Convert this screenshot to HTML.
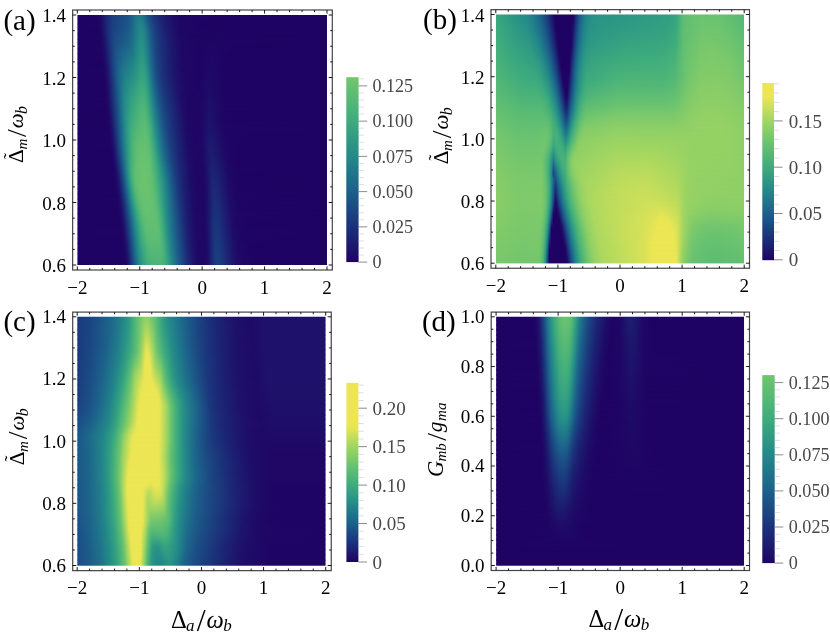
<!DOCTYPE html>
<html><head><meta charset="utf-8"><title>figure</title>
<style>html,body{margin:0;padding:0;background:#fff}svg{display:block}text{font-family:"Liberation Serif","DejaVu Serif",serif}</style>
</head><body>
<svg width="830" height="638" viewBox="0 0 830 638">
<defs><linearGradient id="vg" x1="0" y1="0" x2="0" y2="1"><stop offset="0" stop-color="#000"/><stop offset="1" stop-color="#fff"/></linearGradient><mask id="vm" maskContentUnits="objectBoundingBox"><rect x="0" y="0" width="1" height="1" fill="url(#vg)"/></mask>
<linearGradient id="a0"><stop offset="0" stop-color="#1f0363"/><stop offset="0.08" stop-color="#1f0464"/><stop offset="0.096" stop-color="#1e0e69"/><stop offset="0.128" stop-color="#1b347c"/><stop offset="0.152" stop-color="#1b4180"/><stop offset="0.192" stop-color="#1c4e85"/><stop offset="0.208" stop-color="#1c5888"/><stop offset="0.224" stop-color="#1d688b"/><stop offset="0.24" stop-color="#20788a"/><stop offset="0.248" stop-color="#207a8a"/><stop offset="0.256" stop-color="#20768a"/><stop offset="0.264" stop-color="#1e6e8a"/><stop offset="0.272" stop-color="#1c628b"/><stop offset="0.288" stop-color="#1b4782"/><stop offset="0.304" stop-color="#1b367c"/><stop offset="0.344" stop-color="#1d1c70"/><stop offset="0.392" stop-color="#1f0966"/><stop offset="0.432" stop-color="#1f0464"/><stop offset="1" stop-color="#1f0363"/></linearGradient>
<linearGradient id="a1"><stop offset="0" stop-color="#1f0363"/><stop offset="0.08" stop-color="#1f0464"/><stop offset="0.096" stop-color="#1e0d68"/><stop offset="0.128" stop-color="#1b347c"/><stop offset="0.144" stop-color="#1b4080"/><stop offset="0.2" stop-color="#1c5387"/><stop offset="0.216" stop-color="#1c618b"/><stop offset="0.24" stop-color="#217b8a"/><stop offset="0.248" stop-color="#218089"/><stop offset="0.256" stop-color="#217e8a"/><stop offset="0.264" stop-color="#20778a"/><stop offset="0.28" stop-color="#1c5d8a"/><stop offset="0.288" stop-color="#1c4f85"/><stop offset="0.304" stop-color="#1b3b7e"/><stop offset="0.336" stop-color="#1c2474"/><stop offset="0.384" stop-color="#1e0d68"/><stop offset="0.416" stop-color="#1f0664"/><stop offset="0.624" stop-color="#1f0363"/><stop offset="1" stop-color="#1f0363"/></linearGradient>
<linearGradient id="a2"><stop offset="0" stop-color="#1f0363"/><stop offset="0.08" stop-color="#1f0463"/><stop offset="0.096" stop-color="#1e0b67"/><stop offset="0.112" stop-color="#1d1f71"/><stop offset="0.128" stop-color="#1b357c"/><stop offset="0.144" stop-color="#1b4180"/><stop offset="0.2" stop-color="#1c5587"/><stop offset="0.216" stop-color="#1c628b"/><stop offset="0.24" stop-color="#217e8a"/><stop offset="0.248" stop-color="#228489"/><stop offset="0.256" stop-color="#228589"/><stop offset="0.264" stop-color="#217f8a"/><stop offset="0.272" stop-color="#1f748a"/><stop offset="0.28" stop-color="#1d668b"/><stop offset="0.296" stop-color="#1c4a83"/><stop offset="0.32" stop-color="#1b337b"/><stop offset="0.36" stop-color="#1d1a6f"/><stop offset="0.408" stop-color="#1f0865"/><stop offset="0.496" stop-color="#1f0363"/><stop offset="1" stop-color="#1f0363"/></linearGradient>
<linearGradient id="a3"><stop offset="0" stop-color="#1f0363"/><stop offset="0.08" stop-color="#1f0363"/><stop offset="0.096" stop-color="#1e0a66"/><stop offset="0.112" stop-color="#1d1d70"/><stop offset="0.128" stop-color="#1b357c"/><stop offset="0.144" stop-color="#1b4381"/><stop offset="0.2" stop-color="#1c5888"/><stop offset="0.216" stop-color="#1d648b"/><stop offset="0.248" stop-color="#238889"/><stop offset="0.256" stop-color="#238a89"/><stop offset="0.264" stop-color="#228689"/><stop offset="0.272" stop-color="#217c8a"/><stop offset="0.288" stop-color="#1c5e8a"/><stop offset="0.296" stop-color="#1c5186"/><stop offset="0.312" stop-color="#1b3e7f"/><stop offset="0.344" stop-color="#1c2575"/><stop offset="0.384" stop-color="#1e116a"/><stop offset="0.416" stop-color="#1f0765"/><stop offset="0.504" stop-color="#1f0463"/><stop offset="1" stop-color="#1f0363"/></linearGradient>
<linearGradient id="a4"><stop offset="0" stop-color="#1f0363"/><stop offset="0.088" stop-color="#1f0464"/><stop offset="0.096" stop-color="#1f0866"/><stop offset="0.104" stop-color="#1e106a"/><stop offset="0.128" stop-color="#1b347c"/><stop offset="0.144" stop-color="#1b4582"/><stop offset="0.168" stop-color="#1c4f85"/><stop offset="0.2" stop-color="#1c5b89"/><stop offset="0.216" stop-color="#1d668b"/><stop offset="0.248" stop-color="#238a89"/><stop offset="0.256" stop-color="#258d88"/><stop offset="0.264" stop-color="#238a89"/><stop offset="0.272" stop-color="#218189"/><stop offset="0.288" stop-color="#1d648b"/><stop offset="0.304" stop-color="#1c4a83"/><stop offset="0.328" stop-color="#1b337b"/><stop offset="0.368" stop-color="#1d1a6f"/><stop offset="0.408" stop-color="#1e0a66"/><stop offset="0.472" stop-color="#1f0463"/><stop offset="1" stop-color="#1f0363"/></linearGradient>
<linearGradient id="a5"><stop offset="0" stop-color="#1f0363"/><stop offset="0.088" stop-color="#1f0463"/><stop offset="0.096" stop-color="#1f0765"/><stop offset="0.104" stop-color="#1e0e68"/><stop offset="0.12" stop-color="#1c2575"/><stop offset="0.136" stop-color="#1b3e7f"/><stop offset="0.152" stop-color="#1c4c84"/><stop offset="0.208" stop-color="#1c638b"/><stop offset="0.224" stop-color="#1f718a"/><stop offset="0.248" stop-color="#258c88"/><stop offset="0.256" stop-color="#278f87"/><stop offset="0.264" stop-color="#258c88"/><stop offset="0.272" stop-color="#228489"/><stop offset="0.288" stop-color="#1d688b"/><stop offset="0.304" stop-color="#1c4d84"/><stop offset="0.328" stop-color="#1b357c"/><stop offset="0.368" stop-color="#1d1b6f"/><stop offset="0.416" stop-color="#1f0866"/><stop offset="0.496" stop-color="#1f0463"/><stop offset="0.552" stop-color="#1f0564"/><stop offset="1" stop-color="#1f0363"/></linearGradient>
<linearGradient id="a6"><stop offset="0" stop-color="#1f0363"/><stop offset="0.088" stop-color="#1f0463"/><stop offset="0.096" stop-color="#1f0664"/><stop offset="0.104" stop-color="#1e0c67"/><stop offset="0.112" stop-color="#1d156c"/><stop offset="0.128" stop-color="#1b317a"/><stop offset="0.144" stop-color="#1b4782"/><stop offset="0.16" stop-color="#1c5487"/><stop offset="0.2" stop-color="#1d638b"/><stop offset="0.216" stop-color="#1e6c8a"/><stop offset="0.24" stop-color="#228789"/><stop offset="0.248" stop-color="#268e88"/><stop offset="0.256" stop-color="#299186"/><stop offset="0.264" stop-color="#278f87"/><stop offset="0.272" stop-color="#238789"/><stop offset="0.288" stop-color="#1e6c8a"/><stop offset="0.296" stop-color="#1c5d8a"/><stop offset="0.312" stop-color="#1b4582"/><stop offset="0.336" stop-color="#1b307a"/><stop offset="0.376" stop-color="#1d176d"/><stop offset="0.416" stop-color="#1f0966"/><stop offset="0.488" stop-color="#1f0463"/><stop offset="0.544" stop-color="#1f0664"/><stop offset="0.664" stop-color="#1f0363"/><stop offset="1" stop-color="#1f0363"/></linearGradient>
<linearGradient id="a7"><stop offset="0" stop-color="#1f0363"/><stop offset="0.096" stop-color="#1f0564"/><stop offset="0.104" stop-color="#1e0a66"/><stop offset="0.112" stop-color="#1e136b"/><stop offset="0.136" stop-color="#1b3c7e"/><stop offset="0.152" stop-color="#1c5085"/><stop offset="0.176" stop-color="#1c608b"/><stop offset="0.216" stop-color="#1f718a"/><stop offset="0.24" stop-color="#238a89"/><stop offset="0.248" stop-color="#289087"/><stop offset="0.256" stop-color="#2b9486"/><stop offset="0.264" stop-color="#299286"/><stop offset="0.272" stop-color="#238b89"/><stop offset="0.288" stop-color="#1f6f8a"/><stop offset="0.296" stop-color="#1c608b"/><stop offset="0.312" stop-color="#1b4782"/><stop offset="0.336" stop-color="#1b317a"/><stop offset="0.376" stop-color="#1d186e"/><stop offset="0.416" stop-color="#1e0966"/><stop offset="0.488" stop-color="#1f0463"/><stop offset="0.544" stop-color="#1f0665"/><stop offset="0.632" stop-color="#1f0363"/><stop offset="1" stop-color="#1f0363"/></linearGradient>
<linearGradient id="a8"><stop offset="0" stop-color="#1f0363"/><stop offset="0.096" stop-color="#1f0464"/><stop offset="0.104" stop-color="#1f0866"/><stop offset="0.112" stop-color="#1e106a"/><stop offset="0.128" stop-color="#1c2b78"/><stop offset="0.144" stop-color="#1b4782"/><stop offset="0.16" stop-color="#1c5989"/><stop offset="0.184" stop-color="#1d688b"/><stop offset="0.216" stop-color="#20768a"/><stop offset="0.24" stop-color="#258c88"/><stop offset="0.256" stop-color="#2d9785"/><stop offset="0.264" stop-color="#2c9585"/><stop offset="0.272" stop-color="#268e88"/><stop offset="0.288" stop-color="#1f728a"/><stop offset="0.296" stop-color="#1c638b"/><stop offset="0.312" stop-color="#1b4983"/><stop offset="0.336" stop-color="#1b317b"/><stop offset="0.376" stop-color="#1d196e"/><stop offset="0.416" stop-color="#1e0966"/><stop offset="0.48" stop-color="#1f0463"/><stop offset="0.536" stop-color="#1f0765"/><stop offset="0.608" stop-color="#1f0363"/><stop offset="1" stop-color="#1f0363"/></linearGradient>
<linearGradient id="a9"><stop offset="0" stop-color="#1f0363"/><stop offset="0.096" stop-color="#1f0463"/><stop offset="0.104" stop-color="#1f0765"/><stop offset="0.112" stop-color="#1e0e68"/><stop offset="0.12" stop-color="#1d196e"/><stop offset="0.136" stop-color="#1b387d"/><stop offset="0.152" stop-color="#1c5186"/><stop offset="0.168" stop-color="#1c638b"/><stop offset="0.192" stop-color="#1f718a"/><stop offset="0.224" stop-color="#218189"/><stop offset="0.232" stop-color="#238889"/><stop offset="0.248" stop-color="#2c9685"/><stop offset="0.256" stop-color="#2f9984"/><stop offset="0.264" stop-color="#2e9884"/><stop offset="0.272" stop-color="#299186"/><stop offset="0.28" stop-color="#228589"/><stop offset="0.296" stop-color="#1d668b"/><stop offset="0.312" stop-color="#1c4b84"/><stop offset="0.328" stop-color="#1b397d"/><stop offset="0.36" stop-color="#1c2273"/><stop offset="0.4" stop-color="#1e0f69"/><stop offset="0.432" stop-color="#1f0765"/><stop offset="0.496" stop-color="#1f0464"/><stop offset="0.536" stop-color="#1f0866"/><stop offset="0.6" stop-color="#1f0363"/><stop offset="1" stop-color="#1f0363"/></linearGradient>
<linearGradient id="a10"><stop offset="0" stop-color="#1f0363"/><stop offset="0.096" stop-color="#1f0363"/><stop offset="0.104" stop-color="#1f0664"/><stop offset="0.112" stop-color="#1e0b67"/><stop offset="0.12" stop-color="#1d166d"/><stop offset="0.144" stop-color="#1b4481"/><stop offset="0.16" stop-color="#1c5c8a"/><stop offset="0.184" stop-color="#1f728a"/><stop offset="0.224" stop-color="#228689"/><stop offset="0.24" stop-color="#2a9286"/><stop offset="0.256" stop-color="#329c83"/><stop offset="0.264" stop-color="#319c83"/><stop offset="0.272" stop-color="#2c9585"/><stop offset="0.28" stop-color="#238a89"/><stop offset="0.296" stop-color="#1e698b"/><stop offset="0.312" stop-color="#1c4d84"/><stop offset="0.328" stop-color="#1b3a7e"/><stop offset="0.36" stop-color="#1c2373"/><stop offset="0.4" stop-color="#1e0f69"/><stop offset="0.432" stop-color="#1f0765"/><stop offset="0.496" stop-color="#1f0464"/><stop offset="0.536" stop-color="#1f0966"/><stop offset="0.6" stop-color="#1f0363"/><stop offset="1" stop-color="#1f0363"/></linearGradient>
<linearGradient id="a11"><stop offset="0" stop-color="#1f0363"/><stop offset="0.104" stop-color="#1f0564"/><stop offset="0.112" stop-color="#1e0a66"/><stop offset="0.12" stop-color="#1e136b"/><stop offset="0.144" stop-color="#1b4281"/><stop offset="0.16" stop-color="#1c5d8a"/><stop offset="0.184" stop-color="#20778a"/><stop offset="0.224" stop-color="#248b89"/><stop offset="0.256" stop-color="#349f81"/><stop offset="0.264" stop-color="#349f82"/><stop offset="0.272" stop-color="#2f9984"/><stop offset="0.28" stop-color="#268e88"/><stop offset="0.304" stop-color="#1c5e8a"/><stop offset="0.32" stop-color="#1b4581"/><stop offset="0.344" stop-color="#1b2e79"/><stop offset="0.384" stop-color="#1d176d"/><stop offset="0.424" stop-color="#1f0866"/><stop offset="0.488" stop-color="#1f0463"/><stop offset="0.536" stop-color="#1e0966"/><stop offset="0.592" stop-color="#1f0363"/><stop offset="1" stop-color="#1f0363"/></linearGradient>
<linearGradient id="a12"><stop offset="0" stop-color="#1f0363"/><stop offset="0.104" stop-color="#1f0464"/><stop offset="0.112" stop-color="#1f0866"/><stop offset="0.12" stop-color="#1e106a"/><stop offset="0.128" stop-color="#1d1e71"/><stop offset="0.144" stop-color="#1b3f80"/><stop offset="0.16" stop-color="#1c5d8a"/><stop offset="0.176" stop-color="#1f728a"/><stop offset="0.192" stop-color="#218089"/><stop offset="0.224" stop-color="#278f87"/><stop offset="0.256" stop-color="#36a280"/><stop offset="0.264" stop-color="#36a280"/><stop offset="0.272" stop-color="#329d82"/><stop offset="0.28" stop-color="#299286"/><stop offset="0.288" stop-color="#228389"/><stop offset="0.304" stop-color="#1c628b"/><stop offset="0.32" stop-color="#1b4782"/><stop offset="0.336" stop-color="#1b367c"/><stop offset="0.376" stop-color="#1d1c70"/><stop offset="0.424" stop-color="#1f0966"/><stop offset="0.488" stop-color="#1f0463"/><stop offset="0.536" stop-color="#1e0a67"/><stop offset="0.592" stop-color="#1f0363"/><stop offset="1" stop-color="#1f0363"/></linearGradient>
<linearGradient id="a13"><stop offset="0" stop-color="#1f0363"/><stop offset="0.104" stop-color="#1f0463"/><stop offset="0.112" stop-color="#1f0765"/><stop offset="0.12" stop-color="#1e0e69"/><stop offset="0.128" stop-color="#1d1b6f"/><stop offset="0.152" stop-color="#1c4d84"/><stop offset="0.16" stop-color="#1c5c8a"/><stop offset="0.176" stop-color="#1f738a"/><stop offset="0.192" stop-color="#228489"/><stop offset="0.216" stop-color="#289087"/><stop offset="0.256" stop-color="#39a57f"/><stop offset="0.264" stop-color="#39a57f"/><stop offset="0.272" stop-color="#35a181"/><stop offset="0.28" stop-color="#2d9685"/><stop offset="0.288" stop-color="#238989"/><stop offset="0.304" stop-color="#1d678b"/><stop offset="0.32" stop-color="#1c4b84"/><stop offset="0.336" stop-color="#1b397d"/><stop offset="0.368" stop-color="#1c2273"/><stop offset="0.416" stop-color="#1e0b67"/><stop offset="0.456" stop-color="#1f0564"/><stop offset="0.496" stop-color="#1f0564"/><stop offset="0.528" stop-color="#1e0b67"/><stop offset="0.592" stop-color="#1f0363"/><stop offset="1" stop-color="#1f0363"/></linearGradient>
<linearGradient id="a14"><stop offset="0" stop-color="#1f0363"/><stop offset="0.104" stop-color="#1f0363"/><stop offset="0.112" stop-color="#1f0664"/><stop offset="0.12" stop-color="#1e0c68"/><stop offset="0.128" stop-color="#1d186e"/><stop offset="0.152" stop-color="#1c4a84"/><stop offset="0.16" stop-color="#1c5b89"/><stop offset="0.176" stop-color="#1f748a"/><stop offset="0.192" stop-color="#228789"/><stop offset="0.248" stop-color="#38a580"/><stop offset="0.256" stop-color="#3ba97e"/><stop offset="0.264" stop-color="#3ca97e"/><stop offset="0.272" stop-color="#38a480"/><stop offset="0.28" stop-color="#309b83"/><stop offset="0.288" stop-color="#268e88"/><stop offset="0.304" stop-color="#1e6c8a"/><stop offset="0.312" stop-color="#1c5d8a"/><stop offset="0.328" stop-color="#1b4581"/><stop offset="0.352" stop-color="#1b2f79"/><stop offset="0.4" stop-color="#1e136b"/><stop offset="0.432" stop-color="#1f0865"/><stop offset="0.488" stop-color="#1f0464"/><stop offset="0.528" stop-color="#1e0c68"/><stop offset="0.592" stop-color="#1f0363"/><stop offset="1" stop-color="#1f0363"/></linearGradient>
<linearGradient id="a15"><stop offset="0" stop-color="#1f0363"/><stop offset="0.104" stop-color="#1f0363"/><stop offset="0.112" stop-color="#1f0564"/><stop offset="0.12" stop-color="#1e0b67"/><stop offset="0.128" stop-color="#1d166d"/><stop offset="0.152" stop-color="#1b4883"/><stop offset="0.16" stop-color="#1c5988"/><stop offset="0.176" stop-color="#1f758a"/><stop offset="0.192" stop-color="#238989"/><stop offset="0.224" stop-color="#319c83"/><stop offset="0.256" stop-color="#3eac7d"/><stop offset="0.264" stop-color="#3fad7d"/><stop offset="0.272" stop-color="#3ba97e"/><stop offset="0.28" stop-color="#349f82"/><stop offset="0.296" stop-color="#228389"/><stop offset="0.312" stop-color="#1c628b"/><stop offset="0.328" stop-color="#1b4983"/><stop offset="0.352" stop-color="#1b327b"/><stop offset="0.4" stop-color="#1e146c"/><stop offset="0.432" stop-color="#1f0865"/><stop offset="0.488" stop-color="#1f0464"/><stop offset="0.528" stop-color="#1e0d68"/><stop offset="0.592" stop-color="#1f0363"/><stop offset="1" stop-color="#1f0363"/></linearGradient>
<linearGradient id="a16"><stop offset="0" stop-color="#1f0363"/><stop offset="0.112" stop-color="#1f0464"/><stop offset="0.12" stop-color="#1e0966"/><stop offset="0.128" stop-color="#1e146c"/><stop offset="0.152" stop-color="#1b4582"/><stop offset="0.168" stop-color="#1d668b"/><stop offset="0.184" stop-color="#228189"/><stop offset="0.192" stop-color="#248b89"/><stop offset="0.216" stop-color="#319b83"/><stop offset="0.256" stop-color="#43af7b"/><stop offset="0.264" stop-color="#44af7b"/><stop offset="0.272" stop-color="#3fac7d"/><stop offset="0.28" stop-color="#37a480"/><stop offset="0.296" stop-color="#238989"/><stop offset="0.312" stop-color="#1d688b"/><stop offset="0.328" stop-color="#1c4e85"/><stop offset="0.344" stop-color="#1b3c7e"/><stop offset="0.392" stop-color="#1d1a6f"/><stop offset="0.424" stop-color="#1e0a67"/><stop offset="0.464" stop-color="#1f0564"/><stop offset="0.496" stop-color="#1f0664"/><stop offset="0.528" stop-color="#1e0e69"/><stop offset="0.592" stop-color="#1f0363"/><stop offset="1" stop-color="#1f0363"/></linearGradient>
<linearGradient id="a17"><stop offset="0" stop-color="#1f0363"/><stop offset="0.112" stop-color="#1f0463"/><stop offset="0.12" stop-color="#1f0865"/><stop offset="0.128" stop-color="#1e126b"/><stop offset="0.152" stop-color="#1b4281"/><stop offset="0.168" stop-color="#1d658b"/><stop offset="0.184" stop-color="#228289"/><stop offset="0.192" stop-color="#258d88"/><stop offset="0.216" stop-color="#339f82"/><stop offset="0.248" stop-color="#44af7b"/><stop offset="0.256" stop-color="#48b17a"/><stop offset="0.264" stop-color="#49b27a"/><stop offset="0.272" stop-color="#44af7b"/><stop offset="0.28" stop-color="#3ba87e"/><stop offset="0.296" stop-color="#268e88"/><stop offset="0.312" stop-color="#1e6e8a"/><stop offset="0.32" stop-color="#1c608b"/><stop offset="0.336" stop-color="#1b4883"/><stop offset="0.36" stop-color="#1b327b"/><stop offset="0.416" stop-color="#1e0f69"/><stop offset="0.44" stop-color="#1f0765"/><stop offset="0.488" stop-color="#1f0564"/><stop offset="0.528" stop-color="#1e0f69"/><stop offset="0.592" stop-color="#1f0363"/><stop offset="1" stop-color="#1f0363"/></linearGradient>
<linearGradient id="a18"><stop offset="0" stop-color="#1f0363"/><stop offset="0.112" stop-color="#1f0463"/><stop offset="0.12" stop-color="#1f0765"/><stop offset="0.128" stop-color="#1e1069"/><stop offset="0.152" stop-color="#1b3f80"/><stop offset="0.168" stop-color="#1c628b"/><stop offset="0.184" stop-color="#228289"/><stop offset="0.192" stop-color="#268e88"/><stop offset="0.216" stop-color="#36a281"/><stop offset="0.24" stop-color="#43ae7c"/><stop offset="0.256" stop-color="#4cb379"/><stop offset="0.264" stop-color="#4eb478"/><stop offset="0.272" stop-color="#4ab279"/><stop offset="0.28" stop-color="#3fad7d"/><stop offset="0.296" stop-color="#2a9286"/><stop offset="0.304" stop-color="#228389"/><stop offset="0.32" stop-color="#1d658b"/><stop offset="0.336" stop-color="#1c4d84"/><stop offset="0.36" stop-color="#1b367c"/><stop offset="0.416" stop-color="#1e1069"/><stop offset="0.44" stop-color="#1f0765"/><stop offset="0.488" stop-color="#1f0564"/><stop offset="0.528" stop-color="#1e106a"/><stop offset="0.592" stop-color="#1f0463"/><stop offset="1" stop-color="#1f0363"/></linearGradient>
<linearGradient id="a19"><stop offset="0" stop-color="#1f0363"/><stop offset="0.112" stop-color="#1f0363"/><stop offset="0.12" stop-color="#1f0664"/><stop offset="0.128" stop-color="#1e0d68"/><stop offset="0.144" stop-color="#1c2c78"/><stop offset="0.168" stop-color="#1c608b"/><stop offset="0.184" stop-color="#228189"/><stop offset="0.192" stop-color="#268e88"/><stop offset="0.216" stop-color="#38a480"/><stop offset="0.24" stop-color="#46b07a"/><stop offset="0.256" stop-color="#50b577"/><stop offset="0.264" stop-color="#52b677"/><stop offset="0.272" stop-color="#4fb578"/><stop offset="0.28" stop-color="#45b07b"/><stop offset="0.288" stop-color="#39a57f"/><stop offset="0.304" stop-color="#238989"/><stop offset="0.328" stop-color="#1c5e8a"/><stop offset="0.344" stop-color="#1b4883"/><stop offset="0.376" stop-color="#1b2c78"/><stop offset="0.424" stop-color="#1e0d68"/><stop offset="0.448" stop-color="#1f0665"/><stop offset="0.488" stop-color="#1f0564"/><stop offset="0.528" stop-color="#1e116a"/><stop offset="0.592" stop-color="#1f0463"/><stop offset="1" stop-color="#1f0363"/></linearGradient>
<linearGradient id="a20"><stop offset="0" stop-color="#1f0363"/><stop offset="0.12" stop-color="#1f0564"/><stop offset="0.128" stop-color="#1e0a67"/><stop offset="0.136" stop-color="#1d176d"/><stop offset="0.16" stop-color="#1c4b84"/><stop offset="0.168" stop-color="#1c5d8a"/><stop offset="0.184" stop-color="#218089"/><stop offset="0.192" stop-color="#278e87"/><stop offset="0.208" stop-color="#35a081"/><stop offset="0.224" stop-color="#3eac7d"/><stop offset="0.256" stop-color="#53b776"/><stop offset="0.264" stop-color="#55b876"/><stop offset="0.272" stop-color="#53b777"/><stop offset="0.28" stop-color="#4ab279"/><stop offset="0.288" stop-color="#3daa7e"/><stop offset="0.304" stop-color="#268e88"/><stop offset="0.32" stop-color="#1f708a"/><stop offset="0.328" stop-color="#1c638b"/><stop offset="0.344" stop-color="#1c4c84"/><stop offset="0.368" stop-color="#1b357c"/><stop offset="0.424" stop-color="#1e0e69"/><stop offset="0.448" stop-color="#1f0765"/><stop offset="0.488" stop-color="#1f0564"/><stop offset="0.528" stop-color="#1e126b"/><stop offset="0.592" stop-color="#1f0463"/><stop offset="1" stop-color="#1f0363"/></linearGradient>
<linearGradient id="a21"><stop offset="0" stop-color="#1f0363"/><stop offset="0.12" stop-color="#1f0463"/><stop offset="0.128" stop-color="#1f0866"/><stop offset="0.136" stop-color="#1e146c"/><stop offset="0.152" stop-color="#1b377d"/><stop offset="0.168" stop-color="#1c5a89"/><stop offset="0.184" stop-color="#217f8a"/><stop offset="0.192" stop-color="#268e88"/><stop offset="0.208" stop-color="#36a281"/><stop offset="0.224" stop-color="#42ae7c"/><stop offset="0.256" stop-color="#56b876"/><stop offset="0.264" stop-color="#58ba75"/><stop offset="0.272" stop-color="#56b975"/><stop offset="0.28" stop-color="#4fb578"/><stop offset="0.288" stop-color="#41ae7c"/><stop offset="0.304" stop-color="#2a9386"/><stop offset="0.312" stop-color="#228489"/><stop offset="0.336" stop-color="#1c5b89"/><stop offset="0.352" stop-color="#1b4682"/><stop offset="0.384" stop-color="#1c2a77"/><stop offset="0.424" stop-color="#1e0f69"/><stop offset="0.448" stop-color="#1f0765"/><stop offset="0.488" stop-color="#1f0564"/><stop offset="0.528" stop-color="#1e136b"/><stop offset="0.592" stop-color="#1f0464"/><stop offset="1" stop-color="#1f0363"/></linearGradient>
<linearGradient id="a22"><stop offset="0" stop-color="#1f0363"/><stop offset="0.12" stop-color="#1f0463"/><stop offset="0.128" stop-color="#1f0765"/><stop offset="0.136" stop-color="#1e106a"/><stop offset="0.152" stop-color="#1b337b"/><stop offset="0.168" stop-color="#1c5888"/><stop offset="0.176" stop-color="#1e6b8a"/><stop offset="0.192" stop-color="#268e88"/><stop offset="0.208" stop-color="#37a380"/><stop offset="0.216" stop-color="#3dab7d"/><stop offset="0.24" stop-color="#51b677"/><stop offset="0.264" stop-color="#5bbb74"/><stop offset="0.272" stop-color="#5abb74"/><stop offset="0.28" stop-color="#53b776"/><stop offset="0.288" stop-color="#47b17a"/><stop offset="0.296" stop-color="#3aa67f"/><stop offset="0.312" stop-color="#238a89"/><stop offset="0.336" stop-color="#1c608b"/><stop offset="0.352" stop-color="#1c4a83"/><stop offset="0.384" stop-color="#1b2c78"/><stop offset="0.432" stop-color="#1e0c68"/><stop offset="0.464" stop-color="#1f0564"/><stop offset="0.496" stop-color="#1f0765"/><stop offset="0.528" stop-color="#1e146c"/><stop offset="0.552" stop-color="#1e1069"/><stop offset="0.592" stop-color="#1f0464"/><stop offset="1" stop-color="#1f0363"/></linearGradient>
<linearGradient id="a23"><stop offset="0" stop-color="#1f0363"/><stop offset="0.12" stop-color="#1f0363"/><stop offset="0.128" stop-color="#1f0564"/><stop offset="0.136" stop-color="#1e0d68"/><stop offset="0.144" stop-color="#1d1c70"/><stop offset="0.16" stop-color="#1b4281"/><stop offset="0.168" stop-color="#1c5587"/><stop offset="0.176" stop-color="#1d688b"/><stop offset="0.192" stop-color="#258d88"/><stop offset="0.208" stop-color="#38a480"/><stop offset="0.216" stop-color="#3fad7d"/><stop offset="0.232" stop-color="#4fb578"/><stop offset="0.264" stop-color="#5ebd73"/><stop offset="0.272" stop-color="#5dbc73"/><stop offset="0.28" stop-color="#58ba75"/><stop offset="0.288" stop-color="#4db478"/><stop offset="0.296" stop-color="#3eab7d"/><stop offset="0.312" stop-color="#278f87"/><stop offset="0.328" stop-color="#1f718a"/><stop offset="0.344" stop-color="#1c5888"/><stop offset="0.368" stop-color="#1b3c7e"/><stop offset="0.416" stop-color="#1d176d"/><stop offset="0.44" stop-color="#1e0a67"/><stop offset="0.48" stop-color="#1f0564"/><stop offset="0.504" stop-color="#1e0a67"/><stop offset="0.528" stop-color="#1d156c"/><stop offset="0.552" stop-color="#1e116a"/><stop offset="0.592" stop-color="#1f0564"/><stop offset="1" stop-color="#1f0363"/></linearGradient>
<linearGradient id="a24"><stop offset="0" stop-color="#1f0363"/><stop offset="0.128" stop-color="#1f0464"/><stop offset="0.136" stop-color="#1e0a67"/><stop offset="0.144" stop-color="#1d186e"/><stop offset="0.168" stop-color="#1c5286"/><stop offset="0.176" stop-color="#1d668b"/><stop offset="0.192" stop-color="#248b89"/><stop offset="0.208" stop-color="#38a580"/><stop offset="0.216" stop-color="#41ae7c"/><stop offset="0.232" stop-color="#53b776"/><stop offset="0.256" stop-color="#5ebd73"/><stop offset="0.272" stop-color="#60be72"/><stop offset="0.28" stop-color="#5cbc74"/><stop offset="0.288" stop-color="#52b677"/><stop offset="0.296" stop-color="#43af7b"/><stop offset="0.312" stop-color="#2b9485"/><stop offset="0.32" stop-color="#228689"/><stop offset="0.344" stop-color="#1c5d8a"/><stop offset="0.368" stop-color="#1b3e7f"/><stop offset="0.408" stop-color="#1d1e71"/><stop offset="0.44" stop-color="#1e0b67"/><stop offset="0.472" stop-color="#1f0564"/><stop offset="0.496" stop-color="#1f0765"/><stop offset="0.528" stop-color="#1d176d"/><stop offset="0.552" stop-color="#1e136b"/><stop offset="0.592" stop-color="#1f0564"/><stop offset="0.736" stop-color="#1f0363"/><stop offset="1" stop-color="#1f0363"/></linearGradient>
<linearGradient id="a25"><stop offset="0" stop-color="#1f0363"/><stop offset="0.128" stop-color="#1f0463"/><stop offset="0.136" stop-color="#1f0866"/><stop offset="0.144" stop-color="#1e146c"/><stop offset="0.168" stop-color="#1c4f85"/><stop offset="0.176" stop-color="#1d638b"/><stop offset="0.192" stop-color="#238a89"/><stop offset="0.208" stop-color="#38a580"/><stop offset="0.216" stop-color="#42ae7c"/><stop offset="0.232" stop-color="#56b975"/><stop offset="0.248" stop-color="#5fbd73"/><stop offset="0.272" stop-color="#63bf71"/><stop offset="0.28" stop-color="#60be73"/><stop offset="0.288" stop-color="#56b975"/><stop offset="0.304" stop-color="#3aa87f"/><stop offset="0.32" stop-color="#248b89"/><stop offset="0.344" stop-color="#1c618b"/><stop offset="0.368" stop-color="#1b4180"/><stop offset="0.4" stop-color="#1c2575"/><stop offset="0.44" stop-color="#1e0c67"/><stop offset="0.472" stop-color="#1f0564"/><stop offset="0.496" stop-color="#1f0765"/><stop offset="0.528" stop-color="#1d186e"/><stop offset="0.544" stop-color="#1d176d"/><stop offset="0.592" stop-color="#1f0664"/><stop offset="0.672" stop-color="#1f0363"/><stop offset="1" stop-color="#1f0363"/></linearGradient>
<linearGradient id="a26"><stop offset="0" stop-color="#1f0363"/><stop offset="0.128" stop-color="#1f0463"/><stop offset="0.136" stop-color="#1f0765"/><stop offset="0.144" stop-color="#1e106a"/><stop offset="0.16" stop-color="#1b367c"/><stop offset="0.176" stop-color="#1c608b"/><stop offset="0.192" stop-color="#238889"/><stop offset="0.208" stop-color="#38a580"/><stop offset="0.216" stop-color="#43af7b"/><stop offset="0.232" stop-color="#59ba75"/><stop offset="0.248" stop-color="#62bf72"/><stop offset="0.272" stop-color="#66c171"/><stop offset="0.28" stop-color="#63bf72"/><stop offset="0.288" stop-color="#5bbb74"/><stop offset="0.304" stop-color="#3fac7d"/><stop offset="0.32" stop-color="#289187"/><stop offset="0.328" stop-color="#228289"/><stop offset="0.344" stop-color="#1d668b"/><stop offset="0.368" stop-color="#1b4481"/><stop offset="0.4" stop-color="#1c2775"/><stop offset="0.44" stop-color="#1e0d68"/><stop offset="0.464" stop-color="#1f0665"/><stop offset="0.496" stop-color="#1f0765"/><stop offset="0.528" stop-color="#1d196e"/><stop offset="0.544" stop-color="#1d196e"/><stop offset="0.592" stop-color="#1f0765"/><stop offset="0.648" stop-color="#1f0363"/><stop offset="1" stop-color="#1f0363"/></linearGradient>
<linearGradient id="a27"><stop offset="0" stop-color="#1f0363"/><stop offset="0.128" stop-color="#1f0363"/><stop offset="0.136" stop-color="#1f0564"/><stop offset="0.144" stop-color="#1e0c68"/><stop offset="0.152" stop-color="#1d1c70"/><stop offset="0.168" stop-color="#1b4582"/><stop offset="0.176" stop-color="#1c5b89"/><stop offset="0.192" stop-color="#228589"/><stop offset="0.208" stop-color="#38a480"/><stop offset="0.216" stop-color="#43af7b"/><stop offset="0.232" stop-color="#5abb74"/><stop offset="0.24" stop-color="#61be72"/><stop offset="0.264" stop-color="#67c170"/><stop offset="0.28" stop-color="#65c171"/><stop offset="0.288" stop-color="#5ebd73"/><stop offset="0.304" stop-color="#44af7b"/><stop offset="0.32" stop-color="#2c9685"/><stop offset="0.328" stop-color="#238889"/><stop offset="0.352" stop-color="#1c5e8a"/><stop offset="0.376" stop-color="#1b3f7f"/><stop offset="0.408" stop-color="#1c2373"/><stop offset="0.44" stop-color="#1e0e68"/><stop offset="0.464" stop-color="#1f0765"/><stop offset="0.496" stop-color="#1f0765"/><stop offset="0.512" stop-color="#1e0e69"/><stop offset="0.528" stop-color="#1d1a6f"/><stop offset="0.544" stop-color="#1d1b6f"/><stop offset="0.592" stop-color="#1f0765"/><stop offset="0.64" stop-color="#1f0363"/><stop offset="1" stop-color="#1f0363"/></linearGradient>
<linearGradient id="a28"><stop offset="0" stop-color="#1f0363"/><stop offset="0.136" stop-color="#1f0464"/><stop offset="0.144" stop-color="#1e0966"/><stop offset="0.152" stop-color="#1d176d"/><stop offset="0.176" stop-color="#1c5687"/><stop offset="0.184" stop-color="#1e6c8a"/><stop offset="0.192" stop-color="#228289"/><stop offset="0.208" stop-color="#37a380"/><stop offset="0.216" stop-color="#43af7b"/><stop offset="0.232" stop-color="#5bbb74"/><stop offset="0.24" stop-color="#62bf72"/><stop offset="0.256" stop-color="#67c270"/><stop offset="0.28" stop-color="#67c170"/><stop offset="0.288" stop-color="#61bf72"/><stop offset="0.296" stop-color="#57b975"/><stop offset="0.312" stop-color="#3ba87e"/><stop offset="0.328" stop-color="#268d88"/><stop offset="0.352" stop-color="#1d638b"/><stop offset="0.376" stop-color="#1b4280"/><stop offset="0.408" stop-color="#1c2474"/><stop offset="0.44" stop-color="#1e0f69"/><stop offset="0.464" stop-color="#1f0765"/><stop offset="0.496" stop-color="#1f0665"/><stop offset="0.512" stop-color="#1e0e69"/><stop offset="0.528" stop-color="#1d1a6f"/><stop offset="0.536" stop-color="#1d1d70"/><stop offset="0.56" stop-color="#1d176d"/><stop offset="0.592" stop-color="#1f0866"/><stop offset="0.632" stop-color="#1f0363"/><stop offset="1" stop-color="#1f0363"/></linearGradient>
<linearGradient id="a29"><stop offset="0" stop-color="#1f0363"/><stop offset="0.136" stop-color="#1f0463"/><stop offset="0.144" stop-color="#1f0765"/><stop offset="0.152" stop-color="#1e126b"/><stop offset="0.168" stop-color="#1b397d"/><stop offset="0.184" stop-color="#1d678b"/><stop offset="0.192" stop-color="#217e8a"/><stop offset="0.2" stop-color="#299286"/><stop offset="0.208" stop-color="#36a280"/><stop offset="0.216" stop-color="#43af7b"/><stop offset="0.224" stop-color="#51b677"/><stop offset="0.24" stop-color="#63bf72"/><stop offset="0.256" stop-color="#69c270"/><stop offset="0.28" stop-color="#67c270"/><stop offset="0.288" stop-color="#63c071"/><stop offset="0.296" stop-color="#5abb74"/><stop offset="0.312" stop-color="#3eac7d"/><stop offset="0.328" stop-color="#2a9386"/><stop offset="0.336" stop-color="#228589"/><stop offset="0.36" stop-color="#1c5c8a"/><stop offset="0.384" stop-color="#1b3c7f"/><stop offset="0.416" stop-color="#1d2072"/><stop offset="0.448" stop-color="#1e0c68"/><stop offset="0.48" stop-color="#1f0664"/><stop offset="0.504" stop-color="#1f0966"/><stop offset="0.536" stop-color="#1d1f71"/><stop offset="0.552" stop-color="#1d1d70"/><stop offset="0.6" stop-color="#1f0765"/><stop offset="0.648" stop-color="#1f0363"/><stop offset="1" stop-color="#1f0363"/></linearGradient>
<linearGradient id="a30"><stop offset="0" stop-color="#1f0363"/><stop offset="0.136" stop-color="#1f0363"/><stop offset="0.144" stop-color="#1f0564"/><stop offset="0.152" stop-color="#1e0d68"/><stop offset="0.16" stop-color="#1d1d70"/><stop offset="0.176" stop-color="#1b4883"/><stop offset="0.184" stop-color="#1c618b"/><stop offset="0.2" stop-color="#278f87"/><stop offset="0.208" stop-color="#35a181"/><stop offset="0.216" stop-color="#44af7b"/><stop offset="0.224" stop-color="#52b777"/><stop offset="0.232" stop-color="#5dbc74"/><stop offset="0.248" stop-color="#68c270"/><stop offset="0.272" stop-color="#6ac370"/><stop offset="0.288" stop-color="#65c071"/><stop offset="0.296" stop-color="#5dbc73"/><stop offset="0.312" stop-color="#43af7b"/><stop offset="0.336" stop-color="#248c88"/><stop offset="0.36" stop-color="#1c638b"/><stop offset="0.384" stop-color="#1b4080"/><stop offset="0.408" stop-color="#1c2876"/><stop offset="0.448" stop-color="#1e0d68"/><stop offset="0.472" stop-color="#1f0665"/><stop offset="0.496" stop-color="#1f0664"/><stop offset="0.512" stop-color="#1e0c68"/><stop offset="0.536" stop-color="#1d2072"/><stop offset="0.552" stop-color="#1d1f71"/><stop offset="0.6" stop-color="#1f0866"/><stop offset="0.64" stop-color="#1f0363"/><stop offset="1" stop-color="#1f0363"/></linearGradient>
<linearGradient id="a31"><stop offset="0" stop-color="#1f0363"/><stop offset="0.144" stop-color="#1f0464"/><stop offset="0.152" stop-color="#1e0966"/><stop offset="0.16" stop-color="#1d166d"/><stop offset="0.176" stop-color="#1b4180"/><stop offset="0.184" stop-color="#1c5a89"/><stop offset="0.2" stop-color="#248c88"/><stop offset="0.208" stop-color="#349f81"/><stop offset="0.216" stop-color="#43af7b"/><stop offset="0.224" stop-color="#53b776"/><stop offset="0.232" stop-color="#5ebd73"/><stop offset="0.248" stop-color="#68c270"/><stop offset="0.264" stop-color="#6cc36f"/><stop offset="0.288" stop-color="#65c171"/><stop offset="0.296" stop-color="#5fbd73"/><stop offset="0.312" stop-color="#48b17a"/><stop offset="0.32" stop-color="#3ba87e"/><stop offset="0.336" stop-color="#299187"/><stop offset="0.344" stop-color="#228489"/><stop offset="0.368" stop-color="#1c5c8a"/><stop offset="0.392" stop-color="#1b3a7e"/><stop offset="0.416" stop-color="#1c2373"/><stop offset="0.448" stop-color="#1e0e68"/><stop offset="0.472" stop-color="#1f0665"/><stop offset="0.496" stop-color="#1f0664"/><stop offset="0.512" stop-color="#1e0b67"/><stop offset="0.536" stop-color="#1d2072"/><stop offset="0.544" stop-color="#1c2373"/><stop offset="0.568" stop-color="#1d1b6f"/><stop offset="0.6" stop-color="#1e0a66"/><stop offset="0.632" stop-color="#1f0463"/><stop offset="1" stop-color="#1f0363"/></linearGradient>
<linearGradient id="a32"><stop offset="0" stop-color="#1f0363"/><stop offset="0.144" stop-color="#1f0463"/><stop offset="0.152" stop-color="#1f0765"/><stop offset="0.16" stop-color="#1e116a"/><stop offset="0.168" stop-color="#1c2373"/><stop offset="0.184" stop-color="#1c5286"/><stop offset="0.192" stop-color="#1e6c8a"/><stop offset="0.2" stop-color="#228689"/><stop offset="0.208" stop-color="#319c83"/><stop offset="0.216" stop-color="#41ae7c"/><stop offset="0.224" stop-color="#53b777"/><stop offset="0.232" stop-color="#5fbd73"/><stop offset="0.248" stop-color="#69c270"/><stop offset="0.272" stop-color="#6cc36f"/><stop offset="0.288" stop-color="#66c171"/><stop offset="0.296" stop-color="#61be72"/><stop offset="0.304" stop-color="#58ba75"/><stop offset="0.32" stop-color="#3eac7d"/><stop offset="0.344" stop-color="#238a89"/><stop offset="0.368" stop-color="#1c628b"/><stop offset="0.392" stop-color="#1b3d7f"/><stop offset="0.416" stop-color="#1c2574"/><stop offset="0.448" stop-color="#1e0e69"/><stop offset="0.472" stop-color="#1f0765"/><stop offset="0.504" stop-color="#1f0765"/><stop offset="0.52" stop-color="#1e116a"/><stop offset="0.536" stop-color="#1c2172"/><stop offset="0.544" stop-color="#1c2474"/><stop offset="0.56" stop-color="#1c2172"/><stop offset="0.608" stop-color="#1f0866"/><stop offset="0.648" stop-color="#1f0363"/><stop offset="1" stop-color="#1f0363"/></linearGradient>
<linearGradient id="a33"><stop offset="0" stop-color="#1f0363"/><stop offset="0.144" stop-color="#1f0363"/><stop offset="0.152" stop-color="#1f0564"/><stop offset="0.16" stop-color="#1e0d68"/><stop offset="0.168" stop-color="#1d1c70"/><stop offset="0.184" stop-color="#1c4b84"/><stop offset="0.192" stop-color="#1d658b"/><stop offset="0.2" stop-color="#217f8a"/><stop offset="0.208" stop-color="#2d9685"/><stop offset="0.216" stop-color="#3dab7e"/><stop offset="0.224" stop-color="#50b577"/><stop offset="0.232" stop-color="#5dbc73"/><stop offset="0.24" stop-color="#65c071"/><stop offset="0.264" stop-color="#6dc46f"/><stop offset="0.28" stop-color="#6bc36f"/><stop offset="0.296" stop-color="#63bf72"/><stop offset="0.304" stop-color="#5bbb74"/><stop offset="0.32" stop-color="#42ae7c"/><stop offset="0.344" stop-color="#278f87"/><stop offset="0.36" stop-color="#1f748a"/><stop offset="0.376" stop-color="#1c5989"/><stop offset="0.4" stop-color="#1b377d"/><stop offset="0.424" stop-color="#1d2072"/><stop offset="0.456" stop-color="#1e0b67"/><stop offset="0.488" stop-color="#1f0564"/><stop offset="0.504" stop-color="#1f0765"/><stop offset="0.52" stop-color="#1e106a"/><stop offset="0.536" stop-color="#1c2172"/><stop offset="0.544" stop-color="#1c2675"/><stop offset="0.56" stop-color="#1c2474"/><stop offset="0.608" stop-color="#1e0a66"/><stop offset="0.64" stop-color="#1f0463"/><stop offset="1" stop-color="#1f0363"/></linearGradient>
<linearGradient id="a34"><stop offset="0" stop-color="#1f0363"/><stop offset="0.152" stop-color="#1f0464"/><stop offset="0.16" stop-color="#1e0966"/><stop offset="0.168" stop-color="#1d166d"/><stop offset="0.176" stop-color="#1c2b77"/><stop offset="0.192" stop-color="#1c5d8a"/><stop offset="0.2" stop-color="#20768a"/><stop offset="0.208" stop-color="#279087"/><stop offset="0.216" stop-color="#38a480"/><stop offset="0.224" stop-color="#4ab279"/><stop offset="0.232" stop-color="#59ba75"/><stop offset="0.24" stop-color="#63bf72"/><stop offset="0.256" stop-color="#6bc36f"/><stop offset="0.28" stop-color="#6bc36f"/><stop offset="0.296" stop-color="#64c071"/><stop offset="0.304" stop-color="#5dbc73"/><stop offset="0.32" stop-color="#46b07a"/><stop offset="0.336" stop-color="#329d82"/><stop offset="0.352" stop-color="#228689"/><stop offset="0.376" stop-color="#1c5d8a"/><stop offset="0.4" stop-color="#1b3a7e"/><stop offset="0.424" stop-color="#1c2173"/><stop offset="0.456" stop-color="#1e0c68"/><stop offset="0.48" stop-color="#1f0664"/><stop offset="0.504" stop-color="#1f0665"/><stop offset="0.52" stop-color="#1e1069"/><stop offset="0.536" stop-color="#1c2173"/><stop offset="0.544" stop-color="#1c2776"/><stop offset="0.56" stop-color="#1c2675"/><stop offset="0.608" stop-color="#1e0b67"/><stop offset="0.64" stop-color="#1f0463"/><stop offset="1" stop-color="#1f0363"/></linearGradient>
<linearGradient id="a35"><stop offset="0" stop-color="#1f0363"/><stop offset="0.152" stop-color="#1f0463"/><stop offset="0.16" stop-color="#1f0765"/><stop offset="0.168" stop-color="#1e116a"/><stop offset="0.176" stop-color="#1c2474"/><stop offset="0.192" stop-color="#1c5487"/><stop offset="0.2" stop-color="#1e6e8a"/><stop offset="0.208" stop-color="#238789"/><stop offset="0.216" stop-color="#329d82"/><stop offset="0.224" stop-color="#42ae7c"/><stop offset="0.232" stop-color="#54b776"/><stop offset="0.24" stop-color="#5fbd73"/><stop offset="0.256" stop-color="#69c270"/><stop offset="0.28" stop-color="#6bc36f"/><stop offset="0.296" stop-color="#65c071"/><stop offset="0.304" stop-color="#60be73"/><stop offset="0.312" stop-color="#57b975"/><stop offset="0.328" stop-color="#3dab7d"/><stop offset="0.352" stop-color="#238989"/><stop offset="0.376" stop-color="#1c618b"/><stop offset="0.4" stop-color="#1b3c7f"/><stop offset="0.424" stop-color="#1c2373"/><stop offset="0.456" stop-color="#1e0d68"/><stop offset="0.48" stop-color="#1f0665"/><stop offset="0.504" stop-color="#1f0665"/><stop offset="0.52" stop-color="#1e0f69"/><stop offset="0.536" stop-color="#1c2273"/><stop offset="0.544" stop-color="#1c2976"/><stop offset="0.56" stop-color="#1c2876"/><stop offset="0.608" stop-color="#1e0c68"/><stop offset="0.64" stop-color="#1f0464"/><stop offset="1" stop-color="#1f0363"/></linearGradient>
<linearGradient id="a36"><stop offset="0" stop-color="#1f0363"/><stop offset="0.152" stop-color="#1f0363"/><stop offset="0.16" stop-color="#1f0564"/><stop offset="0.168" stop-color="#1e0d68"/><stop offset="0.176" stop-color="#1d1d70"/><stop offset="0.192" stop-color="#1c4b84"/><stop offset="0.2" stop-color="#1d658b"/><stop offset="0.208" stop-color="#217e8a"/><stop offset="0.216" stop-color="#2b9585"/><stop offset="0.224" stop-color="#3ba87e"/><stop offset="0.232" stop-color="#4cb379"/><stop offset="0.24" stop-color="#5abb74"/><stop offset="0.248" stop-color="#62bf72"/><stop offset="0.264" stop-color="#69c270"/><stop offset="0.288" stop-color="#69c270"/><stop offset="0.304" stop-color="#61bf72"/><stop offset="0.312" stop-color="#5abb74"/><stop offset="0.328" stop-color="#40ad7c"/><stop offset="0.352" stop-color="#248b89"/><stop offset="0.376" stop-color="#1d648b"/><stop offset="0.4" stop-color="#1b3f80"/><stop offset="0.424" stop-color="#1c2474"/><stop offset="0.456" stop-color="#1e0d68"/><stop offset="0.48" stop-color="#1f0665"/><stop offset="0.504" stop-color="#1f0665"/><stop offset="0.52" stop-color="#1e0f69"/><stop offset="0.544" stop-color="#1c2a77"/><stop offset="0.552" stop-color="#1c2b78"/><stop offset="0.568" stop-color="#1c2675"/><stop offset="0.608" stop-color="#1e0d68"/><stop offset="0.64" stop-color="#1f0464"/><stop offset="1" stop-color="#1f0363"/></linearGradient>
<linearGradient id="a37"><stop offset="0" stop-color="#1f0363"/><stop offset="0.16" stop-color="#1f0464"/><stop offset="0.168" stop-color="#1e0a66"/><stop offset="0.176" stop-color="#1d176d"/><stop offset="0.192" stop-color="#1b4381"/><stop offset="0.2" stop-color="#1c5b89"/><stop offset="0.216" stop-color="#258c88"/><stop offset="0.224" stop-color="#34a081"/><stop offset="0.232" stop-color="#43af7b"/><stop offset="0.24" stop-color="#53b776"/><stop offset="0.248" stop-color="#5ebd73"/><stop offset="0.264" stop-color="#67c270"/><stop offset="0.288" stop-color="#68c270"/><stop offset="0.304" stop-color="#63bf72"/><stop offset="0.312" stop-color="#5dbc74"/><stop offset="0.328" stop-color="#44af7b"/><stop offset="0.352" stop-color="#268d88"/><stop offset="0.376" stop-color="#1d678b"/><stop offset="0.392" stop-color="#1c4e85"/><stop offset="0.416" stop-color="#1b2e79"/><stop offset="0.44" stop-color="#1d196e"/><stop offset="0.464" stop-color="#1e0a67"/><stop offset="0.496" stop-color="#1f0664"/><stop offset="0.512" stop-color="#1e0966"/><stop offset="0.52" stop-color="#1e0f69"/><stop offset="0.544" stop-color="#1c2b78"/><stop offset="0.552" stop-color="#1b2d79"/><stop offset="0.568" stop-color="#1c2876"/><stop offset="0.608" stop-color="#1e0e69"/><stop offset="0.64" stop-color="#1f0564"/><stop offset="1" stop-color="#1f0363"/></linearGradient>
<linearGradient id="a38"><stop offset="0" stop-color="#1f0363"/><stop offset="0.16" stop-color="#1f0463"/><stop offset="0.168" stop-color="#1f0765"/><stop offset="0.176" stop-color="#1e126b"/><stop offset="0.184" stop-color="#1c2574"/><stop offset="0.2" stop-color="#1c5286"/><stop offset="0.208" stop-color="#1e6a8b"/><stop offset="0.216" stop-color="#228289"/><stop offset="0.232" stop-color="#3ba97e"/><stop offset="0.24" stop-color="#4bb379"/><stop offset="0.248" stop-color="#58ba75"/><stop offset="0.256" stop-color="#60be72"/><stop offset="0.272" stop-color="#67c270"/><stop offset="0.296" stop-color="#66c171"/><stop offset="0.312" stop-color="#5fbd73"/><stop offset="0.32" stop-color="#56b876"/><stop offset="0.336" stop-color="#3ba87e"/><stop offset="0.352" stop-color="#278f87"/><stop offset="0.36" stop-color="#228389"/><stop offset="0.384" stop-color="#1c5d8a"/><stop offset="0.408" stop-color="#1b3a7e"/><stop offset="0.432" stop-color="#1d2072"/><stop offset="0.464" stop-color="#1e0b67"/><stop offset="0.488" stop-color="#1f0664"/><stop offset="0.504" stop-color="#1f0665"/><stop offset="0.52" stop-color="#1e0f69"/><stop offset="0.544" stop-color="#1b2c78"/><stop offset="0.552" stop-color="#1b2f79"/><stop offset="0.568" stop-color="#1c2a77"/><stop offset="0.616" stop-color="#1e0c67"/><stop offset="0.648" stop-color="#1f0464"/><stop offset="1" stop-color="#1f0363"/></linearGradient>
<linearGradient id="a39"><stop offset="0" stop-color="#1f0363"/><stop offset="0.16" stop-color="#1f0363"/><stop offset="0.168" stop-color="#1f0664"/><stop offset="0.176" stop-color="#1e0e69"/><stop offset="0.184" stop-color="#1d1e71"/><stop offset="0.2" stop-color="#1c4a83"/><stop offset="0.208" stop-color="#1c628b"/><stop offset="0.224" stop-color="#278f87"/><stop offset="0.232" stop-color="#35a081"/><stop offset="0.24" stop-color="#43ae7c"/><stop offset="0.248" stop-color="#51b677"/><stop offset="0.256" stop-color="#5bbb74"/><stop offset="0.264" stop-color="#62bf72"/><stop offset="0.28" stop-color="#66c171"/><stop offset="0.304" stop-color="#64c071"/><stop offset="0.312" stop-color="#60be72"/><stop offset="0.32" stop-color="#59ba75"/><stop offset="0.336" stop-color="#3dab7d"/><stop offset="0.352" stop-color="#299286"/><stop offset="0.36" stop-color="#228589"/><stop offset="0.384" stop-color="#1c608b"/><stop offset="0.416" stop-color="#1b337b"/><stop offset="0.44" stop-color="#1d1b6f"/><stop offset="0.464" stop-color="#1e0b67"/><stop offset="0.488" stop-color="#1f0664"/><stop offset="0.504" stop-color="#1f0665"/><stop offset="0.52" stop-color="#1e0f69"/><stop offset="0.544" stop-color="#1b2d79"/><stop offset="0.552" stop-color="#1b317a"/><stop offset="0.568" stop-color="#1c2c78"/><stop offset="0.616" stop-color="#1e0d68"/><stop offset="0.648" stop-color="#1f0464"/><stop offset="1" stop-color="#1f0363"/></linearGradient>
<linearGradient id="a40"><stop offset="0" stop-color="#1f0363"/><stop offset="0.168" stop-color="#1f0464"/><stop offset="0.176" stop-color="#1e0a67"/><stop offset="0.184" stop-color="#1d186e"/><stop offset="0.208" stop-color="#1c5989"/><stop offset="0.224" stop-color="#228689"/><stop offset="0.24" stop-color="#3ba87e"/><stop offset="0.248" stop-color="#4ab279"/><stop offset="0.256" stop-color="#56b876"/><stop offset="0.264" stop-color="#5ebd73"/><stop offset="0.28" stop-color="#65c071"/><stop offset="0.312" stop-color="#61bf72"/><stop offset="0.32" stop-color="#5cbc74"/><stop offset="0.328" stop-color="#50b677"/><stop offset="0.336" stop-color="#41ae7c"/><stop offset="0.352" stop-color="#2b9485"/><stop offset="0.36" stop-color="#238789"/><stop offset="0.384" stop-color="#1c628b"/><stop offset="0.424" stop-color="#1c2b78"/><stop offset="0.448" stop-color="#1d166d"/><stop offset="0.472" stop-color="#1f0966"/><stop offset="0.504" stop-color="#1f0665"/><stop offset="0.512" stop-color="#1e0966"/><stop offset="0.52" stop-color="#1e0f69"/><stop offset="0.544" stop-color="#1b2e79"/><stop offset="0.552" stop-color="#1b327b"/><stop offset="0.568" stop-color="#1b2e79"/><stop offset="0.616" stop-color="#1e0e68"/><stop offset="0.648" stop-color="#1f0564"/><stop offset="1" stop-color="#1f0363"/></linearGradient>
<linearGradient id="a41"><stop offset="0" stop-color="#1f0363"/><stop offset="0.168" stop-color="#1f0463"/><stop offset="0.176" stop-color="#1f0865"/><stop offset="0.184" stop-color="#1e136b"/><stop offset="0.2" stop-color="#1b3b7e"/><stop offset="0.216" stop-color="#1d688b"/><stop offset="0.224" stop-color="#217e8a"/><stop offset="0.232" stop-color="#299286"/><stop offset="0.24" stop-color="#36a281"/><stop offset="0.248" stop-color="#42ae7c"/><stop offset="0.256" stop-color="#50b578"/><stop offset="0.264" stop-color="#5abb74"/><stop offset="0.272" stop-color="#60be72"/><stop offset="0.296" stop-color="#63c071"/><stop offset="0.312" stop-color="#62bf72"/><stop offset="0.32" stop-color="#5ebd73"/><stop offset="0.328" stop-color="#54b876"/><stop offset="0.336" stop-color="#46b07b"/><stop offset="0.352" stop-color="#2d9784"/><stop offset="0.36" stop-color="#238a89"/><stop offset="0.384" stop-color="#1d648b"/><stop offset="0.424" stop-color="#1b2d79"/><stop offset="0.448" stop-color="#1d176d"/><stop offset="0.472" stop-color="#1e0966"/><stop offset="0.496" stop-color="#1f0664"/><stop offset="0.512" stop-color="#1e0966"/><stop offset="0.52" stop-color="#1e0f69"/><stop offset="0.544" stop-color="#1b2f7a"/><stop offset="0.552" stop-color="#1b347c"/><stop offset="0.568" stop-color="#1b307a"/><stop offset="0.616" stop-color="#1e0f69"/><stop offset="0.64" stop-color="#1f0665"/><stop offset="0.712" stop-color="#1f0363"/><stop offset="1" stop-color="#1f0363"/></linearGradient>
<linearGradient id="a42"><stop offset="0" stop-color="#1f0363"/><stop offset="0.168" stop-color="#1f0363"/><stop offset="0.176" stop-color="#1f0665"/><stop offset="0.184" stop-color="#1e0f69"/><stop offset="0.192" stop-color="#1d2072"/><stop offset="0.208" stop-color="#1c4a83"/><stop offset="0.216" stop-color="#1c618b"/><stop offset="0.232" stop-color="#248c88"/><stop offset="0.248" stop-color="#3caa7e"/><stop offset="0.264" stop-color="#55b876"/><stop offset="0.272" stop-color="#5dbc74"/><stop offset="0.288" stop-color="#62bf72"/><stop offset="0.312" stop-color="#61bf72"/><stop offset="0.32" stop-color="#5fbd73"/><stop offset="0.328" stop-color="#58b975"/><stop offset="0.344" stop-color="#3ba87e"/><stop offset="0.36" stop-color="#258d88"/><stop offset="0.384" stop-color="#1d678b"/><stop offset="0.4" stop-color="#1c5086"/><stop offset="0.432" stop-color="#1c2675"/><stop offset="0.456" stop-color="#1e126b"/><stop offset="0.48" stop-color="#1f0765"/><stop offset="0.504" stop-color="#1f0665"/><stop offset="0.512" stop-color="#1f0966"/><stop offset="0.52" stop-color="#1e0f69"/><stop offset="0.544" stop-color="#1b307a"/><stop offset="0.552" stop-color="#1b357c"/><stop offset="0.568" stop-color="#1b327b"/><stop offset="0.616" stop-color="#1e106a"/><stop offset="0.64" stop-color="#1f0765"/><stop offset="0.696" stop-color="#1f0363"/><stop offset="1" stop-color="#1f0363"/></linearGradient>
<linearGradient id="a43"><stop offset="0" stop-color="#1f0363"/><stop offset="0.176" stop-color="#1f0564"/><stop offset="0.184" stop-color="#1e0b67"/><stop offset="0.192" stop-color="#1d1a6f"/><stop offset="0.216" stop-color="#1c5a89"/><stop offset="0.232" stop-color="#228689"/><stop offset="0.248" stop-color="#38a480"/><stop offset="0.256" stop-color="#44af7b"/><stop offset="0.272" stop-color="#59ba75"/><stop offset="0.28" stop-color="#5ebd73"/><stop offset="0.312" stop-color="#60be72"/><stop offset="0.32" stop-color="#5fbd73"/><stop offset="0.328" stop-color="#5abb74"/><stop offset="0.336" stop-color="#4eb478"/><stop offset="0.344" stop-color="#3eac7d"/><stop offset="0.36" stop-color="#289087"/><stop offset="0.368" stop-color="#228289"/><stop offset="0.392" stop-color="#1c5e8a"/><stop offset="0.432" stop-color="#1c2876"/><stop offset="0.456" stop-color="#1e136b"/><stop offset="0.48" stop-color="#1f0865"/><stop offset="0.504" stop-color="#1f0665"/><stop offset="0.512" stop-color="#1f0966"/><stop offset="0.52" stop-color="#1e0e69"/><stop offset="0.536" stop-color="#1c2574"/><stop offset="0.544" stop-color="#1b317a"/><stop offset="0.552" stop-color="#1b377d"/><stop offset="0.568" stop-color="#1b337c"/><stop offset="0.624" stop-color="#1e0d68"/><stop offset="0.656" stop-color="#1f0564"/><stop offset="1" stop-color="#1f0363"/></linearGradient>
<linearGradient id="a44"><stop offset="0" stop-color="#1f0363"/><stop offset="0.176" stop-color="#1f0463"/><stop offset="0.184" stop-color="#1f0866"/><stop offset="0.192" stop-color="#1d156c"/><stop offset="0.208" stop-color="#1b3e7f"/><stop offset="0.216" stop-color="#1c5487"/><stop offset="0.224" stop-color="#1e6a8b"/><stop offset="0.232" stop-color="#217f8a"/><stop offset="0.24" stop-color="#299186"/><stop offset="0.256" stop-color="#3eac7d"/><stop offset="0.272" stop-color="#54b876"/><stop offset="0.28" stop-color="#5bbb74"/><stop offset="0.304" stop-color="#5ebd73"/><stop offset="0.32" stop-color="#5fbd73"/><stop offset="0.328" stop-color="#5bbb74"/><stop offset="0.336" stop-color="#51b677"/><stop offset="0.344" stop-color="#42ae7c"/><stop offset="0.36" stop-color="#2b9386"/><stop offset="0.368" stop-color="#228689"/><stop offset="0.392" stop-color="#1c618b"/><stop offset="0.432" stop-color="#1c2a77"/><stop offset="0.456" stop-color="#1e146c"/><stop offset="0.48" stop-color="#1f0866"/><stop offset="0.504" stop-color="#1f0665"/><stop offset="0.52" stop-color="#1e0e69"/><stop offset="0.528" stop-color="#1d176d"/><stop offset="0.544" stop-color="#1b317a"/><stop offset="0.552" stop-color="#1b387d"/><stop offset="0.568" stop-color="#1b357c"/><stop offset="0.624" stop-color="#1e0e69"/><stop offset="0.656" stop-color="#1f0564"/><stop offset="1" stop-color="#1f0363"/></linearGradient>
<linearGradient id="a45"><stop offset="0" stop-color="#1f0363"/><stop offset="0.176" stop-color="#1f0363"/><stop offset="0.184" stop-color="#1f0665"/><stop offset="0.192" stop-color="#1e106a"/><stop offset="0.2" stop-color="#1c2273"/><stop offset="0.216" stop-color="#1c4e85"/><stop offset="0.224" stop-color="#1d648b"/><stop offset="0.24" stop-color="#258d88"/><stop offset="0.256" stop-color="#3aa77f"/><stop offset="0.272" stop-color="#4fb578"/><stop offset="0.28" stop-color="#57b975"/><stop offset="0.296" stop-color="#5cbc74"/><stop offset="0.32" stop-color="#5dbc74"/><stop offset="0.328" stop-color="#5bbb74"/><stop offset="0.336" stop-color="#53b776"/><stop offset="0.344" stop-color="#46b07b"/><stop offset="0.36" stop-color="#2d9784"/><stop offset="0.368" stop-color="#238a89"/><stop offset="0.384" stop-color="#1e6f8a"/><stop offset="0.4" stop-color="#1c5888"/><stop offset="0.44" stop-color="#1c2474"/><stop offset="0.464" stop-color="#1e1069"/><stop offset="0.488" stop-color="#1f0765"/><stop offset="0.512" stop-color="#1f0866"/><stop offset="0.52" stop-color="#1e0d68"/><stop offset="0.528" stop-color="#1d176d"/><stop offset="0.544" stop-color="#1b317b"/><stop offset="0.552" stop-color="#1b397d"/><stop offset="0.568" stop-color="#1b377d"/><stop offset="0.624" stop-color="#1e0f69"/><stop offset="0.656" stop-color="#1f0564"/><stop offset="0.824" stop-color="#1f0363"/><stop offset="1" stop-color="#1f0363"/></linearGradient>
<linearGradient id="a46"><stop offset="0" stop-color="#1f0363"/><stop offset="0.176" stop-color="#1f0363"/><stop offset="0.184" stop-color="#1f0564"/><stop offset="0.192" stop-color="#1e0c68"/><stop offset="0.2" stop-color="#1d1c70"/><stop offset="0.208" stop-color="#1b327b"/><stop offset="0.224" stop-color="#1c5f8b"/><stop offset="0.24" stop-color="#238889"/><stop offset="0.256" stop-color="#36a280"/><stop offset="0.264" stop-color="#3fac7d"/><stop offset="0.28" stop-color="#52b677"/><stop offset="0.296" stop-color="#59ba75"/><stop offset="0.328" stop-color="#59ba75"/><stop offset="0.336" stop-color="#54b876"/><stop offset="0.344" stop-color="#49b27a"/><stop offset="0.352" stop-color="#3ba87f"/><stop offset="0.368" stop-color="#258d88"/><stop offset="0.392" stop-color="#1d668b"/><stop offset="0.416" stop-color="#1b4581"/><stop offset="0.44" stop-color="#1c2575"/><stop offset="0.464" stop-color="#1e116a"/><stop offset="0.488" stop-color="#1f0765"/><stop offset="0.512" stop-color="#1f0866"/><stop offset="0.52" stop-color="#1e0d68"/><stop offset="0.528" stop-color="#1d166d"/><stop offset="0.544" stop-color="#1b317b"/><stop offset="0.552" stop-color="#1b3a7e"/><stop offset="0.568" stop-color="#1b397d"/><stop offset="0.592" stop-color="#1c2976"/><stop offset="0.624" stop-color="#1e116a"/><stop offset="0.648" stop-color="#1f0765"/><stop offset="0.704" stop-color="#1f0363"/><stop offset="1" stop-color="#1f0363"/></linearGradient>
<linearGradient id="a47"><stop offset="0" stop-color="#1f0363"/><stop offset="0.184" stop-color="#1f0464"/><stop offset="0.192" stop-color="#1e0966"/><stop offset="0.2" stop-color="#1d176d"/><stop offset="0.224" stop-color="#1c5a89"/><stop offset="0.24" stop-color="#228389"/><stop offset="0.248" stop-color="#299286"/><stop offset="0.264" stop-color="#3ba87e"/><stop offset="0.28" stop-color="#4db478"/><stop offset="0.296" stop-color="#56b976"/><stop offset="0.328" stop-color="#57b975"/><stop offset="0.336" stop-color="#54b776"/><stop offset="0.344" stop-color="#4ab379"/><stop offset="0.352" stop-color="#3daa7e"/><stop offset="0.368" stop-color="#289087"/><stop offset="0.376" stop-color="#228289"/><stop offset="0.4" stop-color="#1c5d8a"/><stop offset="0.44" stop-color="#1c2876"/><stop offset="0.464" stop-color="#1e126b"/><stop offset="0.488" stop-color="#1f0765"/><stop offset="0.512" stop-color="#1f0866"/><stop offset="0.52" stop-color="#1e0d68"/><stop offset="0.528" stop-color="#1d166d"/><stop offset="0.544" stop-color="#1b317b"/><stop offset="0.552" stop-color="#1b3b7e"/><stop offset="0.56" stop-color="#1b3c7f"/><stop offset="0.576" stop-color="#1b367d"/><stop offset="0.624" stop-color="#1e126b"/><stop offset="0.648" stop-color="#1f0865"/><stop offset="0.696" stop-color="#1f0363"/><stop offset="1" stop-color="#1f0363"/></linearGradient>
<linearGradient id="a48"><stop offset="0" stop-color="#1f0363"/><stop offset="0.184" stop-color="#1f0463"/><stop offset="0.192" stop-color="#1f0765"/><stop offset="0.2" stop-color="#1e126b"/><stop offset="0.208" stop-color="#1c2675"/><stop offset="0.224" stop-color="#1c5587"/><stop offset="0.232" stop-color="#1e6b8a"/><stop offset="0.24" stop-color="#217e8a"/><stop offset="0.248" stop-color="#268e87"/><stop offset="0.264" stop-color="#38a480"/><stop offset="0.272" stop-color="#3fad7d"/><stop offset="0.288" stop-color="#4fb578"/><stop offset="0.304" stop-color="#54b776"/><stop offset="0.328" stop-color="#54b876"/><stop offset="0.336" stop-color="#52b777"/><stop offset="0.344" stop-color="#4bb379"/><stop offset="0.352" stop-color="#3fac7d"/><stop offset="0.368" stop-color="#2a9386"/><stop offset="0.376" stop-color="#228689"/><stop offset="0.4" stop-color="#1c608b"/><stop offset="0.44" stop-color="#1c2a77"/><stop offset="0.464" stop-color="#1e136b"/><stop offset="0.488" stop-color="#1f0765"/><stop offset="0.512" stop-color="#1f0865"/><stop offset="0.52" stop-color="#1e0c68"/><stop offset="0.528" stop-color="#1d156c"/><stop offset="0.544" stop-color="#1b317a"/><stop offset="0.552" stop-color="#1b3b7e"/><stop offset="0.56" stop-color="#1b3e7f"/><stop offset="0.576" stop-color="#1b387d"/><stop offset="0.624" stop-color="#1e136b"/><stop offset="0.648" stop-color="#1f0866"/><stop offset="0.696" stop-color="#1f0363"/><stop offset="1" stop-color="#1f0363"/></linearGradient>
<linearGradient id="a49"><stop offset="0" stop-color="#1f0363"/><stop offset="0.184" stop-color="#1f0363"/><stop offset="0.192" stop-color="#1f0564"/><stop offset="0.2" stop-color="#1e0e68"/><stop offset="0.208" stop-color="#1d2072"/><stop offset="0.224" stop-color="#1c5086"/><stop offset="0.232" stop-color="#1d678b"/><stop offset="0.248" stop-color="#248b89"/><stop offset="0.264" stop-color="#35a181"/><stop offset="0.28" stop-color="#43af7b"/><stop offset="0.296" stop-color="#4eb578"/><stop offset="0.328" stop-color="#51b677"/><stop offset="0.336" stop-color="#50b577"/><stop offset="0.344" stop-color="#4bb379"/><stop offset="0.352" stop-color="#41ad7c"/><stop offset="0.376" stop-color="#238a89"/><stop offset="0.4" stop-color="#1c638b"/><stop offset="0.44" stop-color="#1c2c78"/><stop offset="0.464" stop-color="#1e146c"/><stop offset="0.48" stop-color="#1e0a67"/><stop offset="0.504" stop-color="#1f0665"/><stop offset="0.52" stop-color="#1e0c67"/><stop offset="0.528" stop-color="#1e146c"/><stop offset="0.544" stop-color="#1b317a"/><stop offset="0.552" stop-color="#1b3c7e"/><stop offset="0.56" stop-color="#1b3f80"/><stop offset="0.576" stop-color="#1b3a7e"/><stop offset="0.632" stop-color="#1e106a"/><stop offset="0.664" stop-color="#1f0664"/><stop offset="0.784" stop-color="#1f0363"/><stop offset="1" stop-color="#1f0363"/></linearGradient>
<linearGradient id="a50"><stop offset="0" stop-color="#1f0363"/><stop offset="0.192" stop-color="#1f0464"/><stop offset="0.2" stop-color="#1e0a67"/><stop offset="0.208" stop-color="#1d1a6f"/><stop offset="0.216" stop-color="#1b327b"/><stop offset="0.232" stop-color="#1d638b"/><stop offset="0.248" stop-color="#238789"/><stop offset="0.264" stop-color="#329d82"/><stop offset="0.28" stop-color="#3eac7d"/><stop offset="0.296" stop-color="#4ab279"/><stop offset="0.32" stop-color="#4eb478"/><stop offset="0.336" stop-color="#4db478"/><stop offset="0.344" stop-color="#4ab279"/><stop offset="0.352" stop-color="#42ae7c"/><stop offset="0.376" stop-color="#258d88"/><stop offset="0.4" stop-color="#1d668b"/><stop offset="0.44" stop-color="#1b2e79"/><stop offset="0.464" stop-color="#1d166d"/><stop offset="0.48" stop-color="#1e0b67"/><stop offset="0.504" stop-color="#1f0665"/><stop offset="0.52" stop-color="#1e0b67"/><stop offset="0.528" stop-color="#1e146b"/><stop offset="0.544" stop-color="#1b307a"/><stop offset="0.552" stop-color="#1b3c7f"/><stop offset="0.56" stop-color="#1b4080"/><stop offset="0.576" stop-color="#1b3c7e"/><stop offset="0.608" stop-color="#1c2373"/><stop offset="0.632" stop-color="#1e116a"/><stop offset="0.656" stop-color="#1f0865"/><stop offset="0.712" stop-color="#1f0363"/><stop offset="1" stop-color="#1f0363"/></linearGradient>
<clipPath id="cpa"><rect x="77.30" y="15.00" width="249.70" height="250.00"/></clipPath>
<linearGradient id="cba" x1="0" y1="0" x2="0" y2="1"><stop offset="0.000" stop-color="#75c66d"/><stop offset="0.051" stop-color="#66c171"/><stop offset="0.231" stop-color="#3fac7d"/><stop offset="0.410" stop-color="#258d88"/><stop offset="0.487" stop-color="#217c8a"/><stop offset="0.615" stop-color="#1c608b"/><stop offset="0.821" stop-color="#1b2f79"/><stop offset="1.000" stop-color="#1f0363"/></linearGradient>
<linearGradient id="b0"><stop offset="0" stop-color="#3aa77f"/><stop offset="0.064" stop-color="#2d9685"/><stop offset="0.12" stop-color="#248b89"/><stop offset="0.152" stop-color="#20798a"/><stop offset="0.176" stop-color="#1d648b"/><stop offset="0.2" stop-color="#1b4582"/><stop offset="0.216" stop-color="#1c2a77"/><stop offset="0.232" stop-color="#1e0a66"/><stop offset="0.24" stop-color="#1f0363"/><stop offset="0.312" stop-color="#1f0363"/><stop offset="0.32" stop-color="#1c2373"/><stop offset="0.328" stop-color="#1b3f80"/><stop offset="0.336" stop-color="#1c5688"/><stop offset="0.344" stop-color="#1d688b"/><stop offset="0.36" stop-color="#218189"/><stop offset="0.376" stop-color="#268d88"/><stop offset="0.4" stop-color="#2a9386"/><stop offset="0.68" stop-color="#319b83"/><stop offset="0.72" stop-color="#35a081"/><stop offset="0.728" stop-color="#38a57f"/><stop offset="0.736" stop-color="#40ad7c"/><stop offset="0.752" stop-color="#59ba74"/><stop offset="0.76" stop-color="#61be72"/><stop offset="0.832" stop-color="#6bc36f"/><stop offset="0.896" stop-color="#68c270"/><stop offset="0.968" stop-color="#5cbc74"/><stop offset="1" stop-color="#53b777"/></linearGradient>
<linearGradient id="b1"><stop offset="0" stop-color="#3ba87e"/><stop offset="0.064" stop-color="#2e9884"/><stop offset="0.12" stop-color="#258d88"/><stop offset="0.152" stop-color="#217d8a"/><stop offset="0.176" stop-color="#1d688b"/><stop offset="0.184" stop-color="#1c608b"/><stop offset="0.208" stop-color="#1b3d7f"/><stop offset="0.224" stop-color="#1d1f72"/><stop offset="0.232" stop-color="#1e0e69"/><stop offset="0.24" stop-color="#1f0363"/><stop offset="0.304" stop-color="#1f0363"/><stop offset="0.312" stop-color="#1f0665"/><stop offset="0.32" stop-color="#1c2776"/><stop offset="0.328" stop-color="#1b4381"/><stop offset="0.336" stop-color="#1c5a89"/><stop offset="0.344" stop-color="#1e6b8a"/><stop offset="0.36" stop-color="#228389"/><stop offset="0.368" stop-color="#238a89"/><stop offset="0.392" stop-color="#2a9386"/><stop offset="0.688" stop-color="#329e82"/><stop offset="0.72" stop-color="#36a281"/><stop offset="0.728" stop-color="#3aa77f"/><stop offset="0.736" stop-color="#42ae7c"/><stop offset="0.752" stop-color="#5abb74"/><stop offset="0.76" stop-color="#61be72"/><stop offset="0.832" stop-color="#6dc46f"/><stop offset="0.896" stop-color="#6ac36f"/><stop offset="0.976" stop-color="#5cbc74"/><stop offset="1" stop-color="#55b876"/></linearGradient>
<linearGradient id="b2"><stop offset="0" stop-color="#3caa7e"/><stop offset="0.072" stop-color="#2f9984"/><stop offset="0.128" stop-color="#268d88"/><stop offset="0.152" stop-color="#218189"/><stop offset="0.176" stop-color="#1e6d8a"/><stop offset="0.192" stop-color="#1c5b89"/><stop offset="0.216" stop-color="#1b357c"/><stop offset="0.24" stop-color="#1f0363"/><stop offset="0.304" stop-color="#1f0363"/><stop offset="0.312" stop-color="#1e0c68"/><stop offset="0.32" stop-color="#1b2d78"/><stop offset="0.328" stop-color="#1b4883"/><stop offset="0.336" stop-color="#1c5e8a"/><stop offset="0.344" stop-color="#1e6f8a"/><stop offset="0.36" stop-color="#228589"/><stop offset="0.376" stop-color="#289087"/><stop offset="0.408" stop-color="#2c9585"/><stop offset="0.688" stop-color="#349f81"/><stop offset="0.72" stop-color="#38a480"/><stop offset="0.728" stop-color="#3ba87e"/><stop offset="0.736" stop-color="#44af7b"/><stop offset="0.752" stop-color="#5abb74"/><stop offset="0.76" stop-color="#61bf72"/><stop offset="0.832" stop-color="#6fc46e"/><stop offset="0.896" stop-color="#6dc46f"/><stop offset="0.984" stop-color="#5cbc74"/><stop offset="1" stop-color="#58b975"/></linearGradient>
<linearGradient id="b3"><stop offset="0" stop-color="#3eab7d"/><stop offset="0.072" stop-color="#309b83"/><stop offset="0.128" stop-color="#289087"/><stop offset="0.152" stop-color="#228589"/><stop offset="0.176" stop-color="#1f728a"/><stop offset="0.192" stop-color="#1c618b"/><stop offset="0.216" stop-color="#1b3b7e"/><stop offset="0.232" stop-color="#1d1a6f"/><stop offset="0.24" stop-color="#1f0865"/><stop offset="0.248" stop-color="#1f0363"/><stop offset="0.304" stop-color="#1f0363"/><stop offset="0.312" stop-color="#1e126b"/><stop offset="0.32" stop-color="#1b337b"/><stop offset="0.328" stop-color="#1c4d84"/><stop offset="0.336" stop-color="#1c638b"/><stop offset="0.344" stop-color="#1f728a"/><stop offset="0.36" stop-color="#238889"/><stop offset="0.376" stop-color="#299286"/><stop offset="0.408" stop-color="#2d9685"/><stop offset="0.552" stop-color="#319c83"/><stop offset="0.68" stop-color="#35a081"/><stop offset="0.72" stop-color="#39a67f"/><stop offset="0.728" stop-color="#3daa7e"/><stop offset="0.752" stop-color="#5bbb74"/><stop offset="0.76" stop-color="#62bf72"/><stop offset="0.832" stop-color="#71c56e"/><stop offset="0.896" stop-color="#6fc56e"/><stop offset="0.984" stop-color="#5fbd73"/><stop offset="1" stop-color="#5abb74"/></linearGradient>
<linearGradient id="b4"><stop offset="0" stop-color="#3fad7d"/><stop offset="0.072" stop-color="#329d82"/><stop offset="0.128" stop-color="#2a9386"/><stop offset="0.152" stop-color="#238a89"/><stop offset="0.176" stop-color="#20778a"/><stop offset="0.2" stop-color="#1c5c8a"/><stop offset="0.224" stop-color="#1b327b"/><stop offset="0.24" stop-color="#1e0e69"/><stop offset="0.248" stop-color="#1f0363"/><stop offset="0.304" stop-color="#1f0363"/><stop offset="0.312" stop-color="#1d196e"/><stop offset="0.32" stop-color="#1b397d"/><stop offset="0.328" stop-color="#1c5286"/><stop offset="0.336" stop-color="#1d678b"/><stop offset="0.344" stop-color="#20768a"/><stop offset="0.352" stop-color="#228289"/><stop offset="0.36" stop-color="#248b89"/><stop offset="0.384" stop-color="#2c9685"/><stop offset="0.52" stop-color="#339e82"/><stop offset="0.68" stop-color="#36a280"/><stop offset="0.72" stop-color="#3ba87e"/><stop offset="0.728" stop-color="#3fac7d"/><stop offset="0.752" stop-color="#5cbc74"/><stop offset="0.76" stop-color="#62bf72"/><stop offset="0.832" stop-color="#73c66d"/><stop offset="0.904" stop-color="#71c56e"/><stop offset="0.984" stop-color="#61bf72"/><stop offset="1" stop-color="#5dbc73"/></linearGradient>
<linearGradient id="b5"><stop offset="0" stop-color="#41ae7c"/><stop offset="0.072" stop-color="#349f82"/><stop offset="0.136" stop-color="#2b9485"/><stop offset="0.16" stop-color="#238a89"/><stop offset="0.184" stop-color="#20758a"/><stop offset="0.2" stop-color="#1c628b"/><stop offset="0.216" stop-color="#1b4883"/><stop offset="0.232" stop-color="#1c2876"/><stop offset="0.248" stop-color="#1f0363"/><stop offset="0.304" stop-color="#1f0363"/><stop offset="0.32" stop-color="#1b3f7f"/><stop offset="0.328" stop-color="#1c5888"/><stop offset="0.336" stop-color="#1e6b8a"/><stop offset="0.344" stop-color="#207a8a"/><stop offset="0.352" stop-color="#228689"/><stop offset="0.368" stop-color="#2a9386"/><stop offset="0.392" stop-color="#2f9984"/><stop offset="0.52" stop-color="#35a081"/><stop offset="0.68" stop-color="#38a580"/><stop offset="0.72" stop-color="#3daa7e"/><stop offset="0.728" stop-color="#41ae7c"/><stop offset="0.752" stop-color="#5dbc73"/><stop offset="0.76" stop-color="#63bf72"/><stop offset="0.824" stop-color="#74c66d"/><stop offset="0.88" stop-color="#75c76d"/><stop offset="0.944" stop-color="#6dc46f"/><stop offset="1" stop-color="#5fbd73"/></linearGradient>
<linearGradient id="b6"><stop offset="0" stop-color="#43af7b"/><stop offset="0.064" stop-color="#36a280"/><stop offset="0.136" stop-color="#2e9784"/><stop offset="0.168" stop-color="#238989"/><stop offset="0.192" stop-color="#1f728a"/><stop offset="0.208" stop-color="#1c5d8a"/><stop offset="0.224" stop-color="#1b4080"/><stop offset="0.232" stop-color="#1b2f7a"/><stop offset="0.248" stop-color="#1f0765"/><stop offset="0.256" stop-color="#1f0363"/><stop offset="0.304" stop-color="#1f0363"/><stop offset="0.312" stop-color="#1c2775"/><stop offset="0.32" stop-color="#1b4582"/><stop offset="0.328" stop-color="#1c5e8a"/><stop offset="0.336" stop-color="#1f708a"/><stop offset="0.344" stop-color="#217f8a"/><stop offset="0.352" stop-color="#238a89"/><stop offset="0.368" stop-color="#2c9585"/><stop offset="0.4" stop-color="#319c83"/><stop offset="0.52" stop-color="#37a380"/><stop offset="0.68" stop-color="#3aa77f"/><stop offset="0.72" stop-color="#3fac7d"/><stop offset="0.736" stop-color="#4cb379"/><stop offset="0.752" stop-color="#5ebd73"/><stop offset="0.76" stop-color="#64c071"/><stop offset="0.824" stop-color="#76c76c"/><stop offset="0.88" stop-color="#77c76c"/><stop offset="0.944" stop-color="#70c56e"/><stop offset="1" stop-color="#61bf72"/></linearGradient>
<linearGradient id="b7"><stop offset="0" stop-color="#45b07b"/><stop offset="0.056" stop-color="#39a67f"/><stop offset="0.136" stop-color="#309b83"/><stop offset="0.168" stop-color="#268e88"/><stop offset="0.184" stop-color="#228189"/><stop offset="0.208" stop-color="#1d648b"/><stop offset="0.224" stop-color="#1b4883"/><stop offset="0.24" stop-color="#1c2474"/><stop offset="0.248" stop-color="#1e0f69"/><stop offset="0.256" stop-color="#1f0363"/><stop offset="0.296" stop-color="#1f0363"/><stop offset="0.304" stop-color="#1e0a66"/><stop offset="0.312" stop-color="#1b2e79"/><stop offset="0.32" stop-color="#1c4b84"/><stop offset="0.328" stop-color="#1d638b"/><stop offset="0.336" stop-color="#20758a"/><stop offset="0.344" stop-color="#228389"/><stop offset="0.352" stop-color="#268d88"/><stop offset="0.368" stop-color="#2e9884"/><stop offset="0.4" stop-color="#339e82"/><stop offset="0.512" stop-color="#39a67f"/><stop offset="0.672" stop-color="#3ba97e"/><stop offset="0.72" stop-color="#42ae7c"/><stop offset="0.736" stop-color="#4eb578"/><stop offset="0.752" stop-color="#5fbd73"/><stop offset="0.768" stop-color="#67c270"/><stop offset="0.824" stop-color="#78c76c"/><stop offset="0.872" stop-color="#7ac86b"/><stop offset="0.944" stop-color="#73c66d"/><stop offset="1" stop-color="#64c071"/></linearGradient>
<linearGradient id="b8"><stop offset="0" stop-color="#47b17a"/><stop offset="0.056" stop-color="#3ba87f"/><stop offset="0.144" stop-color="#319c83"/><stop offset="0.176" stop-color="#268e88"/><stop offset="0.192" stop-color="#218089"/><stop offset="0.216" stop-color="#1c5f8b"/><stop offset="0.232" stop-color="#1b3f80"/><stop offset="0.24" stop-color="#1b2c78"/><stop offset="0.256" stop-color="#1f0363"/><stop offset="0.296" stop-color="#1f0363"/><stop offset="0.304" stop-color="#1e126a"/><stop offset="0.312" stop-color="#1b357c"/><stop offset="0.32" stop-color="#1c5286"/><stop offset="0.328" stop-color="#1d698b"/><stop offset="0.336" stop-color="#207a8a"/><stop offset="0.344" stop-color="#238889"/><stop offset="0.36" stop-color="#2d9784"/><stop offset="0.384" stop-color="#349f82"/><stop offset="0.512" stop-color="#3ba87e"/><stop offset="0.672" stop-color="#3dab7d"/><stop offset="0.72" stop-color="#45af7b"/><stop offset="0.736" stop-color="#51b677"/><stop offset="0.752" stop-color="#61be72"/><stop offset="0.768" stop-color="#68c270"/><stop offset="0.824" stop-color="#7ac86b"/><stop offset="0.872" stop-color="#7cc96b"/><stop offset="0.944" stop-color="#76c76d"/><stop offset="1" stop-color="#66c171"/></linearGradient>
<linearGradient id="b9"><stop offset="0" stop-color="#49b279"/><stop offset="0.064" stop-color="#3ba97e"/><stop offset="0.144" stop-color="#349f81"/><stop offset="0.176" stop-color="#2a9386"/><stop offset="0.192" stop-color="#228689"/><stop offset="0.216" stop-color="#1d678b"/><stop offset="0.224" stop-color="#1c5989"/><stop offset="0.24" stop-color="#1b357c"/><stop offset="0.256" stop-color="#1f0866"/><stop offset="0.264" stop-color="#1f0363"/><stop offset="0.296" stop-color="#1f0363"/><stop offset="0.304" stop-color="#1d1a6f"/><stop offset="0.312" stop-color="#1b3c7f"/><stop offset="0.32" stop-color="#1c5989"/><stop offset="0.328" stop-color="#1e6f8a"/><stop offset="0.336" stop-color="#218089"/><stop offset="0.344" stop-color="#258c88"/><stop offset="0.36" stop-color="#309a83"/><stop offset="0.384" stop-color="#36a281"/><stop offset="0.504" stop-color="#3dab7d"/><stop offset="0.664" stop-color="#40ad7d"/><stop offset="0.72" stop-color="#48b17a"/><stop offset="0.76" stop-color="#67c170"/><stop offset="0.824" stop-color="#7bc96b"/><stop offset="0.872" stop-color="#7eca6a"/><stop offset="0.944" stop-color="#78c86c"/><stop offset="0.992" stop-color="#6bc36f"/><stop offset="1" stop-color="#68c270"/></linearGradient>
<linearGradient id="b10"><stop offset="0" stop-color="#4bb379"/><stop offset="0.072" stop-color="#3caa7e"/><stop offset="0.152" stop-color="#35a181"/><stop offset="0.176" stop-color="#2e9884"/><stop offset="0.192" stop-color="#258d88"/><stop offset="0.208" stop-color="#207b8a"/><stop offset="0.224" stop-color="#1c628b"/><stop offset="0.24" stop-color="#1b3e7f"/><stop offset="0.248" stop-color="#1c2976"/><stop offset="0.256" stop-color="#1e116a"/><stop offset="0.264" stop-color="#1f0363"/><stop offset="0.296" stop-color="#1f0363"/><stop offset="0.312" stop-color="#1b4481"/><stop offset="0.32" stop-color="#1c608b"/><stop offset="0.328" stop-color="#1f748a"/><stop offset="0.336" stop-color="#228589"/><stop offset="0.344" stop-color="#289087"/><stop offset="0.36" stop-color="#329d82"/><stop offset="0.384" stop-color="#38a480"/><stop offset="0.496" stop-color="#41ad7c"/><stop offset="0.672" stop-color="#44af7b"/><stop offset="0.72" stop-color="#4bb379"/><stop offset="0.76" stop-color="#68c270"/><stop offset="0.816" stop-color="#7bc96b"/><stop offset="0.856" stop-color="#80ca6a"/><stop offset="0.936" stop-color="#7cc96b"/><stop offset="0.992" stop-color="#6ec46e"/><stop offset="1" stop-color="#6bc36f"/></linearGradient>
<linearGradient id="b11"><stop offset="0" stop-color="#4eb478"/><stop offset="0.08" stop-color="#3dab7d"/><stop offset="0.152" stop-color="#38a580"/><stop offset="0.176" stop-color="#329c83"/><stop offset="0.2" stop-color="#248c88"/><stop offset="0.216" stop-color="#20778a"/><stop offset="0.232" stop-color="#1c5a89"/><stop offset="0.248" stop-color="#1b337b"/><stop offset="0.264" stop-color="#1f0363"/><stop offset="0.296" stop-color="#1f0363"/><stop offset="0.304" stop-color="#1c2977"/><stop offset="0.312" stop-color="#1c4a83"/><stop offset="0.32" stop-color="#1d658b"/><stop offset="0.328" stop-color="#20798a"/><stop offset="0.336" stop-color="#238989"/><stop offset="0.352" stop-color="#319b83"/><stop offset="0.368" stop-color="#38a480"/><stop offset="0.488" stop-color="#44af7b"/><stop offset="0.672" stop-color="#47b17a"/><stop offset="0.72" stop-color="#4eb478"/><stop offset="0.76" stop-color="#6ac370"/><stop offset="0.816" stop-color="#7dc96b"/><stop offset="0.856" stop-color="#82cb69"/><stop offset="0.936" stop-color="#7eca6a"/><stop offset="0.992" stop-color="#71c56e"/><stop offset="1" stop-color="#6ec46e"/></linearGradient>
<linearGradient id="b12"><stop offset="0" stop-color="#50b577"/><stop offset="0.088" stop-color="#3eac7d"/><stop offset="0.16" stop-color="#3aa67f"/><stop offset="0.184" stop-color="#329d82"/><stop offset="0.208" stop-color="#238a89"/><stop offset="0.224" stop-color="#1f728a"/><stop offset="0.232" stop-color="#1d638b"/><stop offset="0.248" stop-color="#1b3d7f"/><stop offset="0.256" stop-color="#1c2574"/><stop offset="0.264" stop-color="#1e0b67"/><stop offset="0.272" stop-color="#1f0363"/><stop offset="0.288" stop-color="#1f0363"/><stop offset="0.296" stop-color="#1e0a66"/><stop offset="0.304" stop-color="#1b307a"/><stop offset="0.312" stop-color="#1c5085"/><stop offset="0.32" stop-color="#1e6a8b"/><stop offset="0.328" stop-color="#217d8a"/><stop offset="0.336" stop-color="#258d88"/><stop offset="0.352" stop-color="#339e82"/><stop offset="0.368" stop-color="#3aa77f"/><stop offset="0.488" stop-color="#48b17a"/><stop offset="0.672" stop-color="#4bb379"/><stop offset="0.72" stop-color="#51b677"/><stop offset="0.768" stop-color="#6fc46e"/><stop offset="0.824" stop-color="#81cb6a"/><stop offset="0.872" stop-color="#83cb69"/><stop offset="0.944" stop-color="#7fca6a"/><stop offset="1" stop-color="#71c56e"/></linearGradient>
<linearGradient id="b13"><stop offset="0" stop-color="#52b777"/><stop offset="0.096" stop-color="#40ad7c"/><stop offset="0.16" stop-color="#3daa7e"/><stop offset="0.184" stop-color="#36a281"/><stop offset="0.208" stop-color="#289087"/><stop offset="0.216" stop-color="#228789"/><stop offset="0.232" stop-color="#1e6c8a"/><stop offset="0.24" stop-color="#1c5b89"/><stop offset="0.256" stop-color="#1b307a"/><stop offset="0.264" stop-color="#1d156c"/><stop offset="0.272" stop-color="#1f0363"/><stop offset="0.288" stop-color="#1f0363"/><stop offset="0.296" stop-color="#1e126a"/><stop offset="0.304" stop-color="#1b367d"/><stop offset="0.312" stop-color="#1c5587"/><stop offset="0.32" stop-color="#1e6e8a"/><stop offset="0.328" stop-color="#228189"/><stop offset="0.336" stop-color="#289087"/><stop offset="0.352" stop-color="#35a181"/><stop offset="0.368" stop-color="#3caa7e"/><stop offset="0.496" stop-color="#4cb479"/><stop offset="0.672" stop-color="#4eb578"/><stop offset="0.72" stop-color="#55b876"/><stop offset="0.768" stop-color="#70c56e"/><stop offset="0.824" stop-color="#83cb69"/><stop offset="0.88" stop-color="#85cc68"/><stop offset="0.952" stop-color="#80ca6a"/><stop offset="1" stop-color="#73c66d"/></linearGradient>
<linearGradient id="b14"><stop offset="0" stop-color="#55b876"/><stop offset="0.104" stop-color="#43ae7c"/><stop offset="0.16" stop-color="#40ad7c"/><stop offset="0.184" stop-color="#3aa77f"/><stop offset="0.208" stop-color="#2d9685"/><stop offset="0.224" stop-color="#228389"/><stop offset="0.24" stop-color="#1d658b"/><stop offset="0.256" stop-color="#1b3a7e"/><stop offset="0.272" stop-color="#1f0463"/><stop offset="0.288" stop-color="#1f0363"/><stop offset="0.296" stop-color="#1d1a6f"/><stop offset="0.304" stop-color="#1b3d7f"/><stop offset="0.312" stop-color="#1c5b89"/><stop offset="0.32" stop-color="#1f728a"/><stop offset="0.328" stop-color="#228689"/><stop offset="0.336" stop-color="#2a9386"/><stop offset="0.352" stop-color="#38a580"/><stop offset="0.368" stop-color="#40ad7c"/><stop offset="0.488" stop-color="#51b677"/><stop offset="0.672" stop-color="#53b777"/><stop offset="0.72" stop-color="#59ba75"/><stop offset="0.768" stop-color="#73c66d"/><stop offset="0.824" stop-color="#85cc69"/><stop offset="0.88" stop-color="#87cd68"/><stop offset="0.952" stop-color="#82cb69"/><stop offset="1" stop-color="#76c76c"/></linearGradient>
<linearGradient id="b15"><stop offset="0" stop-color="#58b975"/><stop offset="0.104" stop-color="#46b07a"/><stop offset="0.168" stop-color="#44af7b"/><stop offset="0.192" stop-color="#3ba87e"/><stop offset="0.216" stop-color="#2c9585"/><stop offset="0.224" stop-color="#248b88"/><stop offset="0.24" stop-color="#1e6e8a"/><stop offset="0.248" stop-color="#1c5c8a"/><stop offset="0.264" stop-color="#1b2c78"/><stop offset="0.272" stop-color="#1e106a"/><stop offset="0.28" stop-color="#1f0363"/><stop offset="0.288" stop-color="#1f0363"/><stop offset="0.304" stop-color="#1b4481"/><stop offset="0.312" stop-color="#1c618b"/><stop offset="0.32" stop-color="#20778a"/><stop offset="0.328" stop-color="#238a89"/><stop offset="0.344" stop-color="#35a181"/><stop offset="0.36" stop-color="#41ae7c"/><stop offset="0.376" stop-color="#48b17a"/><stop offset="0.496" stop-color="#56b975"/><stop offset="0.672" stop-color="#57b975"/><stop offset="0.72" stop-color="#5dbc73"/><stop offset="0.776" stop-color="#79c86c"/><stop offset="0.824" stop-color="#87cd68"/><stop offset="0.888" stop-color="#89cd68"/><stop offset="0.96" stop-color="#83cb69"/><stop offset="1" stop-color="#79c86c"/></linearGradient>
<linearGradient id="b16"><stop offset="0" stop-color="#5bbb74"/><stop offset="0.104" stop-color="#4ab279"/><stop offset="0.168" stop-color="#49b27a"/><stop offset="0.192" stop-color="#40ad7c"/><stop offset="0.208" stop-color="#37a380"/><stop offset="0.224" stop-color="#2a9386"/><stop offset="0.232" stop-color="#238789"/><stop offset="0.248" stop-color="#1d668b"/><stop offset="0.256" stop-color="#1c5186"/><stop offset="0.264" stop-color="#1b387d"/><stop offset="0.28" stop-color="#1f0363"/><stop offset="0.288" stop-color="#1f0564"/><stop offset="0.296" stop-color="#1c2b77"/><stop offset="0.304" stop-color="#1c4c84"/><stop offset="0.312" stop-color="#1d678b"/><stop offset="0.32" stop-color="#217d8a"/><stop offset="0.328" stop-color="#278f87"/><stop offset="0.344" stop-color="#39a67f"/><stop offset="0.352" stop-color="#40ad7c"/><stop offset="0.368" stop-color="#4cb379"/><stop offset="0.488" stop-color="#5cbc74"/><stop offset="0.68" stop-color="#5dbc73"/><stop offset="0.72" stop-color="#62bf72"/><stop offset="0.776" stop-color="#7cc96b"/><stop offset="0.824" stop-color="#89cd68"/><stop offset="0.896" stop-color="#8bce67"/><stop offset="0.968" stop-color="#84cb69"/><stop offset="1" stop-color="#7cc96b"/></linearGradient>
<linearGradient id="b17"><stop offset="0" stop-color="#5ebd73"/><stop offset="0.104" stop-color="#4eb478"/><stop offset="0.176" stop-color="#4db478"/><stop offset="0.2" stop-color="#42ae7c"/><stop offset="0.216" stop-color="#36a380"/><stop offset="0.232" stop-color="#278f87"/><stop offset="0.24" stop-color="#228289"/><stop offset="0.256" stop-color="#1c5d8a"/><stop offset="0.272" stop-color="#1c2977"/><stop offset="0.28" stop-color="#1e0b67"/><stop offset="0.288" stop-color="#1e116a"/><stop offset="0.296" stop-color="#1b357c"/><stop offset="0.304" stop-color="#1c5487"/><stop offset="0.312" stop-color="#1e6f8a"/><stop offset="0.32" stop-color="#228589"/><stop offset="0.328" stop-color="#2c9585"/><stop offset="0.344" stop-color="#3eac7d"/><stop offset="0.36" stop-color="#4eb578"/><stop offset="0.376" stop-color="#55b876"/><stop offset="0.496" stop-color="#62bf72"/><stop offset="0.68" stop-color="#63bf72"/><stop offset="0.72" stop-color="#66c170"/><stop offset="0.776" stop-color="#80ca6a"/><stop offset="0.832" stop-color="#8cce67"/><stop offset="0.928" stop-color="#8bce67"/><stop offset="0.992" stop-color="#81cb6a"/><stop offset="1" stop-color="#7fca6a"/></linearGradient>
<linearGradient id="b18"><stop offset="0" stop-color="#61be72"/><stop offset="0.104" stop-color="#52b677"/><stop offset="0.184" stop-color="#50b677"/><stop offset="0.2" stop-color="#49b27a"/><stop offset="0.216" stop-color="#3ca97e"/><stop offset="0.232" stop-color="#2d9784"/><stop offset="0.24" stop-color="#248b89"/><stop offset="0.256" stop-color="#1d688b"/><stop offset="0.264" stop-color="#1c5186"/><stop offset="0.272" stop-color="#1b377d"/><stop offset="0.28" stop-color="#1d196e"/><stop offset="0.288" stop-color="#1d1e71"/><stop offset="0.296" stop-color="#1b4180"/><stop offset="0.304" stop-color="#1c5f8b"/><stop offset="0.312" stop-color="#20788a"/><stop offset="0.32" stop-color="#258d88"/><stop offset="0.336" stop-color="#3ba87e"/><stop offset="0.352" stop-color="#4fb578"/><stop offset="0.368" stop-color="#5bbb74"/><stop offset="0.496" stop-color="#68c270"/><stop offset="0.688" stop-color="#69c270"/><stop offset="0.72" stop-color="#6dc46f"/><stop offset="0.776" stop-color="#83cb69"/><stop offset="0.832" stop-color="#8ecf66"/><stop offset="0.928" stop-color="#8dcf66"/><stop offset="1" stop-color="#82cb69"/></linearGradient>
<linearGradient id="b19"><stop offset="0" stop-color="#64c071"/><stop offset="0.104" stop-color="#56b976"/><stop offset="0.184" stop-color="#56b976"/><stop offset="0.2" stop-color="#50b577"/><stop offset="0.216" stop-color="#42ae7c"/><stop offset="0.232" stop-color="#339e82"/><stop offset="0.248" stop-color="#228589"/><stop offset="0.264" stop-color="#1c5e8a"/><stop offset="0.28" stop-color="#1c2976"/><stop offset="0.288" stop-color="#1b2c78"/><stop offset="0.296" stop-color="#1c4d84"/><stop offset="0.304" stop-color="#1e6a8b"/><stop offset="0.312" stop-color="#228289"/><stop offset="0.32" stop-color="#2b9485"/><stop offset="0.328" stop-color="#37a380"/><stop offset="0.336" stop-color="#42ae7c"/><stop offset="0.352" stop-color="#58b975"/><stop offset="0.368" stop-color="#63bf72"/><stop offset="0.496" stop-color="#71c56e"/><stop offset="0.688" stop-color="#70c56e"/><stop offset="0.72" stop-color="#73c66d"/><stop offset="0.784" stop-color="#89cd67"/><stop offset="0.848" stop-color="#91d066"/><stop offset="0.944" stop-color="#8dcf66"/><stop offset="1" stop-color="#85cc69"/></linearGradient>
<linearGradient id="b20"><stop offset="0" stop-color="#67c170"/><stop offset="0.104" stop-color="#5abb74"/><stop offset="0.192" stop-color="#5abb74"/><stop offset="0.208" stop-color="#52b677"/><stop offset="0.224" stop-color="#41ae7c"/><stop offset="0.24" stop-color="#319b83"/><stop offset="0.248" stop-color="#278f87"/><stop offset="0.256" stop-color="#217f8a"/><stop offset="0.264" stop-color="#1e6b8a"/><stop offset="0.272" stop-color="#1c5487"/><stop offset="0.28" stop-color="#1b397e"/><stop offset="0.288" stop-color="#1b3c7e"/><stop offset="0.296" stop-color="#1c5b89"/><stop offset="0.304" stop-color="#20758a"/><stop offset="0.312" stop-color="#258c88"/><stop offset="0.328" stop-color="#3dab7d"/><stop offset="0.344" stop-color="#57b975"/><stop offset="0.36" stop-color="#67c170"/><stop offset="0.376" stop-color="#6dc46f"/><stop offset="0.496" stop-color="#79c86c"/><stop offset="0.704" stop-color="#79c86c"/><stop offset="0.736" stop-color="#7eca6a"/><stop offset="0.792" stop-color="#8dcf66"/><stop offset="0.864" stop-color="#92d165"/><stop offset="0.952" stop-color="#8ecf66"/><stop offset="1" stop-color="#87cd68"/></linearGradient>
<linearGradient id="b21"><stop offset="0" stop-color="#6ac36f"/><stop offset="0.096" stop-color="#5ebd73"/><stop offset="0.192" stop-color="#5fbd73"/><stop offset="0.208" stop-color="#59ba75"/><stop offset="0.224" stop-color="#49b279"/><stop offset="0.232" stop-color="#3eac7d"/><stop offset="0.248" stop-color="#2e9884"/><stop offset="0.256" stop-color="#238b89"/><stop offset="0.272" stop-color="#1c638b"/><stop offset="0.28" stop-color="#1c4983"/><stop offset="0.288" stop-color="#1c4c84"/><stop offset="0.296" stop-color="#1e698b"/><stop offset="0.304" stop-color="#228289"/><stop offset="0.312" stop-color="#2c9685"/><stop offset="0.32" stop-color="#39a67f"/><stop offset="0.328" stop-color="#47b17a"/><stop offset="0.344" stop-color="#61be72"/><stop offset="0.36" stop-color="#71c56e"/><stop offset="0.376" stop-color="#76c76c"/><stop offset="0.496" stop-color="#81cb6a"/><stop offset="0.72" stop-color="#81ca6a"/><stop offset="0.792" stop-color="#90d066"/><stop offset="0.88" stop-color="#94d165"/><stop offset="0.976" stop-color="#8dcf66"/><stop offset="1" stop-color="#89cd67"/></linearGradient>
<linearGradient id="b22"><stop offset="0" stop-color="#6ec46e"/><stop offset="0.072" stop-color="#63c071"/><stop offset="0.152" stop-color="#61bf72"/><stop offset="0.2" stop-color="#63bf72"/><stop offset="0.216" stop-color="#5abb74"/><stop offset="0.232" stop-color="#44af7b"/><stop offset="0.24" stop-color="#3dab7d"/><stop offset="0.256" stop-color="#2b9585"/><stop offset="0.264" stop-color="#228589"/><stop offset="0.28" stop-color="#1c5a89"/><stop offset="0.288" stop-color="#1c5e8a"/><stop offset="0.296" stop-color="#20798a"/><stop offset="0.304" stop-color="#278f87"/><stop offset="0.312" stop-color="#35a181"/><stop offset="0.32" stop-color="#43af7b"/><stop offset="0.336" stop-color="#60be72"/><stop offset="0.352" stop-color="#76c76c"/><stop offset="0.36" stop-color="#7cc96b"/><stop offset="0.488" stop-color="#88cd68"/><stop offset="0.728" stop-color="#87cd68"/><stop offset="0.8" stop-color="#93d165"/><stop offset="0.904" stop-color="#95d164"/><stop offset="1" stop-color="#8bce67"/></linearGradient>
<linearGradient id="b23"><stop offset="0" stop-color="#71c56e"/><stop offset="0.08" stop-color="#66c171"/><stop offset="0.16" stop-color="#65c071"/><stop offset="0.2" stop-color="#68c270"/><stop offset="0.208" stop-color="#66c171"/><stop offset="0.216" stop-color="#60be73"/><stop offset="0.224" stop-color="#55b876"/><stop offset="0.232" stop-color="#47b07a"/><stop offset="0.24" stop-color="#43ae7c"/><stop offset="0.248" stop-color="#3ba97e"/><stop offset="0.264" stop-color="#289187"/><stop offset="0.272" stop-color="#217f8a"/><stop offset="0.28" stop-color="#1e698b"/><stop offset="0.288" stop-color="#1e6f8a"/><stop offset="0.296" stop-color="#238989"/><stop offset="0.312" stop-color="#3eac7d"/><stop offset="0.328" stop-color="#5ebd73"/><stop offset="0.344" stop-color="#78c76c"/><stop offset="0.352" stop-color="#80ca6a"/><stop offset="0.36" stop-color="#84cc69"/><stop offset="0.496" stop-color="#8fcf66"/><stop offset="0.736" stop-color="#8dcf66"/><stop offset="0.816" stop-color="#95d164"/><stop offset="0.92" stop-color="#95d164"/><stop offset="1" stop-color="#8ccf67"/></linearGradient>
<linearGradient id="b24"><stop offset="0" stop-color="#74c66d"/><stop offset="0.088" stop-color="#68c270"/><stop offset="0.168" stop-color="#68c270"/><stop offset="0.2" stop-color="#6dc46f"/><stop offset="0.208" stop-color="#6ac36f"/><stop offset="0.216" stop-color="#63bf72"/><stop offset="0.224" stop-color="#57b975"/><stop offset="0.232" stop-color="#46b07b"/><stop offset="0.24" stop-color="#46b07b"/><stop offset="0.248" stop-color="#41ad7c"/><stop offset="0.256" stop-color="#3aa67f"/><stop offset="0.264" stop-color="#319b83"/><stop offset="0.272" stop-color="#258c88"/><stop offset="0.28" stop-color="#20788a"/><stop offset="0.288" stop-color="#218089"/><stop offset="0.296" stop-color="#2c9685"/><stop offset="0.304" stop-color="#3aa77f"/><stop offset="0.32" stop-color="#5cbc74"/><stop offset="0.336" stop-color="#78c76c"/><stop offset="0.344" stop-color="#82cb69"/><stop offset="0.352" stop-color="#88cd68"/><stop offset="0.48" stop-color="#94d165"/><stop offset="0.752" stop-color="#92d165"/><stop offset="0.896" stop-color="#96d264"/><stop offset="1" stop-color="#8dcf66"/></linearGradient>
<linearGradient id="b25"><stop offset="0" stop-color="#77c76c"/><stop offset="0.088" stop-color="#6ac36f"/><stop offset="0.16" stop-color="#6bc36f"/><stop offset="0.2" stop-color="#70c56e"/><stop offset="0.208" stop-color="#6cc36f"/><stop offset="0.216" stop-color="#63bf72"/><stop offset="0.224" stop-color="#56b876"/><stop offset="0.232" stop-color="#42ae7c"/><stop offset="0.24" stop-color="#46b07b"/><stop offset="0.248" stop-color="#45b07b"/><stop offset="0.256" stop-color="#3fad7d"/><stop offset="0.264" stop-color="#38a480"/><stop offset="0.272" stop-color="#2e9884"/><stop offset="0.28" stop-color="#238889"/><stop offset="0.288" stop-color="#289087"/><stop offset="0.296" stop-color="#37a380"/><stop offset="0.304" stop-color="#47b17a"/><stop offset="0.32" stop-color="#67c170"/><stop offset="0.328" stop-color="#76c76c"/><stop offset="0.336" stop-color="#82cb69"/><stop offset="0.344" stop-color="#8ace67"/><stop offset="0.36" stop-color="#8ecf66"/><stop offset="0.488" stop-color="#99d363"/><stop offset="0.68" stop-color="#97d264"/><stop offset="0.792" stop-color="#95d264"/><stop offset="0.92" stop-color="#95d264"/><stop offset="1" stop-color="#8ecf66"/></linearGradient>
<linearGradient id="b26"><stop offset="0" stop-color="#79c86c"/><stop offset="0.088" stop-color="#6dc46f"/><stop offset="0.16" stop-color="#6dc46f"/><stop offset="0.192" stop-color="#71c56e"/><stop offset="0.2" stop-color="#6fc56e"/><stop offset="0.216" stop-color="#5fbd73"/><stop offset="0.224" stop-color="#4fb578"/><stop offset="0.232" stop-color="#3ba87e"/><stop offset="0.24" stop-color="#42ae7c"/><stop offset="0.248" stop-color="#45b07b"/><stop offset="0.256" stop-color="#44af7b"/><stop offset="0.264" stop-color="#3eac7d"/><stop offset="0.272" stop-color="#37a380"/><stop offset="0.28" stop-color="#2d9685"/><stop offset="0.288" stop-color="#35a081"/><stop offset="0.296" stop-color="#44af7b"/><stop offset="0.312" stop-color="#65c171"/><stop offset="0.328" stop-color="#82cb69"/><stop offset="0.336" stop-color="#8bce67"/><stop offset="0.352" stop-color="#90d066"/><stop offset="0.488" stop-color="#9dd462"/><stop offset="0.672" stop-color="#9cd463"/><stop offset="0.792" stop-color="#95d264"/><stop offset="0.92" stop-color="#95d264"/><stop offset="1" stop-color="#8ecf66"/></linearGradient>
<linearGradient id="b27"><stop offset="0" stop-color="#7bc96b"/><stop offset="0.088" stop-color="#6fc46e"/><stop offset="0.16" stop-color="#70c56e"/><stop offset="0.192" stop-color="#72c56d"/><stop offset="0.2" stop-color="#6cc36f"/><stop offset="0.208" stop-color="#62bf72"/><stop offset="0.216" stop-color="#55b876"/><stop offset="0.224" stop-color="#43af7b"/><stop offset="0.232" stop-color="#339e82"/><stop offset="0.24" stop-color="#3ba87e"/><stop offset="0.248" stop-color="#42ae7c"/><stop offset="0.256" stop-color="#45b07b"/><stop offset="0.264" stop-color="#44af7b"/><stop offset="0.272" stop-color="#3dab7d"/><stop offset="0.28" stop-color="#36a281"/><stop offset="0.288" stop-color="#43af7b"/><stop offset="0.296" stop-color="#56b976"/><stop offset="0.312" stop-color="#76c76c"/><stop offset="0.32" stop-color="#83cb69"/><stop offset="0.328" stop-color="#8cce67"/><stop offset="0.336" stop-color="#91d065"/><stop offset="0.48" stop-color="#a1d661"/><stop offset="0.648" stop-color="#a1d661"/><stop offset="0.792" stop-color="#95d264"/><stop offset="0.92" stop-color="#95d264"/><stop offset="1" stop-color="#8ecf66"/></linearGradient>
<linearGradient id="b28"><stop offset="0" stop-color="#7dc96b"/><stop offset="0.088" stop-color="#71c56e"/><stop offset="0.16" stop-color="#72c56d"/><stop offset="0.184" stop-color="#74c66d"/><stop offset="0.192" stop-color="#70c56e"/><stop offset="0.208" stop-color="#5abb74"/><stop offset="0.216" stop-color="#49b27a"/><stop offset="0.224" stop-color="#37a480"/><stop offset="0.232" stop-color="#2a9386"/><stop offset="0.24" stop-color="#35a081"/><stop offset="0.248" stop-color="#3daa7e"/><stop offset="0.256" stop-color="#43af7b"/><stop offset="0.264" stop-color="#46b07a"/><stop offset="0.272" stop-color="#44af7b"/><stop offset="0.28" stop-color="#3eab7d"/><stop offset="0.288" stop-color="#53b776"/><stop offset="0.304" stop-color="#76c76c"/><stop offset="0.312" stop-color="#84cc69"/><stop offset="0.32" stop-color="#8dcf66"/><stop offset="0.328" stop-color="#92d065"/><stop offset="0.48" stop-color="#a5d760"/><stop offset="0.632" stop-color="#a7d760"/><stop offset="0.752" stop-color="#9ad363"/><stop offset="0.784" stop-color="#95d264"/><stop offset="0.92" stop-color="#95d164"/><stop offset="1" stop-color="#8ecf66"/></linearGradient>
<linearGradient id="b29"><stop offset="0" stop-color="#7fca6a"/><stop offset="0.088" stop-color="#74c66d"/><stop offset="0.16" stop-color="#74c66d"/><stop offset="0.176" stop-color="#76c76c"/><stop offset="0.184" stop-color="#74c66d"/><stop offset="0.192" stop-color="#6dc46f"/><stop offset="0.2" stop-color="#61bf72"/><stop offset="0.208" stop-color="#52b777"/><stop offset="0.216" stop-color="#3fac7d"/><stop offset="0.224" stop-color="#2e9884"/><stop offset="0.232" stop-color="#228389"/><stop offset="0.24" stop-color="#2c9585"/><stop offset="0.248" stop-color="#36a280"/><stop offset="0.256" stop-color="#3eac7d"/><stop offset="0.264" stop-color="#45b07b"/><stop offset="0.272" stop-color="#47b17a"/><stop offset="0.28" stop-color="#45b07b"/><stop offset="0.288" stop-color="#5dbc73"/><stop offset="0.304" stop-color="#83cb69"/><stop offset="0.312" stop-color="#8dcf66"/><stop offset="0.32" stop-color="#93d165"/><stop offset="0.472" stop-color="#a9d760"/><stop offset="0.608" stop-color="#add85f"/><stop offset="0.736" stop-color="#9fd562"/><stop offset="0.784" stop-color="#95d264"/><stop offset="0.928" stop-color="#94d165"/><stop offset="1" stop-color="#8ecf66"/></linearGradient>
<linearGradient id="b30"><stop offset="0" stop-color="#81cb6a"/><stop offset="0.088" stop-color="#76c76c"/><stop offset="0.16" stop-color="#76c76c"/><stop offset="0.176" stop-color="#78c86c"/><stop offset="0.184" stop-color="#75c76d"/><stop offset="0.192" stop-color="#6cc36f"/><stop offset="0.2" stop-color="#5fbd73"/><stop offset="0.208" stop-color="#4fb578"/><stop offset="0.216" stop-color="#3ba87e"/><stop offset="0.224" stop-color="#299186"/><stop offset="0.232" stop-color="#1e6d8a"/><stop offset="0.24" stop-color="#228589"/><stop offset="0.248" stop-color="#2c9685"/><stop offset="0.256" stop-color="#36a280"/><stop offset="0.264" stop-color="#3eac7d"/><stop offset="0.272" stop-color="#45b07b"/><stop offset="0.28" stop-color="#47b17a"/><stop offset="0.288" stop-color="#60be73"/><stop offset="0.304" stop-color="#86cc68"/><stop offset="0.312" stop-color="#91d065"/><stop offset="0.328" stop-color="#97d264"/><stop offset="0.488" stop-color="#afd95f"/><stop offset="0.608" stop-color="#b2da5e"/><stop offset="0.728" stop-color="#a4d661"/><stop offset="0.776" stop-color="#96d264"/><stop offset="0.944" stop-color="#93d165"/><stop offset="1" stop-color="#8ecf66"/></linearGradient>
<linearGradient id="b31"><stop offset="0" stop-color="#83cb69"/><stop offset="0.088" stop-color="#78c76c"/><stop offset="0.16" stop-color="#78c86c"/><stop offset="0.176" stop-color="#7ac86b"/><stop offset="0.184" stop-color="#76c76c"/><stop offset="0.192" stop-color="#6dc46f"/><stop offset="0.2" stop-color="#5fbd73"/><stop offset="0.208" stop-color="#4eb478"/><stop offset="0.216" stop-color="#39a57f"/><stop offset="0.224" stop-color="#258d88"/><stop offset="0.232" stop-color="#1c5788"/><stop offset="0.24" stop-color="#1f718a"/><stop offset="0.248" stop-color="#238889"/><stop offset="0.256" stop-color="#2e9884"/><stop offset="0.264" stop-color="#38a480"/><stop offset="0.272" stop-color="#3fad7d"/><stop offset="0.28" stop-color="#46b07b"/><stop offset="0.288" stop-color="#5ebd73"/><stop offset="0.304" stop-color="#82cb69"/><stop offset="0.312" stop-color="#8dcf66"/><stop offset="0.328" stop-color="#99d363"/><stop offset="0.488" stop-color="#b3da5e"/><stop offset="0.608" stop-color="#b7db5d"/><stop offset="0.728" stop-color="#a7d760"/><stop offset="0.776" stop-color="#96d264"/><stop offset="0.96" stop-color="#91d065"/><stop offset="1" stop-color="#8ecf66"/></linearGradient>
<linearGradient id="b32"><stop offset="0" stop-color="#84cc69"/><stop offset="0.088" stop-color="#7ac86b"/><stop offset="0.16" stop-color="#7ac86b"/><stop offset="0.176" stop-color="#7cc96b"/><stop offset="0.184" stop-color="#78c86c"/><stop offset="0.192" stop-color="#6fc46e"/><stop offset="0.2" stop-color="#61be72"/><stop offset="0.208" stop-color="#4eb578"/><stop offset="0.216" stop-color="#39a57f"/><stop offset="0.224" stop-color="#248b89"/><stop offset="0.232" stop-color="#1b4281"/><stop offset="0.24" stop-color="#1c608b"/><stop offset="0.248" stop-color="#20788a"/><stop offset="0.256" stop-color="#268d88"/><stop offset="0.264" stop-color="#329c83"/><stop offset="0.272" stop-color="#3ba87e"/><stop offset="0.28" stop-color="#43af7b"/><stop offset="0.288" stop-color="#5abb74"/><stop offset="0.304" stop-color="#7bc96b"/><stop offset="0.32" stop-color="#90d066"/><stop offset="0.336" stop-color="#9cd463"/><stop offset="0.48" stop-color="#b6da5e"/><stop offset="0.592" stop-color="#bcdc5c"/><stop offset="0.64" stop-color="#b8db5d"/><stop offset="0.736" stop-color="#a7d760"/><stop offset="0.776" stop-color="#96d264"/><stop offset="0.976" stop-color="#90d066"/><stop offset="1" stop-color="#8ecf66"/></linearGradient>
<linearGradient id="b33"><stop offset="0" stop-color="#86cc68"/><stop offset="0.088" stop-color="#7bc96b"/><stop offset="0.16" stop-color="#7cc96b"/><stop offset="0.176" stop-color="#7dc96a"/><stop offset="0.184" stop-color="#7bc96b"/><stop offset="0.192" stop-color="#73c66d"/><stop offset="0.2" stop-color="#64c071"/><stop offset="0.208" stop-color="#52b677"/><stop offset="0.216" stop-color="#3aa77f"/><stop offset="0.224" stop-color="#248c88"/><stop offset="0.232" stop-color="#1c618b"/><stop offset="0.24" stop-color="#1c4e85"/><stop offset="0.248" stop-color="#1e698b"/><stop offset="0.256" stop-color="#228189"/><stop offset="0.264" stop-color="#2b9486"/><stop offset="0.272" stop-color="#36a281"/><stop offset="0.28" stop-color="#3eac7d"/><stop offset="0.288" stop-color="#54b776"/><stop offset="0.304" stop-color="#71c56e"/><stop offset="0.32" stop-color="#8ace67"/><stop offset="0.336" stop-color="#99d363"/><stop offset="0.36" stop-color="#a3d661"/><stop offset="0.496" stop-color="#bbdb5d"/><stop offset="0.6" stop-color="#c0dc5c"/><stop offset="0.648" stop-color="#badb5d"/><stop offset="0.736" stop-color="#aad860"/><stop offset="0.768" stop-color="#99d363"/><stop offset="0.808" stop-color="#94d165"/><stop offset="0.992" stop-color="#8ecf66"/><stop offset="1" stop-color="#8ecf66"/></linearGradient>
<linearGradient id="b34"><stop offset="0" stop-color="#87cd68"/><stop offset="0.088" stop-color="#7cc96b"/><stop offset="0.16" stop-color="#7dc96b"/><stop offset="0.176" stop-color="#7fca6a"/><stop offset="0.184" stop-color="#7dc96b"/><stop offset="0.192" stop-color="#76c76c"/><stop offset="0.2" stop-color="#67c170"/><stop offset="0.208" stop-color="#55b876"/><stop offset="0.216" stop-color="#3ca97e"/><stop offset="0.224" stop-color="#258c88"/><stop offset="0.232" stop-color="#1c5e8a"/><stop offset="0.24" stop-color="#1b3d7f"/><stop offset="0.248" stop-color="#1c5b89"/><stop offset="0.264" stop-color="#238b89"/><stop offset="0.28" stop-color="#3aa77f"/><stop offset="0.288" stop-color="#4cb379"/><stop offset="0.312" stop-color="#76c76c"/><stop offset="0.328" stop-color="#8dcf66"/><stop offset="0.344" stop-color="#9cd463"/><stop offset="0.368" stop-color="#a7d760"/><stop offset="0.496" stop-color="#bedc5c"/><stop offset="0.6" stop-color="#c4dd5b"/><stop offset="0.648" stop-color="#bedc5c"/><stop offset="0.728" stop-color="#afd95f"/><stop offset="0.768" stop-color="#99d363"/><stop offset="0.808" stop-color="#94d165"/><stop offset="1" stop-color="#8ecf66"/></linearGradient>
<linearGradient id="b35"><stop offset="0" stop-color="#88cd68"/><stop offset="0.088" stop-color="#7dc96a"/><stop offset="0.16" stop-color="#7eca6a"/><stop offset="0.184" stop-color="#7eca6a"/><stop offset="0.192" stop-color="#77c76c"/><stop offset="0.2" stop-color="#68c270"/><stop offset="0.208" stop-color="#56b876"/><stop offset="0.216" stop-color="#3ca97e"/><stop offset="0.224" stop-color="#238a89"/><stop offset="0.232" stop-color="#1c5888"/><stop offset="0.24" stop-color="#1b2d79"/><stop offset="0.248" stop-color="#1c4c84"/><stop offset="0.256" stop-color="#1d688b"/><stop offset="0.264" stop-color="#218089"/><stop offset="0.272" stop-color="#2a9386"/><stop offset="0.288" stop-color="#44af7b"/><stop offset="0.312" stop-color="#6fc46e"/><stop offset="0.328" stop-color="#88cd68"/><stop offset="0.344" stop-color="#99d363"/><stop offset="0.368" stop-color="#a7d760"/><stop offset="0.488" stop-color="#bfdc5c"/><stop offset="0.6" stop-color="#c7de5a"/><stop offset="0.648" stop-color="#c2dd5b"/><stop offset="0.728" stop-color="#b3da5e"/><stop offset="0.768" stop-color="#99d363"/><stop offset="0.808" stop-color="#93d165"/><stop offset="1" stop-color="#8ecf66"/></linearGradient>
<linearGradient id="b36"><stop offset="0" stop-color="#89cd68"/><stop offset="0.088" stop-color="#7eca6a"/><stop offset="0.184" stop-color="#7fca6a"/><stop offset="0.192" stop-color="#78c86c"/><stop offset="0.2" stop-color="#69c270"/><stop offset="0.208" stop-color="#56b876"/><stop offset="0.216" stop-color="#3ba87e"/><stop offset="0.224" stop-color="#238889"/><stop offset="0.232" stop-color="#1c5386"/><stop offset="0.24" stop-color="#1d1f71"/><stop offset="0.248" stop-color="#1b3f80"/><stop offset="0.256" stop-color="#1c5d8a"/><stop offset="0.272" stop-color="#248c88"/><stop offset="0.288" stop-color="#3dab7d"/><stop offset="0.304" stop-color="#5cbc74"/><stop offset="0.328" stop-color="#84cc69"/><stop offset="0.344" stop-color="#97d264"/><stop offset="0.368" stop-color="#a7d760"/><stop offset="0.416" stop-color="#b3da5e"/><stop offset="0.512" stop-color="#c3dd5b"/><stop offset="0.608" stop-color="#cadf5a"/><stop offset="0.664" stop-color="#c4dd5b"/><stop offset="0.728" stop-color="#b6da5d"/><stop offset="0.768" stop-color="#99d363"/><stop offset="0.816" stop-color="#92d065"/><stop offset="1" stop-color="#8ecf66"/></linearGradient>
<linearGradient id="b37"><stop offset="0" stop-color="#89cd67"/><stop offset="0.088" stop-color="#7eca6a"/><stop offset="0.16" stop-color="#7fca6a"/><stop offset="0.176" stop-color="#81cb6a"/><stop offset="0.184" stop-color="#7fca6a"/><stop offset="0.192" stop-color="#78c86c"/><stop offset="0.2" stop-color="#68c270"/><stop offset="0.208" stop-color="#55b876"/><stop offset="0.216" stop-color="#3aa67f"/><stop offset="0.224" stop-color="#228489"/><stop offset="0.232" stop-color="#1c4b84"/><stop offset="0.24" stop-color="#1e1069"/><stop offset="0.248" stop-color="#1b327b"/><stop offset="0.256" stop-color="#1c5086"/><stop offset="0.264" stop-color="#1e6b8a"/><stop offset="0.272" stop-color="#228389"/><stop offset="0.288" stop-color="#38a57f"/><stop offset="0.296" stop-color="#46b07a"/><stop offset="0.32" stop-color="#71c56e"/><stop offset="0.336" stop-color="#8ace67"/><stop offset="0.352" stop-color="#9bd363"/><stop offset="0.376" stop-color="#aad860"/><stop offset="0.456" stop-color="#bcdc5c"/><stop offset="0.592" stop-color="#cddf5a"/><stop offset="0.648" stop-color="#cbdf5a"/><stop offset="0.72" stop-color="#bddc5c"/><stop offset="0.736" stop-color="#b5da5e"/><stop offset="0.76" stop-color="#9ed562"/><stop offset="0.776" stop-color="#97d264"/><stop offset="0.864" stop-color="#8ecf66"/><stop offset="1" stop-color="#8ecf66"/></linearGradient>
<linearGradient id="b38"><stop offset="0" stop-color="#89cd67"/><stop offset="0.088" stop-color="#7eca6a"/><stop offset="0.16" stop-color="#7fca6a"/><stop offset="0.176" stop-color="#81cb6a"/><stop offset="0.184" stop-color="#7fca6a"/><stop offset="0.192" stop-color="#77c76c"/><stop offset="0.2" stop-color="#67c170"/><stop offset="0.208" stop-color="#52b677"/><stop offset="0.216" stop-color="#36a280"/><stop offset="0.224" stop-color="#207b8a"/><stop offset="0.232" stop-color="#1b3c7f"/><stop offset="0.24" stop-color="#1f0363"/><stop offset="0.256" stop-color="#1b4180"/><stop offset="0.264" stop-color="#1c5f8b"/><stop offset="0.28" stop-color="#258d88"/><stop offset="0.296" stop-color="#3eac7d"/><stop offset="0.312" stop-color="#5cbc74"/><stop offset="0.336" stop-color="#84cc69"/><stop offset="0.352" stop-color="#97d264"/><stop offset="0.376" stop-color="#a8d760"/><stop offset="0.408" stop-color="#b2da5e"/><stop offset="0.536" stop-color="#c8de5a"/><stop offset="0.632" stop-color="#d1e059"/><stop offset="0.68" stop-color="#cddf59"/><stop offset="0.728" stop-color="#bfdc5c"/><stop offset="0.744" stop-color="#afd95f"/><stop offset="0.76" stop-color="#9ed562"/><stop offset="0.776" stop-color="#96d264"/><stop offset="0.856" stop-color="#8dcf67"/><stop offset="1" stop-color="#8dcf66"/></linearGradient>
<linearGradient id="b39"><stop offset="0" stop-color="#88cd68"/><stop offset="0.088" stop-color="#7eca6a"/><stop offset="0.16" stop-color="#7fca6a"/><stop offset="0.176" stop-color="#80ca6a"/><stop offset="0.184" stop-color="#7eca6a"/><stop offset="0.192" stop-color="#75c66d"/><stop offset="0.2" stop-color="#64c071"/><stop offset="0.208" stop-color="#4cb379"/><stop offset="0.216" stop-color="#309b83"/><stop offset="0.224" stop-color="#1e6d8a"/><stop offset="0.232" stop-color="#1c2675"/><stop offset="0.24" stop-color="#1f0363"/><stop offset="0.248" stop-color="#1e0d68"/><stop offset="0.256" stop-color="#1b2f7a"/><stop offset="0.264" stop-color="#1c4e85"/><stop offset="0.272" stop-color="#1e6a8b"/><stop offset="0.28" stop-color="#228189"/><stop offset="0.288" stop-color="#2b9485"/><stop offset="0.296" stop-color="#38a480"/><stop offset="0.304" stop-color="#45b07b"/><stop offset="0.328" stop-color="#6fc56e"/><stop offset="0.344" stop-color="#89cd68"/><stop offset="0.36" stop-color="#9ad363"/><stop offset="0.384" stop-color="#aad860"/><stop offset="0.424" stop-color="#b6da5e"/><stop offset="0.6" stop-color="#d1e059"/><stop offset="0.664" stop-color="#d8e258"/><stop offset="0.704" stop-color="#cee059"/><stop offset="0.728" stop-color="#c4dd5b"/><stop offset="0.736" stop-color="#bddc5c"/><stop offset="0.752" stop-color="#a6d760"/><stop offset="0.768" stop-color="#98d363"/><stop offset="0.808" stop-color="#8ecf66"/><stop offset="0.88" stop-color="#88cd68"/><stop offset="1" stop-color="#8bce67"/></linearGradient>
<linearGradient id="b40"><stop offset="0" stop-color="#87cd68"/><stop offset="0.088" stop-color="#7dc96b"/><stop offset="0.16" stop-color="#7eca6a"/><stop offset="0.176" stop-color="#7fca6a"/><stop offset="0.184" stop-color="#7cc96b"/><stop offset="0.192" stop-color="#72c56e"/><stop offset="0.2" stop-color="#5fbd73"/><stop offset="0.208" stop-color="#45af7b"/><stop offset="0.216" stop-color="#289187"/><stop offset="0.224" stop-color="#1c5a89"/><stop offset="0.232" stop-color="#1f0765"/><stop offset="0.24" stop-color="#1f0363"/><stop offset="0.248" stop-color="#1f0363"/><stop offset="0.256" stop-color="#1d1b6f"/><stop offset="0.264" stop-color="#1b3c7e"/><stop offset="0.272" stop-color="#1c5a89"/><stop offset="0.288" stop-color="#238a89"/><stop offset="0.304" stop-color="#3ca97e"/><stop offset="0.328" stop-color="#66c171"/><stop offset="0.344" stop-color="#82cb69"/><stop offset="0.36" stop-color="#95d264"/><stop offset="0.392" stop-color="#acd85f"/><stop offset="0.44" stop-color="#b8db5d"/><stop offset="0.64" stop-color="#dbe257"/><stop offset="0.664" stop-color="#e1e456"/><stop offset="0.696" stop-color="#dae257"/><stop offset="0.728" stop-color="#cadf5a"/><stop offset="0.736" stop-color="#c1dd5b"/><stop offset="0.752" stop-color="#a5d760"/><stop offset="0.768" stop-color="#97d264"/><stop offset="0.8" stop-color="#8ace67"/><stop offset="0.864" stop-color="#82cb69"/><stop offset="0.984" stop-color="#86cc68"/><stop offset="1" stop-color="#87cd68"/></linearGradient>
<linearGradient id="b41"><stop offset="0" stop-color="#86cc68"/><stop offset="0.088" stop-color="#7cc96b"/><stop offset="0.16" stop-color="#7dc96a"/><stop offset="0.176" stop-color="#7eca6a"/><stop offset="0.184" stop-color="#7ac86b"/><stop offset="0.192" stop-color="#6dc46f"/><stop offset="0.2" stop-color="#59ba75"/><stop offset="0.208" stop-color="#3ca97e"/><stop offset="0.216" stop-color="#228389"/><stop offset="0.224" stop-color="#1b4080"/><stop offset="0.232" stop-color="#1f0363"/><stop offset="0.256" stop-color="#1f0564"/><stop offset="0.264" stop-color="#1c2876"/><stop offset="0.272" stop-color="#1b4782"/><stop offset="0.28" stop-color="#1d648b"/><stop offset="0.288" stop-color="#217c8a"/><stop offset="0.296" stop-color="#289087"/><stop offset="0.312" stop-color="#41ae7c"/><stop offset="0.336" stop-color="#6bc36f"/><stop offset="0.352" stop-color="#86cc68"/><stop offset="0.368" stop-color="#98d364"/><stop offset="0.392" stop-color="#aad860"/><stop offset="0.424" stop-color="#b5da5e"/><stop offset="0.632" stop-color="#dce357"/><stop offset="0.664" stop-color="#ebe654"/><stop offset="0.688" stop-color="#e7e555"/><stop offset="0.72" stop-color="#d6e158"/><stop offset="0.728" stop-color="#d0e059"/><stop offset="0.736" stop-color="#c6de5b"/><stop offset="0.752" stop-color="#a5d760"/><stop offset="0.776" stop-color="#90d066"/><stop offset="0.8" stop-color="#84cc69"/><stop offset="0.864" stop-color="#7bc96b"/><stop offset="0.968" stop-color="#7eca6a"/><stop offset="1" stop-color="#82cb69"/></linearGradient>
<linearGradient id="b42"><stop offset="0" stop-color="#84cc69"/><stop offset="0.088" stop-color="#7bc96b"/><stop offset="0.176" stop-color="#7dc96b"/><stop offset="0.184" stop-color="#77c76c"/><stop offset="0.192" stop-color="#68c270"/><stop offset="0.2" stop-color="#52b777"/><stop offset="0.208" stop-color="#34a081"/><stop offset="0.216" stop-color="#1f708a"/><stop offset="0.224" stop-color="#1c2273"/><stop offset="0.232" stop-color="#1f0363"/><stop offset="0.256" stop-color="#1f0363"/><stop offset="0.264" stop-color="#1e136b"/><stop offset="0.272" stop-color="#1b347c"/><stop offset="0.28" stop-color="#1c5386"/><stop offset="0.288" stop-color="#1e6e8a"/><stop offset="0.296" stop-color="#228589"/><stop offset="0.312" stop-color="#39a67f"/><stop offset="0.328" stop-color="#56b975"/><stop offset="0.352" stop-color="#7eca6a"/><stop offset="0.368" stop-color="#93d165"/><stop offset="0.4" stop-color="#abd85f"/><stop offset="0.432" stop-color="#b6da5e"/><stop offset="0.624" stop-color="#dce357"/><stop offset="0.648" stop-color="#eae654"/><stop offset="0.696" stop-color="#ece654"/><stop offset="0.72" stop-color="#dde357"/><stop offset="0.728" stop-color="#d6e158"/><stop offset="0.736" stop-color="#cadf5a"/><stop offset="0.752" stop-color="#a5d760"/><stop offset="0.776" stop-color="#8dcf67"/><stop offset="0.8" stop-color="#7eca6a"/><stop offset="0.856" stop-color="#75c66d"/><stop offset="0.952" stop-color="#77c76c"/><stop offset="1" stop-color="#7dc96a"/></linearGradient>
<linearGradient id="b43"><stop offset="0" stop-color="#83cb69"/><stop offset="0.088" stop-color="#7ac86b"/><stop offset="0.176" stop-color="#7bc96b"/><stop offset="0.184" stop-color="#74c66d"/><stop offset="0.192" stop-color="#64c071"/><stop offset="0.2" stop-color="#4bb379"/><stop offset="0.208" stop-color="#2c9685"/><stop offset="0.216" stop-color="#1c5d8a"/><stop offset="0.224" stop-color="#1f0363"/><stop offset="0.264" stop-color="#1f0363"/><stop offset="0.28" stop-color="#1b4281"/><stop offset="0.288" stop-color="#1c608b"/><stop offset="0.304" stop-color="#268d88"/><stop offset="0.32" stop-color="#3eac7d"/><stop offset="0.336" stop-color="#5cbc74"/><stop offset="0.36" stop-color="#84cc69"/><stop offset="0.376" stop-color="#97d264"/><stop offset="0.408" stop-color="#add85f"/><stop offset="0.456" stop-color="#badb5d"/><stop offset="0.616" stop-color="#dce357"/><stop offset="0.632" stop-color="#e2e456"/><stop offset="0.648" stop-color="#ece654"/><stop offset="0.704" stop-color="#ece654"/><stop offset="0.712" stop-color="#e9e555"/><stop offset="0.728" stop-color="#dbe257"/><stop offset="0.736" stop-color="#ccdf5a"/><stop offset="0.752" stop-color="#a5d760"/><stop offset="0.776" stop-color="#89ce67"/><stop offset="0.792" stop-color="#7dc96b"/><stop offset="0.84" stop-color="#71c56e"/><stop offset="0.904" stop-color="#6ec46e"/><stop offset="0.976" stop-color="#74c66d"/><stop offset="1" stop-color="#79c86c"/></linearGradient>
<linearGradient id="b44"><stop offset="0" stop-color="#82cb69"/><stop offset="0.088" stop-color="#79c86c"/><stop offset="0.176" stop-color="#7ac86b"/><stop offset="0.184" stop-color="#72c56e"/><stop offset="0.192" stop-color="#60be73"/><stop offset="0.2" stop-color="#44af7b"/><stop offset="0.208" stop-color="#258c88"/><stop offset="0.216" stop-color="#1b4983"/><stop offset="0.224" stop-color="#1f0363"/><stop offset="0.264" stop-color="#1f0363"/><stop offset="0.272" stop-color="#1e116a"/><stop offset="0.28" stop-color="#1b337b"/><stop offset="0.288" stop-color="#1c5286"/><stop offset="0.296" stop-color="#1e6c8a"/><stop offset="0.304" stop-color="#228489"/><stop offset="0.32" stop-color="#39a57f"/><stop offset="0.328" stop-color="#47b17a"/><stop offset="0.352" stop-color="#70c56e"/><stop offset="0.368" stop-color="#89cd67"/><stop offset="0.384" stop-color="#9ad363"/><stop offset="0.408" stop-color="#abd85f"/><stop offset="0.44" stop-color="#b6da5e"/><stop offset="0.6" stop-color="#d8e257"/><stop offset="0.632" stop-color="#e5e455"/><stop offset="0.64" stop-color="#ece654"/><stop offset="0.712" stop-color="#ece654"/><stop offset="0.728" stop-color="#dee357"/><stop offset="0.736" stop-color="#ccdf5a"/><stop offset="0.752" stop-color="#a5d761"/><stop offset="0.776" stop-color="#87cd68"/><stop offset="0.792" stop-color="#79c86c"/><stop offset="0.832" stop-color="#6ec46f"/><stop offset="0.888" stop-color="#6ac370"/><stop offset="0.968" stop-color="#6fc46e"/><stop offset="1" stop-color="#75c76d"/></linearGradient>
<linearGradient id="b45"><stop offset="0" stop-color="#80ca6a"/><stop offset="0.096" stop-color="#78c86c"/><stop offset="0.168" stop-color="#7ac86b"/><stop offset="0.176" stop-color="#78c86c"/><stop offset="0.184" stop-color="#6fc46e"/><stop offset="0.192" stop-color="#5cbc74"/><stop offset="0.2" stop-color="#3dab7d"/><stop offset="0.208" stop-color="#218189"/><stop offset="0.216" stop-color="#1b347c"/><stop offset="0.224" stop-color="#1f0363"/><stop offset="0.272" stop-color="#1f0363"/><stop offset="0.28" stop-color="#1c2474"/><stop offset="0.288" stop-color="#1b4481"/><stop offset="0.296" stop-color="#1c618b"/><stop offset="0.304" stop-color="#20798a"/><stop offset="0.312" stop-color="#268e87"/><stop offset="0.328" stop-color="#3fad7d"/><stop offset="0.344" stop-color="#5dbc73"/><stop offset="0.368" stop-color="#84cc69"/><stop offset="0.384" stop-color="#97d264"/><stop offset="0.416" stop-color="#add85f"/><stop offset="0.48" stop-color="#bedc5c"/><stop offset="0.6" stop-color="#d9e257"/><stop offset="0.632" stop-color="#e8e555"/><stop offset="0.64" stop-color="#ece654"/><stop offset="0.712" stop-color="#ece654"/><stop offset="0.72" stop-color="#e9e555"/><stop offset="0.728" stop-color="#e0e356"/><stop offset="0.752" stop-color="#a3d661"/><stop offset="0.776" stop-color="#83cb69"/><stop offset="0.792" stop-color="#75c76d"/><stop offset="0.832" stop-color="#6ac36f"/><stop offset="0.888" stop-color="#67c170"/><stop offset="0.96" stop-color="#6ac36f"/><stop offset="1" stop-color="#72c66d"/></linearGradient>
<linearGradient id="b46"><stop offset="0" stop-color="#7fca6a"/><stop offset="0.096" stop-color="#77c76c"/><stop offset="0.168" stop-color="#79c86c"/><stop offset="0.176" stop-color="#77c76c"/><stop offset="0.184" stop-color="#6bc36f"/><stop offset="0.192" stop-color="#57b975"/><stop offset="0.2" stop-color="#38a480"/><stop offset="0.208" stop-color="#1f748a"/><stop offset="0.216" stop-color="#1d1f71"/><stop offset="0.224" stop-color="#1f0363"/><stop offset="0.272" stop-color="#1f0363"/><stop offset="0.28" stop-color="#1d156c"/><stop offset="0.288" stop-color="#1b367d"/><stop offset="0.296" stop-color="#1c5587"/><stop offset="0.304" stop-color="#1e6f8a"/><stop offset="0.312" stop-color="#228689"/><stop offset="0.328" stop-color="#3aa77f"/><stop offset="0.344" stop-color="#57b975"/><stop offset="0.368" stop-color="#7fca6a"/><stop offset="0.384" stop-color="#93d165"/><stop offset="0.416" stop-color="#abd85f"/><stop offset="0.456" stop-color="#b7db5d"/><stop offset="0.6" stop-color="#d9e257"/><stop offset="0.632" stop-color="#eae654"/><stop offset="0.664" stop-color="#ece654"/><stop offset="0.72" stop-color="#ebe654"/><stop offset="0.728" stop-color="#e2e456"/><stop offset="0.752" stop-color="#a0d562"/><stop offset="0.776" stop-color="#80ca6a"/><stop offset="0.792" stop-color="#72c66d"/><stop offset="0.832" stop-color="#67c170"/><stop offset="0.896" stop-color="#64c071"/><stop offset="0.976" stop-color="#6ac370"/><stop offset="1" stop-color="#6fc46e"/></linearGradient>
<linearGradient id="b47"><stop offset="0" stop-color="#7dc96a"/><stop offset="0.096" stop-color="#76c76c"/><stop offset="0.168" stop-color="#78c86c"/><stop offset="0.176" stop-color="#75c66d"/><stop offset="0.184" stop-color="#68c270"/><stop offset="0.192" stop-color="#53b777"/><stop offset="0.2" stop-color="#339e82"/><stop offset="0.208" stop-color="#1d678b"/><stop offset="0.216" stop-color="#1f0866"/><stop offset="0.224" stop-color="#1f0363"/><stop offset="0.272" stop-color="#1f0363"/><stop offset="0.28" stop-color="#1f0664"/><stop offset="0.288" stop-color="#1c2976"/><stop offset="0.296" stop-color="#1b4883"/><stop offset="0.304" stop-color="#1d658b"/><stop offset="0.312" stop-color="#217d8a"/><stop offset="0.32" stop-color="#289187"/><stop offset="0.336" stop-color="#42ae7c"/><stop offset="0.36" stop-color="#6bc36f"/><stop offset="0.376" stop-color="#85cc68"/><stop offset="0.392" stop-color="#97d264"/><stop offset="0.424" stop-color="#add85f"/><stop offset="0.6" stop-color="#d9e257"/><stop offset="0.632" stop-color="#ece654"/><stop offset="0.72" stop-color="#ece654"/><stop offset="0.728" stop-color="#e4e455"/><stop offset="0.744" stop-color="#b2da5e"/><stop offset="0.752" stop-color="#9cd463"/><stop offset="0.776" stop-color="#7dc96b"/><stop offset="0.792" stop-color="#6fc46e"/><stop offset="0.824" stop-color="#66c171"/><stop offset="0.888" stop-color="#62bf72"/><stop offset="0.976" stop-color="#67c170"/><stop offset="1" stop-color="#6cc36f"/></linearGradient>
<linearGradient id="b48"><stop offset="0" stop-color="#7cc96b"/><stop offset="0.096" stop-color="#75c66d"/><stop offset="0.168" stop-color="#77c76c"/><stop offset="0.176" stop-color="#73c66d"/><stop offset="0.184" stop-color="#66c171"/><stop offset="0.192" stop-color="#4eb478"/><stop offset="0.2" stop-color="#2e9784"/><stop offset="0.208" stop-color="#1c5989"/><stop offset="0.216" stop-color="#1f0363"/><stop offset="0.28" stop-color="#1f0363"/><stop offset="0.288" stop-color="#1d1c70"/><stop offset="0.296" stop-color="#1b3d7f"/><stop offset="0.304" stop-color="#1c5a89"/><stop offset="0.32" stop-color="#238a89"/><stop offset="0.336" stop-color="#3ca97e"/><stop offset="0.352" stop-color="#59ba75"/><stop offset="0.376" stop-color="#80ca6a"/><stop offset="0.392" stop-color="#94d165"/><stop offset="0.424" stop-color="#abd85f"/><stop offset="0.472" stop-color="#b9db5d"/><stop offset="0.6" stop-color="#d9e257"/><stop offset="0.632" stop-color="#ece654"/><stop offset="0.72" stop-color="#ece654"/><stop offset="0.728" stop-color="#e6e555"/><stop offset="0.736" stop-color="#ccdf5a"/><stop offset="0.744" stop-color="#afd95f"/><stop offset="0.752" stop-color="#98d264"/><stop offset="0.776" stop-color="#79c86c"/><stop offset="0.792" stop-color="#6cc36f"/><stop offset="0.824" stop-color="#64c071"/><stop offset="0.88" stop-color="#60be73"/><stop offset="0.968" stop-color="#64c071"/><stop offset="1" stop-color="#69c270"/></linearGradient>
<linearGradient id="b49"><stop offset="0" stop-color="#7ac86b"/><stop offset="0.096" stop-color="#73c66d"/><stop offset="0.168" stop-color="#75c76d"/><stop offset="0.176" stop-color="#71c56e"/><stop offset="0.184" stop-color="#63bf72"/><stop offset="0.192" stop-color="#4ab279"/><stop offset="0.2" stop-color="#299186"/><stop offset="0.208" stop-color="#1c4b84"/><stop offset="0.216" stop-color="#1f0363"/><stop offset="0.28" stop-color="#1f0363"/><stop offset="0.288" stop-color="#1e0f69"/><stop offset="0.296" stop-color="#1b317b"/><stop offset="0.304" stop-color="#1c5085"/><stop offset="0.312" stop-color="#1e6b8a"/><stop offset="0.32" stop-color="#228289"/><stop offset="0.328" stop-color="#2b9585"/><stop offset="0.336" stop-color="#38a480"/><stop offset="0.344" stop-color="#45b07b"/><stop offset="0.368" stop-color="#6ec46f"/><stop offset="0.384" stop-color="#86cc68"/><stop offset="0.4" stop-color="#98d264"/><stop offset="0.432" stop-color="#acd85f"/><stop offset="0.592" stop-color="#d6e158"/><stop offset="0.616" stop-color="#e3e456"/><stop offset="0.624" stop-color="#e9e555"/><stop offset="0.64" stop-color="#ece654"/><stop offset="0.72" stop-color="#ece654"/><stop offset="0.728" stop-color="#e7e555"/><stop offset="0.736" stop-color="#ccdf5a"/><stop offset="0.744" stop-color="#abd85f"/><stop offset="0.752" stop-color="#93d165"/><stop offset="0.768" stop-color="#7ec96a"/><stop offset="0.792" stop-color="#69c270"/><stop offset="0.848" stop-color="#5fbd73"/><stop offset="0.952" stop-color="#60be72"/><stop offset="1" stop-color="#67c170"/></linearGradient>
<linearGradient id="b50"><stop offset="0" stop-color="#79c86c"/><stop offset="0.096" stop-color="#72c66d"/><stop offset="0.168" stop-color="#74c66d"/><stop offset="0.176" stop-color="#70c56e"/><stop offset="0.184" stop-color="#61be72"/><stop offset="0.192" stop-color="#46b07a"/><stop offset="0.2" stop-color="#258c88"/><stop offset="0.208" stop-color="#1b4080"/><stop offset="0.216" stop-color="#1f0363"/><stop offset="0.28" stop-color="#1f0363"/><stop offset="0.288" stop-color="#1f0564"/><stop offset="0.296" stop-color="#1c2876"/><stop offset="0.304" stop-color="#1b4882"/><stop offset="0.312" stop-color="#1d648b"/><stop offset="0.32" stop-color="#217c8a"/><stop offset="0.328" stop-color="#289087"/><stop offset="0.344" stop-color="#40ad7c"/><stop offset="0.36" stop-color="#5dbc73"/><stop offset="0.384" stop-color="#83cb69"/><stop offset="0.4" stop-color="#95d164"/><stop offset="0.432" stop-color="#aad860"/><stop offset="0.592" stop-color="#d6e158"/><stop offset="0.616" stop-color="#e3e456"/><stop offset="0.624" stop-color="#eae654"/><stop offset="0.648" stop-color="#ece654"/><stop offset="0.72" stop-color="#ece654"/><stop offset="0.728" stop-color="#e7e555"/><stop offset="0.736" stop-color="#ccdf5a"/><stop offset="0.744" stop-color="#a7d760"/><stop offset="0.752" stop-color="#8ecf66"/><stop offset="0.768" stop-color="#7ac86b"/><stop offset="0.784" stop-color="#6cc36f"/><stop offset="0.8" stop-color="#65c171"/><stop offset="0.864" stop-color="#5dbc73"/><stop offset="0.968" stop-color="#61be72"/><stop offset="1" stop-color="#65c171"/></linearGradient>
<clipPath id="cpb"><rect x="495.80" y="14.50" width="248.40" height="248.70"/></clipPath>
<linearGradient id="cbb" x1="0" y1="0" x2="0" y2="1"><stop offset="0.000" stop-color="#ece654"/><stop offset="0.077" stop-color="#ece654"/><stop offset="0.205" stop-color="#a5d761"/><stop offset="0.333" stop-color="#6cc36f"/><stop offset="0.462" stop-color="#42ae7c"/><stop offset="0.538" stop-color="#319b83"/><stop offset="0.590" stop-color="#268e88"/><stop offset="0.615" stop-color="#228789"/><stop offset="0.744" stop-color="#1c5d8a"/><stop offset="0.872" stop-color="#1b317a"/><stop offset="1.000" stop-color="#1f0363"/></linearGradient>
<linearGradient id="c0"><stop offset="0" stop-color="#1b3b7e"/><stop offset="0.048" stop-color="#1b4381"/><stop offset="0.128" stop-color="#1c638b"/><stop offset="0.168" stop-color="#207a8a"/><stop offset="0.192" stop-color="#258d88"/><stop offset="0.208" stop-color="#2f9984"/><stop offset="0.224" stop-color="#40ad7c"/><stop offset="0.24" stop-color="#5cbc74"/><stop offset="0.264" stop-color="#82cb69"/><stop offset="0.272" stop-color="#8bce67"/><stop offset="0.28" stop-color="#8dcf66"/><stop offset="0.288" stop-color="#87cd68"/><stop offset="0.32" stop-color="#56b876"/><stop offset="0.336" stop-color="#3ba87e"/><stop offset="0.352" stop-color="#2c9685"/><stop offset="0.368" stop-color="#238a89"/><stop offset="0.416" stop-color="#1e6a8b"/><stop offset="0.448" stop-color="#1c5888"/><stop offset="0.512" stop-color="#1b377d"/><stop offset="0.592" stop-color="#1d1c70"/><stop offset="0.648" stop-color="#1e0f69"/><stop offset="0.704" stop-color="#1e0a67"/><stop offset="0.752" stop-color="#1e126b"/><stop offset="1" stop-color="#1e126b"/></linearGradient>
<linearGradient id="c1"><stop offset="0" stop-color="#1b3b7e"/><stop offset="0.048" stop-color="#1b4381"/><stop offset="0.128" stop-color="#1d638b"/><stop offset="0.168" stop-color="#207b8a"/><stop offset="0.192" stop-color="#258d88"/><stop offset="0.208" stop-color="#2f9a83"/><stop offset="0.224" stop-color="#40ad7c"/><stop offset="0.24" stop-color="#5cbc74"/><stop offset="0.248" stop-color="#68c270"/><stop offset="0.264" stop-color="#86cc68"/><stop offset="0.272" stop-color="#93d165"/><stop offset="0.28" stop-color="#97d264"/><stop offset="0.288" stop-color="#90d066"/><stop offset="0.312" stop-color="#65c071"/><stop offset="0.336" stop-color="#3ba97e"/><stop offset="0.352" stop-color="#2d9784"/><stop offset="0.368" stop-color="#248b89"/><stop offset="0.424" stop-color="#1d678b"/><stop offset="0.464" stop-color="#1c4f85"/><stop offset="0.528" stop-color="#1b317a"/><stop offset="0.624" stop-color="#1e136b"/><stop offset="0.696" stop-color="#1e0b67"/><stop offset="0.76" stop-color="#1e126b"/><stop offset="1" stop-color="#1e126b"/></linearGradient>
<linearGradient id="c2"><stop offset="0" stop-color="#1b3b7e"/><stop offset="0.048" stop-color="#1b4481"/><stop offset="0.128" stop-color="#1d648b"/><stop offset="0.168" stop-color="#217b8a"/><stop offset="0.192" stop-color="#268e88"/><stop offset="0.208" stop-color="#309a83"/><stop offset="0.224" stop-color="#41ae7c"/><stop offset="0.248" stop-color="#69c270"/><stop offset="0.272" stop-color="#9cd463"/><stop offset="0.28" stop-color="#a3d661"/><stop offset="0.288" stop-color="#9bd363"/><stop offset="0.304" stop-color="#7cc96b"/><stop offset="0.32" stop-color="#59ba75"/><stop offset="0.336" stop-color="#3daa7e"/><stop offset="0.352" stop-color="#2f9984"/><stop offset="0.376" stop-color="#238889"/><stop offset="0.432" stop-color="#1c638b"/><stop offset="0.496" stop-color="#1b3f7f"/><stop offset="0.568" stop-color="#1c2374"/><stop offset="0.64" stop-color="#1e116a"/><stop offset="0.704" stop-color="#1e0b67"/><stop offset="0.752" stop-color="#1e126b"/><stop offset="1" stop-color="#1e126b"/></linearGradient>
<linearGradient id="c3"><stop offset="0" stop-color="#1b3b7e"/><stop offset="0.048" stop-color="#1b4481"/><stop offset="0.128" stop-color="#1d648b"/><stop offset="0.168" stop-color="#217d8a"/><stop offset="0.184" stop-color="#238989"/><stop offset="0.208" stop-color="#319c83"/><stop offset="0.224" stop-color="#42ae7c"/><stop offset="0.248" stop-color="#6ac36f"/><stop offset="0.272" stop-color="#a6d760"/><stop offset="0.28" stop-color="#b1d95e"/><stop offset="0.288" stop-color="#a6d760"/><stop offset="0.304" stop-color="#84cc69"/><stop offset="0.32" stop-color="#5cbc74"/><stop offset="0.336" stop-color="#3fad7d"/><stop offset="0.36" stop-color="#2c9585"/><stop offset="0.376" stop-color="#238a89"/><stop offset="0.432" stop-color="#1d648b"/><stop offset="0.496" stop-color="#1b3f80"/><stop offset="0.568" stop-color="#1c2474"/><stop offset="0.64" stop-color="#1e116a"/><stop offset="0.704" stop-color="#1e0b67"/><stop offset="0.752" stop-color="#1e126b"/><stop offset="1" stop-color="#1e126b"/></linearGradient>
<linearGradient id="c4"><stop offset="0" stop-color="#1b3b7e"/><stop offset="0.048" stop-color="#1b4481"/><stop offset="0.128" stop-color="#1d658b"/><stop offset="0.168" stop-color="#217e8a"/><stop offset="0.184" stop-color="#248b89"/><stop offset="0.208" stop-color="#329d82"/><stop offset="0.224" stop-color="#44af7b"/><stop offset="0.248" stop-color="#6dc46f"/><stop offset="0.264" stop-color="#97d264"/><stop offset="0.272" stop-color="#b1d95e"/><stop offset="0.28" stop-color="#bfdc5c"/><stop offset="0.288" stop-color="#b4da5e"/><stop offset="0.304" stop-color="#8ccf67"/><stop offset="0.32" stop-color="#60be73"/><stop offset="0.336" stop-color="#43af7b"/><stop offset="0.352" stop-color="#349f82"/><stop offset="0.376" stop-color="#258c88"/><stop offset="0.432" stop-color="#1d658b"/><stop offset="0.496" stop-color="#1b4080"/><stop offset="0.568" stop-color="#1c2474"/><stop offset="0.64" stop-color="#1e116a"/><stop offset="0.704" stop-color="#1e0b67"/><stop offset="0.752" stop-color="#1e126b"/><stop offset="1" stop-color="#1e126b"/></linearGradient>
<linearGradient id="c5"><stop offset="0" stop-color="#1b3b7e"/><stop offset="0.048" stop-color="#1b4582"/><stop offset="0.12" stop-color="#1c628b"/><stop offset="0.16" stop-color="#207a8a"/><stop offset="0.184" stop-color="#258c88"/><stop offset="0.208" stop-color="#349f81"/><stop offset="0.216" stop-color="#3ba87e"/><stop offset="0.232" stop-color="#53b777"/><stop offset="0.248" stop-color="#70c56e"/><stop offset="0.264" stop-color="#9ed462"/><stop offset="0.272" stop-color="#bcdc5c"/><stop offset="0.28" stop-color="#ccdf5a"/><stop offset="0.288" stop-color="#c2dd5b"/><stop offset="0.304" stop-color="#94d165"/><stop offset="0.32" stop-color="#64c071"/><stop offset="0.336" stop-color="#48b17a"/><stop offset="0.344" stop-color="#3dab7d"/><stop offset="0.376" stop-color="#268e88"/><stop offset="0.392" stop-color="#228289"/><stop offset="0.448" stop-color="#1c5c8a"/><stop offset="0.512" stop-color="#1b397d"/><stop offset="0.584" stop-color="#1d2072"/><stop offset="0.648" stop-color="#1e106a"/><stop offset="0.712" stop-color="#1e0b67"/><stop offset="0.752" stop-color="#1e126b"/><stop offset="1" stop-color="#1e126b"/></linearGradient>
<linearGradient id="c6"><stop offset="0" stop-color="#1b3b7e"/><stop offset="0.048" stop-color="#1b4582"/><stop offset="0.12" stop-color="#1d638b"/><stop offset="0.16" stop-color="#217b8a"/><stop offset="0.184" stop-color="#268e88"/><stop offset="0.208" stop-color="#36a281"/><stop offset="0.216" stop-color="#3caa7e"/><stop offset="0.24" stop-color="#62bf72"/><stop offset="0.248" stop-color="#74c66d"/><stop offset="0.264" stop-color="#a4d761"/><stop offset="0.272" stop-color="#c7de5b"/><stop offset="0.28" stop-color="#dae257"/><stop offset="0.288" stop-color="#d0e059"/><stop offset="0.304" stop-color="#9dd462"/><stop offset="0.32" stop-color="#69c270"/><stop offset="0.344" stop-color="#41ae7c"/><stop offset="0.368" stop-color="#2d9784"/><stop offset="0.384" stop-color="#248b89"/><stop offset="0.432" stop-color="#1d678b"/><stop offset="0.464" stop-color="#1c5387"/><stop offset="0.52" stop-color="#1b367c"/><stop offset="0.6" stop-color="#1d1b6f"/><stop offset="0.656" stop-color="#1e0f69"/><stop offset="0.712" stop-color="#1e0b67"/><stop offset="0.752" stop-color="#1e126b"/><stop offset="1" stop-color="#1e126b"/></linearGradient>
<linearGradient id="c7"><stop offset="0" stop-color="#1b3b7e"/><stop offset="0.048" stop-color="#1b4682"/><stop offset="0.12" stop-color="#1d658b"/><stop offset="0.16" stop-color="#217d8a"/><stop offset="0.176" stop-color="#238a89"/><stop offset="0.208" stop-color="#38a480"/><stop offset="0.216" stop-color="#3fad7d"/><stop offset="0.24" stop-color="#65c071"/><stop offset="0.248" stop-color="#79c86c"/><stop offset="0.264" stop-color="#add85f"/><stop offset="0.272" stop-color="#d1e059"/><stop offset="0.28" stop-color="#e7e555"/><stop offset="0.288" stop-color="#dee357"/><stop offset="0.304" stop-color="#a5d760"/><stop offset="0.32" stop-color="#71c56e"/><stop offset="0.328" stop-color="#60be72"/><stop offset="0.352" stop-color="#3caa7e"/><stop offset="0.384" stop-color="#258d88"/><stop offset="0.432" stop-color="#1d698b"/><stop offset="0.456" stop-color="#1c5989"/><stop offset="0.512" stop-color="#1b3a7e"/><stop offset="0.576" stop-color="#1c2273"/><stop offset="0.648" stop-color="#1e106a"/><stop offset="0.712" stop-color="#1e0b67"/><stop offset="0.752" stop-color="#1e126b"/><stop offset="1" stop-color="#1e126b"/></linearGradient>
<linearGradient id="c8"><stop offset="0" stop-color="#1b3b7e"/><stop offset="0.048" stop-color="#1b4682"/><stop offset="0.112" stop-color="#1c628b"/><stop offset="0.152" stop-color="#207a8a"/><stop offset="0.176" stop-color="#258c88"/><stop offset="0.208" stop-color="#3ba87e"/><stop offset="0.224" stop-color="#52b677"/><stop offset="0.24" stop-color="#6ec46f"/><stop offset="0.248" stop-color="#82cb69"/><stop offset="0.256" stop-color="#99d363"/><stop offset="0.264" stop-color="#b5da5e"/><stop offset="0.272" stop-color="#dbe257"/><stop offset="0.28" stop-color="#ece654"/><stop offset="0.288" stop-color="#ece654"/><stop offset="0.304" stop-color="#afd95f"/><stop offset="0.312" stop-color="#93d165"/><stop offset="0.32" stop-color="#7bc96b"/><stop offset="0.328" stop-color="#69c270"/><stop offset="0.352" stop-color="#41ae7c"/><stop offset="0.376" stop-color="#2c9685"/><stop offset="0.392" stop-color="#238889"/><stop offset="0.44" stop-color="#1d658b"/><stop offset="0.48" stop-color="#1c4c84"/><stop offset="0.536" stop-color="#1b307a"/><stop offset="0.632" stop-color="#1e136b"/><stop offset="0.704" stop-color="#1e0b67"/><stop offset="0.76" stop-color="#1e126b"/><stop offset="1" stop-color="#1e126b"/></linearGradient>
<linearGradient id="c9"><stop offset="0" stop-color="#1b3b7e"/><stop offset="0.048" stop-color="#1b4782"/><stop offset="0.112" stop-color="#1d648b"/><stop offset="0.152" stop-color="#217c8a"/><stop offset="0.168" stop-color="#238889"/><stop offset="0.192" stop-color="#319c83"/><stop offset="0.208" stop-color="#40ad7c"/><stop offset="0.224" stop-color="#5bbb74"/><stop offset="0.248" stop-color="#8dcf66"/><stop offset="0.256" stop-color="#a2d661"/><stop offset="0.264" stop-color="#bedc5c"/><stop offset="0.272" stop-color="#e5e455"/><stop offset="0.28" stop-color="#ece654"/><stop offset="0.288" stop-color="#ece654"/><stop offset="0.296" stop-color="#dbe257"/><stop offset="0.304" stop-color="#b8db5d"/><stop offset="0.312" stop-color="#9dd462"/><stop offset="0.32" stop-color="#88cd68"/><stop offset="0.336" stop-color="#68c270"/><stop offset="0.352" stop-color="#48b17a"/><stop offset="0.36" stop-color="#3caa7e"/><stop offset="0.384" stop-color="#299187"/><stop offset="0.392" stop-color="#238b89"/><stop offset="0.432" stop-color="#1e6c8a"/><stop offset="0.456" stop-color="#1c5d8a"/><stop offset="0.512" stop-color="#1b3b7e"/><stop offset="0.576" stop-color="#1c2373"/><stop offset="0.648" stop-color="#1e106a"/><stop offset="0.712" stop-color="#1e0b67"/><stop offset="0.76" stop-color="#1e126b"/><stop offset="1" stop-color="#1e126b"/></linearGradient>
<linearGradient id="c10"><stop offset="0" stop-color="#1b3b7e"/><stop offset="0.048" stop-color="#1b4883"/><stop offset="0.112" stop-color="#1d658b"/><stop offset="0.152" stop-color="#217e8a"/><stop offset="0.168" stop-color="#248b89"/><stop offset="0.192" stop-color="#35a081"/><stop offset="0.2" stop-color="#3ca97e"/><stop offset="0.216" stop-color="#55b876"/><stop offset="0.224" stop-color="#66c171"/><stop offset="0.232" stop-color="#7cc96b"/><stop offset="0.248" stop-color="#9ad363"/><stop offset="0.256" stop-color="#add85f"/><stop offset="0.264" stop-color="#c6de5b"/><stop offset="0.272" stop-color="#ece654"/><stop offset="0.288" stop-color="#ece654"/><stop offset="0.296" stop-color="#e7e555"/><stop offset="0.304" stop-color="#c2dd5b"/><stop offset="0.312" stop-color="#a8d760"/><stop offset="0.32" stop-color="#95d264"/><stop offset="0.336" stop-color="#78c86c"/><stop offset="0.344" stop-color="#61be72"/><stop offset="0.352" stop-color="#50b578"/><stop offset="0.36" stop-color="#41ae7c"/><stop offset="0.376" stop-color="#319b83"/><stop offset="0.392" stop-color="#258d88"/><stop offset="0.432" stop-color="#1e6e8a"/><stop offset="0.464" stop-color="#1c5989"/><stop offset="0.52" stop-color="#1b387d"/><stop offset="0.584" stop-color="#1c2172"/><stop offset="0.648" stop-color="#1e116a"/><stop offset="0.712" stop-color="#1e0b67"/><stop offset="0.76" stop-color="#1e126b"/><stop offset="1" stop-color="#1e126b"/></linearGradient>
<linearGradient id="c11"><stop offset="0" stop-color="#1b3b7e"/><stop offset="0.048" stop-color="#1b4983"/><stop offset="0.104" stop-color="#1d638b"/><stop offset="0.144" stop-color="#217b8a"/><stop offset="0.168" stop-color="#268e88"/><stop offset="0.192" stop-color="#38a480"/><stop offset="0.2" stop-color="#41ae7c"/><stop offset="0.216" stop-color="#5dbc73"/><stop offset="0.232" stop-color="#8cce67"/><stop offset="0.248" stop-color="#a8d760"/><stop offset="0.256" stop-color="#b9db5d"/><stop offset="0.264" stop-color="#d0e059"/><stop offset="0.272" stop-color="#ece654"/><stop offset="0.296" stop-color="#ece654"/><stop offset="0.304" stop-color="#cddf59"/><stop offset="0.312" stop-color="#b5da5e"/><stop offset="0.32" stop-color="#a4d661"/><stop offset="0.328" stop-color="#98d264"/><stop offset="0.336" stop-color="#88cd68"/><stop offset="0.344" stop-color="#6cc36f"/><stop offset="0.352" stop-color="#57b975"/><stop offset="0.368" stop-color="#3ba97e"/><stop offset="0.392" stop-color="#278f87"/><stop offset="0.408" stop-color="#228289"/><stop offset="0.464" stop-color="#1c5b89"/><stop offset="0.52" stop-color="#1b397d"/><stop offset="0.584" stop-color="#1c2172"/><stop offset="0.656" stop-color="#1e1069"/><stop offset="0.72" stop-color="#1e0b67"/><stop offset="0.76" stop-color="#1e126b"/><stop offset="1" stop-color="#1e126b"/></linearGradient>
<linearGradient id="c12"><stop offset="0" stop-color="#1b3b7e"/><stop offset="0.048" stop-color="#1c4a83"/><stop offset="0.104" stop-color="#1d658b"/><stop offset="0.144" stop-color="#217e8a"/><stop offset="0.16" stop-color="#248b89"/><stop offset="0.184" stop-color="#349f82"/><stop offset="0.192" stop-color="#3ba97e"/><stop offset="0.208" stop-color="#56b876"/><stop offset="0.216" stop-color="#65c171"/><stop offset="0.232" stop-color="#98d363"/><stop offset="0.248" stop-color="#b7da5d"/><stop offset="0.256" stop-color="#c5de5b"/><stop offset="0.272" stop-color="#ece654"/><stop offset="0.296" stop-color="#ece654"/><stop offset="0.312" stop-color="#c4dd5b"/><stop offset="0.328" stop-color="#a7d760"/><stop offset="0.336" stop-color="#96d264"/><stop offset="0.344" stop-color="#79c86c"/><stop offset="0.352" stop-color="#5fbd73"/><stop offset="0.368" stop-color="#40ad7c"/><stop offset="0.384" stop-color="#2f9984"/><stop offset="0.4" stop-color="#248b89"/><stop offset="0.44" stop-color="#1e6d8a"/><stop offset="0.472" stop-color="#1c5888"/><stop offset="0.52" stop-color="#1b397d"/><stop offset="0.576" stop-color="#1c2474"/><stop offset="0.648" stop-color="#1e116a"/><stop offset="0.712" stop-color="#1e0a67"/><stop offset="0.768" stop-color="#1e126b"/><stop offset="1" stop-color="#1e126b"/></linearGradient>
<linearGradient id="c13"><stop offset="0" stop-color="#1b3b7e"/><stop offset="0.048" stop-color="#1c4b84"/><stop offset="0.096" stop-color="#1c628b"/><stop offset="0.136" stop-color="#207a8a"/><stop offset="0.16" stop-color="#268d88"/><stop offset="0.184" stop-color="#37a380"/><stop offset="0.192" stop-color="#3fad7d"/><stop offset="0.216" stop-color="#6dc46f"/><stop offset="0.232" stop-color="#a0d562"/><stop offset="0.24" stop-color="#b3da5e"/><stop offset="0.256" stop-color="#d0e059"/><stop offset="0.264" stop-color="#e5e455"/><stop offset="0.272" stop-color="#ece654"/><stop offset="0.296" stop-color="#ece654"/><stop offset="0.304" stop-color="#e7e555"/><stop offset="0.312" stop-color="#d3e158"/><stop offset="0.328" stop-color="#b6da5d"/><stop offset="0.336" stop-color="#a2d661"/><stop offset="0.352" stop-color="#68c270"/><stop offset="0.368" stop-color="#46b07a"/><stop offset="0.376" stop-color="#3aa77f"/><stop offset="0.392" stop-color="#2c9585"/><stop offset="0.408" stop-color="#238889"/><stop offset="0.456" stop-color="#1d658b"/><stop offset="0.48" stop-color="#1c5487"/><stop offset="0.528" stop-color="#1b367c"/><stop offset="0.592" stop-color="#1d1f72"/><stop offset="0.656" stop-color="#1e106a"/><stop offset="0.72" stop-color="#1e0b67"/><stop offset="0.768" stop-color="#1e126b"/><stop offset="1" stop-color="#1e126b"/></linearGradient>
<linearGradient id="c14"><stop offset="0" stop-color="#1b3c7e"/><stop offset="0.048" stop-color="#1c4c84"/><stop offset="0.096" stop-color="#1d648b"/><stop offset="0.136" stop-color="#217d8a"/><stop offset="0.152" stop-color="#238a89"/><stop offset="0.176" stop-color="#339e82"/><stop offset="0.184" stop-color="#3aa77f"/><stop offset="0.192" stop-color="#44af7b"/><stop offset="0.208" stop-color="#61bf72"/><stop offset="0.216" stop-color="#74c66d"/><stop offset="0.232" stop-color="#a6d760"/><stop offset="0.24" stop-color="#badb5d"/><stop offset="0.264" stop-color="#ece654"/><stop offset="0.304" stop-color="#ece654"/><stop offset="0.312" stop-color="#e7e555"/><stop offset="0.328" stop-color="#c6de5b"/><stop offset="0.336" stop-color="#b0d95f"/><stop offset="0.352" stop-color="#76c76c"/><stop offset="0.36" stop-color="#61be72"/><stop offset="0.376" stop-color="#41ae7c"/><stop offset="0.392" stop-color="#319b83"/><stop offset="0.408" stop-color="#258d88"/><stop offset="0.448" stop-color="#1e6e8a"/><stop offset="0.472" stop-color="#1c5d8a"/><stop offset="0.52" stop-color="#1b3b7e"/><stop offset="0.568" stop-color="#1c2775"/><stop offset="0.648" stop-color="#1e116a"/><stop offset="0.72" stop-color="#1e0b67"/><stop offset="0.768" stop-color="#1e126b"/><stop offset="1" stop-color="#1e126b"/></linearGradient>
<linearGradient id="c15"><stop offset="0" stop-color="#1b3d7f"/><stop offset="0.048" stop-color="#1c4d84"/><stop offset="0.096" stop-color="#1d658b"/><stop offset="0.136" stop-color="#218089"/><stop offset="0.152" stop-color="#258c88"/><stop offset="0.176" stop-color="#36a281"/><stop offset="0.184" stop-color="#3dab7d"/><stop offset="0.208" stop-color="#67c170"/><stop offset="0.216" stop-color="#7bc96b"/><stop offset="0.232" stop-color="#acd85f"/><stop offset="0.256" stop-color="#e8e555"/><stop offset="0.264" stop-color="#ece654"/><stop offset="0.32" stop-color="#ebe654"/><stop offset="0.336" stop-color="#bfdc5c"/><stop offset="0.344" stop-color="#a0d562"/><stop offset="0.36" stop-color="#70c56e"/><stop offset="0.376" stop-color="#4cb479"/><stop offset="0.384" stop-color="#3fac7d"/><stop offset="0.408" stop-color="#2a9386"/><stop offset="0.424" stop-color="#228589"/><stop offset="0.472" stop-color="#1c618b"/><stop offset="0.528" stop-color="#1b387d"/><stop offset="0.576" stop-color="#1c2574"/><stop offset="0.656" stop-color="#1e106a"/><stop offset="0.72" stop-color="#1e0b67"/><stop offset="0.776" stop-color="#1e126a"/><stop offset="1" stop-color="#1e126a"/></linearGradient>
<linearGradient id="c16"><stop offset="0" stop-color="#1b3e7f"/><stop offset="0.048" stop-color="#1c4f85"/><stop offset="0.088" stop-color="#1c638b"/><stop offset="0.128" stop-color="#217c8a"/><stop offset="0.144" stop-color="#238989"/><stop offset="0.168" stop-color="#329d82"/><stop offset="0.184" stop-color="#43af7b"/><stop offset="0.208" stop-color="#6dc46f"/><stop offset="0.224" stop-color="#98d363"/><stop offset="0.24" stop-color="#c6de5b"/><stop offset="0.248" stop-color="#dbe257"/><stop offset="0.256" stop-color="#ece654"/><stop offset="0.32" stop-color="#ece654"/><stop offset="0.328" stop-color="#e5e455"/><stop offset="0.352" stop-color="#97d264"/><stop offset="0.368" stop-color="#6ac36f"/><stop offset="0.376" stop-color="#58ba75"/><stop offset="0.392" stop-color="#3dab7d"/><stop offset="0.416" stop-color="#299286"/><stop offset="0.424" stop-color="#248b89"/><stop offset="0.48" stop-color="#1c5e8a"/><stop offset="0.528" stop-color="#1b397e"/><stop offset="0.568" stop-color="#1c2876"/><stop offset="0.656" stop-color="#1e116a"/><stop offset="0.72" stop-color="#1e0b67"/><stop offset="0.776" stop-color="#1e116a"/><stop offset="1" stop-color="#1e116a"/></linearGradient>
<linearGradient id="c17"><stop offset="0" stop-color="#1b4080"/><stop offset="0.048" stop-color="#1c5086"/><stop offset="0.088" stop-color="#1d648b"/><stop offset="0.128" stop-color="#217f8a"/><stop offset="0.144" stop-color="#248c88"/><stop offset="0.168" stop-color="#35a181"/><stop offset="0.176" stop-color="#3dab7e"/><stop offset="0.2" stop-color="#63c071"/><stop offset="0.216" stop-color="#88cd68"/><stop offset="0.24" stop-color="#ccdf5a"/><stop offset="0.248" stop-color="#e3e456"/><stop offset="0.256" stop-color="#ece654"/><stop offset="0.328" stop-color="#ece654"/><stop offset="0.344" stop-color="#bedc5c"/><stop offset="0.352" stop-color="#a6d760"/><stop offset="0.36" stop-color="#92d065"/><stop offset="0.376" stop-color="#63bf72"/><stop offset="0.392" stop-color="#46b07a"/><stop offset="0.4" stop-color="#3ba87e"/><stop offset="0.424" stop-color="#278f87"/><stop offset="0.44" stop-color="#228189"/><stop offset="0.48" stop-color="#1c628b"/><stop offset="0.528" stop-color="#1b3b7e"/><stop offset="0.568" stop-color="#1c2976"/><stop offset="0.656" stop-color="#1e116a"/><stop offset="0.72" stop-color="#1e0b67"/><stop offset="0.784" stop-color="#1e116a"/><stop offset="1" stop-color="#1e116a"/></linearGradient>
<linearGradient id="c18"><stop offset="0" stop-color="#1b4281"/><stop offset="0.048" stop-color="#1c5286"/><stop offset="0.088" stop-color="#1d668b"/><stop offset="0.128" stop-color="#228189"/><stop offset="0.144" stop-color="#278e87"/><stop offset="0.168" stop-color="#38a57f"/><stop offset="0.176" stop-color="#42ae7c"/><stop offset="0.2" stop-color="#69c270"/><stop offset="0.224" stop-color="#a3d661"/><stop offset="0.248" stop-color="#eae654"/><stop offset="0.328" stop-color="#ece654"/><stop offset="0.336" stop-color="#dde357"/><stop offset="0.36" stop-color="#9cd462"/><stop offset="0.376" stop-color="#6bc36f"/><stop offset="0.4" stop-color="#3fac7d"/><stop offset="0.424" stop-color="#299286"/><stop offset="0.432" stop-color="#248b89"/><stop offset="0.488" stop-color="#1c5d8a"/><stop offset="0.528" stop-color="#1b3c7f"/><stop offset="0.56" stop-color="#1b2c78"/><stop offset="0.656" stop-color="#1e116a"/><stop offset="0.728" stop-color="#1e0b67"/><stop offset="0.784" stop-color="#1e106a"/><stop offset="1" stop-color="#1e106a"/></linearGradient>
<linearGradient id="c19"><stop offset="0" stop-color="#1b4481"/><stop offset="0.048" stop-color="#1c5487"/><stop offset="0.08" stop-color="#1d648b"/><stop offset="0.12" stop-color="#217e8a"/><stop offset="0.136" stop-color="#248b89"/><stop offset="0.16" stop-color="#349f81"/><stop offset="0.168" stop-color="#3ba97e"/><stop offset="0.192" stop-color="#61bf72"/><stop offset="0.208" stop-color="#83cb69"/><stop offset="0.224" stop-color="#aad860"/><stop offset="0.248" stop-color="#ece654"/><stop offset="0.328" stop-color="#ece654"/><stop offset="0.336" stop-color="#dfe356"/><stop offset="0.36" stop-color="#9fd562"/><stop offset="0.376" stop-color="#6ec46e"/><stop offset="0.392" stop-color="#4eb478"/><stop offset="0.4" stop-color="#40ad7c"/><stop offset="0.424" stop-color="#2a9386"/><stop offset="0.44" stop-color="#228589"/><stop offset="0.488" stop-color="#1c5e8a"/><stop offset="0.536" stop-color="#1b387d"/><stop offset="0.584" stop-color="#1c2574"/><stop offset="0.664" stop-color="#1e106a"/><stop offset="0.728" stop-color="#1e0a67"/><stop offset="0.784" stop-color="#1e106a"/><stop offset="1" stop-color="#1e106a"/></linearGradient>
<linearGradient id="c20"><stop offset="0" stop-color="#1b4782"/><stop offset="0.048" stop-color="#1c5888"/><stop offset="0.08" stop-color="#1d678b"/><stop offset="0.12" stop-color="#228189"/><stop offset="0.136" stop-color="#268e88"/><stop offset="0.16" stop-color="#37a380"/><stop offset="0.168" stop-color="#3fac7d"/><stop offset="0.192" stop-color="#66c171"/><stop offset="0.224" stop-color="#b1d95e"/><stop offset="0.24" stop-color="#dde357"/><stop offset="0.248" stop-color="#ece654"/><stop offset="0.328" stop-color="#ece654"/><stop offset="0.336" stop-color="#dfe356"/><stop offset="0.36" stop-color="#9fd562"/><stop offset="0.376" stop-color="#6ec46e"/><stop offset="0.392" stop-color="#4eb478"/><stop offset="0.4" stop-color="#40ad7c"/><stop offset="0.424" stop-color="#2a9386"/><stop offset="0.44" stop-color="#228589"/><stop offset="0.488" stop-color="#1c5e8a"/><stop offset="0.536" stop-color="#1b397e"/><stop offset="0.584" stop-color="#1c2675"/><stop offset="0.664" stop-color="#1e116a"/><stop offset="0.728" stop-color="#1e0a67"/><stop offset="0.792" stop-color="#1e0f69"/><stop offset="1" stop-color="#1e0f69"/></linearGradient>
<linearGradient id="c21"><stop offset="0" stop-color="#1c4a83"/><stop offset="0.048" stop-color="#1c5c89"/><stop offset="0.104" stop-color="#207a8a"/><stop offset="0.128" stop-color="#248b88"/><stop offset="0.152" stop-color="#339e82"/><stop offset="0.168" stop-color="#44af7b"/><stop offset="0.192" stop-color="#6cc36f"/><stop offset="0.224" stop-color="#b8db5d"/><stop offset="0.24" stop-color="#e3e456"/><stop offset="0.248" stop-color="#ece654"/><stop offset="0.328" stop-color="#ece654"/><stop offset="0.336" stop-color="#dfe356"/><stop offset="0.36" stop-color="#9fd562"/><stop offset="0.376" stop-color="#6ec46e"/><stop offset="0.392" stop-color="#4eb478"/><stop offset="0.4" stop-color="#40ad7c"/><stop offset="0.424" stop-color="#2a9386"/><stop offset="0.44" stop-color="#228589"/><stop offset="0.488" stop-color="#1c5e8a"/><stop offset="0.536" stop-color="#1b3a7e"/><stop offset="0.584" stop-color="#1c2675"/><stop offset="0.664" stop-color="#1e116a"/><stop offset="0.736" stop-color="#1e0b67"/><stop offset="0.8" stop-color="#1e0f69"/><stop offset="1" stop-color="#1e0f69"/></linearGradient>
<linearGradient id="c22"><stop offset="0" stop-color="#1c4d85"/><stop offset="0.056" stop-color="#1d648b"/><stop offset="0.104" stop-color="#217e8a"/><stop offset="0.12" stop-color="#238989"/><stop offset="0.152" stop-color="#36a280"/><stop offset="0.16" stop-color="#3eab7d"/><stop offset="0.184" stop-color="#64c071"/><stop offset="0.2" stop-color="#88cd68"/><stop offset="0.224" stop-color="#c2dd5b"/><stop offset="0.232" stop-color="#d5e158"/><stop offset="0.24" stop-color="#ebe654"/><stop offset="0.328" stop-color="#ece654"/><stop offset="0.336" stop-color="#dfe356"/><stop offset="0.36" stop-color="#9fd562"/><stop offset="0.376" stop-color="#6ec46e"/><stop offset="0.392" stop-color="#4eb478"/><stop offset="0.4" stop-color="#40ad7c"/><stop offset="0.424" stop-color="#2a9386"/><stop offset="0.44" stop-color="#228589"/><stop offset="0.488" stop-color="#1c5e8a"/><stop offset="0.536" stop-color="#1b3b7e"/><stop offset="0.584" stop-color="#1c2775"/><stop offset="0.664" stop-color="#1e116a"/><stop offset="0.736" stop-color="#1e0b67"/><stop offset="0.808" stop-color="#1e0e69"/><stop offset="1" stop-color="#1e0e69"/></linearGradient>
<linearGradient id="c23"><stop offset="0" stop-color="#1c5286"/><stop offset="0.048" stop-color="#1d658b"/><stop offset="0.104" stop-color="#228289"/><stop offset="0.12" stop-color="#258d88"/><stop offset="0.144" stop-color="#349f82"/><stop offset="0.152" stop-color="#3ba87e"/><stop offset="0.168" stop-color="#53b777"/><stop offset="0.176" stop-color="#60be72"/><stop offset="0.2" stop-color="#9bd463"/><stop offset="0.232" stop-color="#e9e555"/><stop offset="0.248" stop-color="#ece654"/><stop offset="0.328" stop-color="#ece654"/><stop offset="0.336" stop-color="#dfe356"/><stop offset="0.36" stop-color="#9fd562"/><stop offset="0.376" stop-color="#6ec46e"/><stop offset="0.392" stop-color="#4eb478"/><stop offset="0.4" stop-color="#40ad7c"/><stop offset="0.424" stop-color="#2a9386"/><stop offset="0.432" stop-color="#248c88"/><stop offset="0.472" stop-color="#1d688b"/><stop offset="0.496" stop-color="#1c5688"/><stop offset="0.544" stop-color="#1b377d"/><stop offset="0.6" stop-color="#1c2373"/><stop offset="0.672" stop-color="#1e106a"/><stop offset="0.736" stop-color="#1e0a66"/><stop offset="0.808" stop-color="#1e0d68"/><stop offset="1" stop-color="#1e0d68"/></linearGradient>
<linearGradient id="c24"><stop offset="0" stop-color="#1c5688"/><stop offset="0.04" stop-color="#1d668b"/><stop offset="0.096" stop-color="#228189"/><stop offset="0.112" stop-color="#248b89"/><stop offset="0.136" stop-color="#319c83"/><stop offset="0.152" stop-color="#40ad7d"/><stop offset="0.176" stop-color="#6ac36f"/><stop offset="0.192" stop-color="#9cd463"/><stop offset="0.224" stop-color="#e8e555"/><stop offset="0.232" stop-color="#ece654"/><stop offset="0.328" stop-color="#ece654"/><stop offset="0.336" stop-color="#dfe356"/><stop offset="0.36" stop-color="#9fd562"/><stop offset="0.376" stop-color="#6ec46e"/><stop offset="0.392" stop-color="#4eb578"/><stop offset="0.4" stop-color="#41ad7c"/><stop offset="0.424" stop-color="#2a9386"/><stop offset="0.432" stop-color="#248b89"/><stop offset="0.472" stop-color="#1d678b"/><stop offset="0.496" stop-color="#1c5587"/><stop offset="0.544" stop-color="#1b387d"/><stop offset="0.608" stop-color="#1c2172"/><stop offset="0.68" stop-color="#1e0f69"/><stop offset="0.744" stop-color="#1f0966"/><stop offset="0.808" stop-color="#1e0d68"/><stop offset="1" stop-color="#1e0d68"/></linearGradient>
<linearGradient id="c25"><stop offset="0" stop-color="#1c5688"/><stop offset="0.04" stop-color="#1d668b"/><stop offset="0.088" stop-color="#217d8a"/><stop offset="0.112" stop-color="#258d88"/><stop offset="0.136" stop-color="#339e82"/><stop offset="0.152" stop-color="#43af7b"/><stop offset="0.168" stop-color="#5fbd73"/><stop offset="0.176" stop-color="#72c56d"/><stop offset="0.192" stop-color="#a3d661"/><stop offset="0.208" stop-color="#cadf5a"/><stop offset="0.216" stop-color="#dde357"/><stop offset="0.224" stop-color="#ece654"/><stop offset="0.328" stop-color="#ece654"/><stop offset="0.336" stop-color="#dee357"/><stop offset="0.36" stop-color="#9fd562"/><stop offset="0.376" stop-color="#6dc46f"/><stop offset="0.392" stop-color="#4eb478"/><stop offset="0.4" stop-color="#40ad7c"/><stop offset="0.424" stop-color="#2a9386"/><stop offset="0.432" stop-color="#248b89"/><stop offset="0.472" stop-color="#1d678b"/><stop offset="0.496" stop-color="#1c5587"/><stop offset="0.536" stop-color="#1b3d7f"/><stop offset="0.6" stop-color="#1c2474"/><stop offset="0.68" stop-color="#1e1069"/><stop offset="0.744" stop-color="#1f0966"/><stop offset="0.856" stop-color="#1e0b67"/><stop offset="1" stop-color="#1e0b67"/></linearGradient>
<linearGradient id="c26"><stop offset="0" stop-color="#1c5688"/><stop offset="0.048" stop-color="#1d698b"/><stop offset="0.096" stop-color="#228389"/><stop offset="0.112" stop-color="#268e88"/><stop offset="0.136" stop-color="#35a081"/><stop offset="0.144" stop-color="#3ca97e"/><stop offset="0.16" stop-color="#54b876"/><stop offset="0.168" stop-color="#63bf72"/><stop offset="0.176" stop-color="#77c76c"/><stop offset="0.184" stop-color="#91d065"/><stop offset="0.2" stop-color="#bcdc5c"/><stop offset="0.216" stop-color="#e3e456"/><stop offset="0.224" stop-color="#ece654"/><stop offset="0.328" stop-color="#ece654"/><stop offset="0.344" stop-color="#c7de5b"/><stop offset="0.36" stop-color="#9cd463"/><stop offset="0.376" stop-color="#6ac36f"/><stop offset="0.4" stop-color="#40ad7d"/><stop offset="0.424" stop-color="#2a9386"/><stop offset="0.432" stop-color="#248b88"/><stop offset="0.472" stop-color="#1d678b"/><stop offset="0.504" stop-color="#1c5086"/><stop offset="0.552" stop-color="#1b387d"/><stop offset="0.632" stop-color="#1d1c70"/><stop offset="0.696" stop-color="#1e0d68"/><stop offset="0.76" stop-color="#1f0966"/><stop offset="1" stop-color="#1e0966"/></linearGradient>
<linearGradient id="c27"><stop offset="0" stop-color="#1c5688"/><stop offset="0.048" stop-color="#1d688b"/><stop offset="0.088" stop-color="#217e8a"/><stop offset="0.104" stop-color="#238989"/><stop offset="0.136" stop-color="#36a281"/><stop offset="0.144" stop-color="#3dab7d"/><stop offset="0.168" stop-color="#65c171"/><stop offset="0.184" stop-color="#96d264"/><stop offset="0.216" stop-color="#e8e555"/><stop offset="0.224" stop-color="#ece654"/><stop offset="0.328" stop-color="#ece654"/><stop offset="0.352" stop-color="#afd95f"/><stop offset="0.368" stop-color="#7fca6a"/><stop offset="0.376" stop-color="#67c270"/><stop offset="0.4" stop-color="#3fac7d"/><stop offset="0.432" stop-color="#248c88"/><stop offset="0.472" stop-color="#1d678b"/><stop offset="0.52" stop-color="#1b4983"/><stop offset="0.608" stop-color="#1c2575"/><stop offset="0.688" stop-color="#1e0f69"/><stop offset="0.768" stop-color="#1f0865"/><stop offset="1" stop-color="#1f0865"/></linearGradient>
<linearGradient id="c28"><stop offset="0" stop-color="#1c5688"/><stop offset="0.048" stop-color="#1d678b"/><stop offset="0.088" stop-color="#217e8a"/><stop offset="0.104" stop-color="#238989"/><stop offset="0.136" stop-color="#37a380"/><stop offset="0.144" stop-color="#3eac7d"/><stop offset="0.168" stop-color="#68c270"/><stop offset="0.184" stop-color="#99d363"/><stop offset="0.216" stop-color="#ece654"/><stop offset="0.328" stop-color="#ece654"/><stop offset="0.36" stop-color="#97d264"/><stop offset="0.376" stop-color="#66c171"/><stop offset="0.4" stop-color="#3eac7d"/><stop offset="0.432" stop-color="#248c88"/><stop offset="0.472" stop-color="#1d678b"/><stop offset="0.52" stop-color="#1c4a83"/><stop offset="0.616" stop-color="#1c2474"/><stop offset="0.688" stop-color="#1e0f69"/><stop offset="0.784" stop-color="#1f0765"/><stop offset="1" stop-color="#1f0765"/></linearGradient>
<linearGradient id="c29"><stop offset="0" stop-color="#1c5688"/><stop offset="0.048" stop-color="#1d678b"/><stop offset="0.088" stop-color="#217e8a"/><stop offset="0.104" stop-color="#238989"/><stop offset="0.128" stop-color="#319b83"/><stop offset="0.144" stop-color="#3fad7d"/><stop offset="0.168" stop-color="#6bc36f"/><stop offset="0.184" stop-color="#9cd462"/><stop offset="0.208" stop-color="#e0e356"/><stop offset="0.216" stop-color="#ece654"/><stop offset="0.328" stop-color="#ece654"/><stop offset="0.352" stop-color="#aed95f"/><stop offset="0.376" stop-color="#66c171"/><stop offset="0.4" stop-color="#3eac7d"/><stop offset="0.432" stop-color="#258c88"/><stop offset="0.472" stop-color="#1d678b"/><stop offset="0.52" stop-color="#1c4b84"/><stop offset="0.624" stop-color="#1c2273"/><stop offset="0.696" stop-color="#1e0e69"/><stop offset="0.784" stop-color="#1f0765"/><stop offset="1" stop-color="#1f0765"/></linearGradient>
<linearGradient id="c30"><stop offset="0" stop-color="#1c5688"/><stop offset="0.048" stop-color="#1d678b"/><stop offset="0.088" stop-color="#217d8a"/><stop offset="0.104" stop-color="#238989"/><stop offset="0.128" stop-color="#319b83"/><stop offset="0.144" stop-color="#40ad7c"/><stop offset="0.16" stop-color="#5dbc73"/><stop offset="0.168" stop-color="#6ec46f"/><stop offset="0.192" stop-color="#badb5d"/><stop offset="0.208" stop-color="#ebe654"/><stop offset="0.328" stop-color="#ece654"/><stop offset="0.344" stop-color="#c7de5a"/><stop offset="0.36" stop-color="#9ad363"/><stop offset="0.376" stop-color="#68c270"/><stop offset="0.4" stop-color="#3fad7d"/><stop offset="0.432" stop-color="#258d88"/><stop offset="0.472" stop-color="#1d698b"/><stop offset="0.504" stop-color="#1c5587"/><stop offset="0.584" stop-color="#1b317b"/><stop offset="0.688" stop-color="#1e106a"/><stop offset="0.776" stop-color="#1f0765"/><stop offset="1" stop-color="#1f0765"/></linearGradient>
<linearGradient id="c31"><stop offset="0" stop-color="#1c5688"/><stop offset="0.048" stop-color="#1d668b"/><stop offset="0.088" stop-color="#217d8a"/><stop offset="0.104" stop-color="#238989"/><stop offset="0.128" stop-color="#319b83"/><stop offset="0.144" stop-color="#41ae7c"/><stop offset="0.16" stop-color="#5ebd73"/><stop offset="0.168" stop-color="#70c56e"/><stop offset="0.184" stop-color="#a1d661"/><stop offset="0.2" stop-color="#dae257"/><stop offset="0.208" stop-color="#ece654"/><stop offset="0.328" stop-color="#ece654"/><stop offset="0.336" stop-color="#dfe356"/><stop offset="0.344" stop-color="#ccdf5a"/><stop offset="0.36" stop-color="#9dd462"/><stop offset="0.376" stop-color="#6ac370"/><stop offset="0.4" stop-color="#40ad7c"/><stop offset="0.424" stop-color="#2b9585"/><stop offset="0.44" stop-color="#228689"/><stop offset="0.48" stop-color="#1d658b"/><stop offset="0.536" stop-color="#1b4682"/><stop offset="0.632" stop-color="#1c2172"/><stop offset="0.696" stop-color="#1e0f69"/><stop offset="0.784" stop-color="#1f0765"/><stop offset="1" stop-color="#1f0765"/></linearGradient>
<linearGradient id="c32"><stop offset="0" stop-color="#1c5688"/><stop offset="0.048" stop-color="#1d668b"/><stop offset="0.088" stop-color="#217d8a"/><stop offset="0.104" stop-color="#238989"/><stop offset="0.128" stop-color="#319b83"/><stop offset="0.144" stop-color="#41ae7c"/><stop offset="0.16" stop-color="#5fbd73"/><stop offset="0.168" stop-color="#71c56e"/><stop offset="0.184" stop-color="#a3d661"/><stop offset="0.2" stop-color="#e0e356"/><stop offset="0.208" stop-color="#ece654"/><stop offset="0.328" stop-color="#ece654"/><stop offset="0.336" stop-color="#e0e356"/><stop offset="0.344" stop-color="#cee059"/><stop offset="0.36" stop-color="#9ed562"/><stop offset="0.376" stop-color="#6ac36f"/><stop offset="0.4" stop-color="#41ad7c"/><stop offset="0.424" stop-color="#2c9585"/><stop offset="0.44" stop-color="#228789"/><stop offset="0.48" stop-color="#1d668b"/><stop offset="0.536" stop-color="#1b4782"/><stop offset="0.632" stop-color="#1c2273"/><stop offset="0.704" stop-color="#1e0e69"/><stop offset="0.784" stop-color="#1f0765"/><stop offset="1" stop-color="#1f0765"/></linearGradient>
<linearGradient id="c33"><stop offset="0" stop-color="#1c5688"/><stop offset="0.048" stop-color="#1d668b"/><stop offset="0.088" stop-color="#217c8a"/><stop offset="0.104" stop-color="#238889"/><stop offset="0.128" stop-color="#309b83"/><stop offset="0.144" stop-color="#40ad7c"/><stop offset="0.16" stop-color="#5dbc73"/><stop offset="0.168" stop-color="#6fc46e"/><stop offset="0.184" stop-color="#a4d661"/><stop offset="0.2" stop-color="#e5e455"/><stop offset="0.208" stop-color="#ece654"/><stop offset="0.328" stop-color="#ece654"/><stop offset="0.336" stop-color="#dfe356"/><stop offset="0.344" stop-color="#ccdf5a"/><stop offset="0.36" stop-color="#99d363"/><stop offset="0.376" stop-color="#66c171"/><stop offset="0.4" stop-color="#3dab7d"/><stop offset="0.424" stop-color="#2a9286"/><stop offset="0.44" stop-color="#228489"/><stop offset="0.48" stop-color="#1d658b"/><stop offset="0.536" stop-color="#1b4782"/><stop offset="0.656" stop-color="#1d1b6f"/><stop offset="0.712" stop-color="#1e0d68"/><stop offset="0.784" stop-color="#1f0665"/><stop offset="1" stop-color="#1f0665"/></linearGradient>
<linearGradient id="c34"><stop offset="0" stop-color="#1c5688"/><stop offset="0.048" stop-color="#1d658b"/><stop offset="0.088" stop-color="#217b8a"/><stop offset="0.112" stop-color="#268d88"/><stop offset="0.136" stop-color="#36a181"/><stop offset="0.144" stop-color="#3dab7d"/><stop offset="0.16" stop-color="#59ba75"/><stop offset="0.168" stop-color="#69c270"/><stop offset="0.184" stop-color="#a5d760"/><stop offset="0.2" stop-color="#e8e555"/><stop offset="0.208" stop-color="#ece654"/><stop offset="0.28" stop-color="#ece654"/><stop offset="0.288" stop-color="#e0e356"/><stop offset="0.296" stop-color="#dce357"/><stop offset="0.312" stop-color="#ebe654"/><stop offset="0.32" stop-color="#ece654"/><stop offset="0.328" stop-color="#e6e555"/><stop offset="0.336" stop-color="#dde357"/><stop offset="0.344" stop-color="#c8de5a"/><stop offset="0.352" stop-color="#aad860"/><stop offset="0.368" stop-color="#74c66d"/><stop offset="0.376" stop-color="#5fbd73"/><stop offset="0.392" stop-color="#42ae7c"/><stop offset="0.408" stop-color="#319c83"/><stop offset="0.432" stop-color="#228789"/><stop offset="0.472" stop-color="#1d678b"/><stop offset="0.512" stop-color="#1c5286"/><stop offset="0.632" stop-color="#1c2374"/><stop offset="0.704" stop-color="#1e0f69"/><stop offset="0.784" stop-color="#1f0564"/><stop offset="1" stop-color="#1f0564"/></linearGradient>
<linearGradient id="c35"><stop offset="0" stop-color="#1c5688"/><stop offset="0.048" stop-color="#1d658b"/><stop offset="0.088" stop-color="#207b8a"/><stop offset="0.112" stop-color="#258d88"/><stop offset="0.136" stop-color="#34a081"/><stop offset="0.144" stop-color="#3ba97e"/><stop offset="0.16" stop-color="#56b876"/><stop offset="0.168" stop-color="#66c171"/><stop offset="0.176" stop-color="#84cc69"/><stop offset="0.184" stop-color="#a5d760"/><stop offset="0.2" stop-color="#e9e555"/><stop offset="0.216" stop-color="#ece654"/><stop offset="0.264" stop-color="#ece654"/><stop offset="0.28" stop-color="#cadf5a"/><stop offset="0.288" stop-color="#c0dd5c"/><stop offset="0.296" stop-color="#c3dd5b"/><stop offset="0.312" stop-color="#dbe257"/><stop offset="0.32" stop-color="#e1e456"/><stop offset="0.328" stop-color="#dee356"/><stop offset="0.336" stop-color="#d9e257"/><stop offset="0.344" stop-color="#c3dd5b"/><stop offset="0.352" stop-color="#a2d661"/><stop offset="0.368" stop-color="#6ac36f"/><stop offset="0.384" stop-color="#4ab279"/><stop offset="0.392" stop-color="#3dab7e"/><stop offset="0.416" stop-color="#289187"/><stop offset="0.424" stop-color="#238a89"/><stop offset="0.464" stop-color="#1e6a8b"/><stop offset="0.496" stop-color="#1c5888"/><stop offset="0.624" stop-color="#1c2775"/><stop offset="0.704" stop-color="#1e0f69"/><stop offset="0.784" stop-color="#1f0564"/><stop offset="1" stop-color="#1f0564"/></linearGradient>
<linearGradient id="c36"><stop offset="0" stop-color="#1c5688"/><stop offset="0.048" stop-color="#1d658b"/><stop offset="0.088" stop-color="#207a8a"/><stop offset="0.112" stop-color="#248c88"/><stop offset="0.136" stop-color="#339f82"/><stop offset="0.144" stop-color="#3aa87f"/><stop offset="0.152" stop-color="#45b07b"/><stop offset="0.168" stop-color="#64c071"/><stop offset="0.176" stop-color="#80ca6a"/><stop offset="0.184" stop-color="#a2d661"/><stop offset="0.2" stop-color="#e6e555"/><stop offset="0.208" stop-color="#ece654"/><stop offset="0.264" stop-color="#ece654"/><stop offset="0.272" stop-color="#d8e258"/><stop offset="0.28" stop-color="#bbdb5d"/><stop offset="0.288" stop-color="#b4da5e"/><stop offset="0.296" stop-color="#b9db5d"/><stop offset="0.312" stop-color="#cddf59"/><stop offset="0.32" stop-color="#d2e059"/><stop offset="0.336" stop-color="#ccdf5a"/><stop offset="0.344" stop-color="#badb5d"/><stop offset="0.352" stop-color="#9ed562"/><stop offset="0.36" stop-color="#80ca6a"/><stop offset="0.368" stop-color="#65c071"/><stop offset="0.384" stop-color="#46b07a"/><stop offset="0.392" stop-color="#3ba87f"/><stop offset="0.416" stop-color="#278f87"/><stop offset="0.432" stop-color="#218189"/><stop offset="0.472" stop-color="#1d648b"/><stop offset="0.528" stop-color="#1c4a83"/><stop offset="0.624" stop-color="#1c2775"/><stop offset="0.704" stop-color="#1e0f69"/><stop offset="0.784" stop-color="#1f0564"/><stop offset="1" stop-color="#1f0564"/></linearGradient>
<linearGradient id="c37"><stop offset="0" stop-color="#1c5688"/><stop offset="0.048" stop-color="#1d648b"/><stop offset="0.088" stop-color="#207a8a"/><stop offset="0.112" stop-color="#248b89"/><stop offset="0.136" stop-color="#339e82"/><stop offset="0.144" stop-color="#3aa67f"/><stop offset="0.152" stop-color="#44af7b"/><stop offset="0.168" stop-color="#62bf72"/><stop offset="0.176" stop-color="#7bc96b"/><stop offset="0.184" stop-color="#9dd462"/><stop offset="0.2" stop-color="#e0e356"/><stop offset="0.208" stop-color="#ece654"/><stop offset="0.264" stop-color="#ece654"/><stop offset="0.272" stop-color="#d5e158"/><stop offset="0.28" stop-color="#b1d95e"/><stop offset="0.288" stop-color="#abd85f"/><stop offset="0.312" stop-color="#bfdc5c"/><stop offset="0.32" stop-color="#c0dc5c"/><stop offset="0.336" stop-color="#b8db5d"/><stop offset="0.344" stop-color="#add85f"/><stop offset="0.352" stop-color="#9ad363"/><stop offset="0.36" stop-color="#79c86c"/><stop offset="0.368" stop-color="#61be72"/><stop offset="0.384" stop-color="#43ae7c"/><stop offset="0.4" stop-color="#319c83"/><stop offset="0.424" stop-color="#228789"/><stop offset="0.464" stop-color="#1d688b"/><stop offset="0.496" stop-color="#1c5788"/><stop offset="0.624" stop-color="#1c2775"/><stop offset="0.704" stop-color="#1e0f69"/><stop offset="0.784" stop-color="#1f0564"/><stop offset="1" stop-color="#1f0564"/></linearGradient>
<linearGradient id="c38"><stop offset="0" stop-color="#1c5688"/><stop offset="0.048" stop-color="#1d648b"/><stop offset="0.088" stop-color="#20798a"/><stop offset="0.112" stop-color="#238b89"/><stop offset="0.136" stop-color="#329d82"/><stop offset="0.152" stop-color="#42ae7c"/><stop offset="0.168" stop-color="#60be73"/><stop offset="0.176" stop-color="#77c76c"/><stop offset="0.184" stop-color="#99d363"/><stop offset="0.2" stop-color="#dbe257"/><stop offset="0.208" stop-color="#ece654"/><stop offset="0.264" stop-color="#ece654"/><stop offset="0.272" stop-color="#d2e059"/><stop offset="0.28" stop-color="#afd95f"/><stop offset="0.288" stop-color="#a3d661"/><stop offset="0.312" stop-color="#add85f"/><stop offset="0.328" stop-color="#a9d760"/><stop offset="0.344" stop-color="#9ed562"/><stop offset="0.352" stop-color="#92d165"/><stop offset="0.36" stop-color="#73c66d"/><stop offset="0.368" stop-color="#5fbd73"/><stop offset="0.384" stop-color="#40ad7c"/><stop offset="0.4" stop-color="#309a83"/><stop offset="0.416" stop-color="#258c88"/><stop offset="0.456" stop-color="#1e6c8a"/><stop offset="0.488" stop-color="#1c5a89"/><stop offset="0.56" stop-color="#1b3e7f"/><stop offset="0.672" stop-color="#1d176d"/><stop offset="0.744" stop-color="#1f0866"/><stop offset="0.808" stop-color="#1f0564"/><stop offset="1" stop-color="#1f0564"/></linearGradient>
<linearGradient id="c39"><stop offset="0" stop-color="#1c5587"/><stop offset="0.048" stop-color="#1d648b"/><stop offset="0.088" stop-color="#20788a"/><stop offset="0.112" stop-color="#238a89"/><stop offset="0.136" stop-color="#319c83"/><stop offset="0.152" stop-color="#40ad7c"/><stop offset="0.168" stop-color="#5ebd73"/><stop offset="0.176" stop-color="#73c66d"/><stop offset="0.192" stop-color="#b6da5e"/><stop offset="0.2" stop-color="#d7e158"/><stop offset="0.208" stop-color="#ece654"/><stop offset="0.264" stop-color="#ece654"/><stop offset="0.272" stop-color="#cfe059"/><stop offset="0.28" stop-color="#afd95f"/><stop offset="0.288" stop-color="#9fd562"/><stop offset="0.296" stop-color="#96d264"/><stop offset="0.32" stop-color="#96d264"/><stop offset="0.344" stop-color="#8ccf67"/><stop offset="0.352" stop-color="#84cc69"/><stop offset="0.36" stop-color="#6ec46e"/><stop offset="0.384" stop-color="#3fac7d"/><stop offset="0.4" stop-color="#2e9884"/><stop offset="0.416" stop-color="#238a89"/><stop offset="0.456" stop-color="#1e6a8b"/><stop offset="0.488" stop-color="#1c5988"/><stop offset="0.616" stop-color="#1c2876"/><stop offset="0.688" stop-color="#1e116a"/><stop offset="0.776" stop-color="#1f0564"/><stop offset="1" stop-color="#1f0564"/></linearGradient>
<linearGradient id="c40"><stop offset="0" stop-color="#1c5387"/><stop offset="0.048" stop-color="#1d638b"/><stop offset="0.088" stop-color="#20788a"/><stop offset="0.112" stop-color="#238989"/><stop offset="0.144" stop-color="#37a380"/><stop offset="0.152" stop-color="#3fac7d"/><stop offset="0.168" stop-color="#5bbb74"/><stop offset="0.176" stop-color="#6ec46e"/><stop offset="0.192" stop-color="#b2d95e"/><stop offset="0.2" stop-color="#d2e059"/><stop offset="0.208" stop-color="#ece654"/><stop offset="0.264" stop-color="#ece654"/><stop offset="0.272" stop-color="#ccdf5a"/><stop offset="0.28" stop-color="#afd95f"/><stop offset="0.296" stop-color="#85cc68"/><stop offset="0.336" stop-color="#7ec96a"/><stop offset="0.352" stop-color="#73c66d"/><stop offset="0.368" stop-color="#5cbc74"/><stop offset="0.384" stop-color="#3eab7d"/><stop offset="0.392" stop-color="#349f82"/><stop offset="0.416" stop-color="#238989"/><stop offset="0.456" stop-color="#1e698b"/><stop offset="0.48" stop-color="#1c5c89"/><stop offset="0.544" stop-color="#1b4280"/><stop offset="0.624" stop-color="#1c2373"/><stop offset="0.688" stop-color="#1e106a"/><stop offset="0.776" stop-color="#1f0564"/><stop offset="1" stop-color="#1f0564"/></linearGradient>
<linearGradient id="c41"><stop offset="0" stop-color="#1c5286"/><stop offset="0.048" stop-color="#1c628b"/><stop offset="0.096" stop-color="#217c8a"/><stop offset="0.12" stop-color="#268e88"/><stop offset="0.144" stop-color="#36a181"/><stop offset="0.152" stop-color="#3dab7d"/><stop offset="0.168" stop-color="#58ba75"/><stop offset="0.176" stop-color="#69c270"/><stop offset="0.192" stop-color="#acd85f"/><stop offset="0.208" stop-color="#ece654"/><stop offset="0.256" stop-color="#ece654"/><stop offset="0.264" stop-color="#e7e555"/><stop offset="0.272" stop-color="#c6de5b"/><stop offset="0.288" stop-color="#90d066"/><stop offset="0.296" stop-color="#77c76c"/><stop offset="0.304" stop-color="#71c56e"/><stop offset="0.336" stop-color="#6fc46e"/><stop offset="0.36" stop-color="#62bf72"/><stop offset="0.368" stop-color="#59ba75"/><stop offset="0.384" stop-color="#3ca97e"/><stop offset="0.392" stop-color="#329d82"/><stop offset="0.408" stop-color="#268e88"/><stop offset="0.432" stop-color="#20798a"/><stop offset="0.472" stop-color="#1c5e8a"/><stop offset="0.528" stop-color="#1b4682"/><stop offset="0.608" stop-color="#1c2976"/><stop offset="0.68" stop-color="#1e116a"/><stop offset="0.768" stop-color="#1f0564"/><stop offset="1" stop-color="#1f0564"/></linearGradient>
<linearGradient id="c42"><stop offset="0" stop-color="#1c4f85"/><stop offset="0.056" stop-color="#1d658b"/><stop offset="0.104" stop-color="#218189"/><stop offset="0.12" stop-color="#258c88"/><stop offset="0.144" stop-color="#349f81"/><stop offset="0.152" stop-color="#3ba87e"/><stop offset="0.16" stop-color="#46b07b"/><stop offset="0.176" stop-color="#65c071"/><stop offset="0.184" stop-color="#81cb69"/><stop offset="0.192" stop-color="#a3d661"/><stop offset="0.2" stop-color="#c4dd5b"/><stop offset="0.208" stop-color="#eae554"/><stop offset="0.224" stop-color="#ece654"/><stop offset="0.256" stop-color="#ece654"/><stop offset="0.264" stop-color="#dde357"/><stop offset="0.28" stop-color="#9ed562"/><stop offset="0.288" stop-color="#7dc96a"/><stop offset="0.296" stop-color="#69c270"/><stop offset="0.304" stop-color="#64c071"/><stop offset="0.336" stop-color="#64c071"/><stop offset="0.36" stop-color="#59ba75"/><stop offset="0.368" stop-color="#51b677"/><stop offset="0.376" stop-color="#44af7b"/><stop offset="0.384" stop-color="#38a57f"/><stop offset="0.4" stop-color="#2a9386"/><stop offset="0.416" stop-color="#228589"/><stop offset="0.448" stop-color="#1e6a8b"/><stop offset="0.48" stop-color="#1c5888"/><stop offset="0.6" stop-color="#1c2c78"/><stop offset="0.664" stop-color="#1d156c"/><stop offset="0.736" stop-color="#1f0866"/><stop offset="0.816" stop-color="#1f0564"/><stop offset="1" stop-color="#1f0564"/></linearGradient>
<linearGradient id="c43"><stop offset="0" stop-color="#1c4d84"/><stop offset="0.056" stop-color="#1d648b"/><stop offset="0.104" stop-color="#217f8a"/><stop offset="0.12" stop-color="#248b89"/><stop offset="0.144" stop-color="#329d82"/><stop offset="0.16" stop-color="#42ae7c"/><stop offset="0.176" stop-color="#60be72"/><stop offset="0.184" stop-color="#78c86c"/><stop offset="0.192" stop-color="#9bd463"/><stop offset="0.208" stop-color="#dde357"/><stop offset="0.216" stop-color="#ece654"/><stop offset="0.256" stop-color="#ece654"/><stop offset="0.264" stop-color="#d3e158"/><stop offset="0.272" stop-color="#b5da5e"/><stop offset="0.288" stop-color="#6ac36f"/><stop offset="0.296" stop-color="#5ebd73"/><stop offset="0.304" stop-color="#58b975"/><stop offset="0.336" stop-color="#5bbb74"/><stop offset="0.36" stop-color="#50b578"/><stop offset="0.376" stop-color="#3dab7d"/><stop offset="0.4" stop-color="#299186"/><stop offset="0.408" stop-color="#238b89"/><stop offset="0.448" stop-color="#1d688b"/><stop offset="0.496" stop-color="#1c5085"/><stop offset="0.6" stop-color="#1c2b77"/><stop offset="0.664" stop-color="#1e146c"/><stop offset="0.736" stop-color="#1f0866"/><stop offset="0.816" stop-color="#1f0564"/><stop offset="1" stop-color="#1f0564"/></linearGradient>
<linearGradient id="c44"><stop offset="0" stop-color="#1c4d84"/><stop offset="0.048" stop-color="#1c5f8b"/><stop offset="0.096" stop-color="#20788a"/><stop offset="0.12" stop-color="#238989"/><stop offset="0.152" stop-color="#37a480"/><stop offset="0.16" stop-color="#3fad7d"/><stop offset="0.176" stop-color="#5cbc74"/><stop offset="0.184" stop-color="#70c56e"/><stop offset="0.2" stop-color="#b3da5e"/><stop offset="0.208" stop-color="#d3e158"/><stop offset="0.216" stop-color="#ece654"/><stop offset="0.256" stop-color="#ece654"/><stop offset="0.272" stop-color="#abd85f"/><stop offset="0.288" stop-color="#61be72"/><stop offset="0.296" stop-color="#52b677"/><stop offset="0.304" stop-color="#48b17a"/><stop offset="0.32" stop-color="#49b27a"/><stop offset="0.344" stop-color="#4db478"/><stop offset="0.36" stop-color="#47b17a"/><stop offset="0.368" stop-color="#40ad7c"/><stop offset="0.408" stop-color="#238989"/><stop offset="0.44" stop-color="#1e6b8a"/><stop offset="0.464" stop-color="#1c5c8a"/><stop offset="0.52" stop-color="#1b4582"/><stop offset="0.6" stop-color="#1c2976"/><stop offset="0.664" stop-color="#1e136b"/><stop offset="0.752" stop-color="#1f0665"/><stop offset="1" stop-color="#1f0564"/></linearGradient>
<linearGradient id="c45"><stop offset="0" stop-color="#1c4d84"/><stop offset="0.048" stop-color="#1c5e8a"/><stop offset="0.096" stop-color="#20778a"/><stop offset="0.12" stop-color="#238889"/><stop offset="0.144" stop-color="#2f9a83"/><stop offset="0.16" stop-color="#3daa7e"/><stop offset="0.176" stop-color="#58b975"/><stop offset="0.184" stop-color="#69c270"/><stop offset="0.2" stop-color="#aad860"/><stop offset="0.216" stop-color="#ece654"/><stop offset="0.256" stop-color="#ece654"/><stop offset="0.272" stop-color="#a1d661"/><stop offset="0.28" stop-color="#79c86c"/><stop offset="0.288" stop-color="#59ba75"/><stop offset="0.296" stop-color="#44af7b"/><stop offset="0.304" stop-color="#38a480"/><stop offset="0.32" stop-color="#36a280"/><stop offset="0.336" stop-color="#3ba87e"/><stop offset="0.352" stop-color="#40ad7c"/><stop offset="0.368" stop-color="#3aa77f"/><stop offset="0.408" stop-color="#238989"/><stop offset="0.44" stop-color="#1d698b"/><stop offset="0.48" stop-color="#1c5286"/><stop offset="0.592" stop-color="#1c2876"/><stop offset="0.664" stop-color="#1e126a"/><stop offset="0.76" stop-color="#1f0664"/><stop offset="1" stop-color="#1f0564"/></linearGradient>
<linearGradient id="c46"><stop offset="0" stop-color="#1c4d84"/><stop offset="0.048" stop-color="#1c5d8a"/><stop offset="0.096" stop-color="#20758a"/><stop offset="0.128" stop-color="#258c88"/><stop offset="0.152" stop-color="#349f81"/><stop offset="0.16" stop-color="#3ba87e"/><stop offset="0.168" stop-color="#46b07b"/><stop offset="0.184" stop-color="#64c071"/><stop offset="0.192" stop-color="#80ca6a"/><stop offset="0.2" stop-color="#a2d661"/><stop offset="0.208" stop-color="#c2dd5b"/><stop offset="0.216" stop-color="#ebe654"/><stop offset="0.256" stop-color="#ece654"/><stop offset="0.264" stop-color="#c1dd5c"/><stop offset="0.272" stop-color="#99d363"/><stop offset="0.28" stop-color="#6fc46e"/><stop offset="0.288" stop-color="#53b777"/><stop offset="0.296" stop-color="#3ba87e"/><stop offset="0.304" stop-color="#309a83"/><stop offset="0.32" stop-color="#2c9585"/><stop offset="0.328" stop-color="#2d9685"/><stop offset="0.352" stop-color="#39a57f"/><stop offset="0.368" stop-color="#36a181"/><stop offset="0.4" stop-color="#268e87"/><stop offset="0.416" stop-color="#217f8a"/><stop offset="0.44" stop-color="#1d668b"/><stop offset="0.48" stop-color="#1c5085"/><stop offset="0.592" stop-color="#1c2574"/><stop offset="0.664" stop-color="#1e106a"/><stop offset="0.768" stop-color="#1f0564"/><stop offset="1" stop-color="#1f0564"/></linearGradient>
<linearGradient id="c47"><stop offset="0" stop-color="#1c4d84"/><stop offset="0.048" stop-color="#1c5c8a"/><stop offset="0.096" stop-color="#1f748a"/><stop offset="0.128" stop-color="#248b89"/><stop offset="0.152" stop-color="#339e82"/><stop offset="0.168" stop-color="#43af7b"/><stop offset="0.184" stop-color="#60be72"/><stop offset="0.192" stop-color="#79c86b"/><stop offset="0.2" stop-color="#9cd463"/><stop offset="0.208" stop-color="#bbdb5d"/><stop offset="0.216" stop-color="#e0e356"/><stop offset="0.224" stop-color="#ece654"/><stop offset="0.256" stop-color="#ece654"/><stop offset="0.264" stop-color="#bddc5c"/><stop offset="0.272" stop-color="#93d165"/><stop offset="0.28" stop-color="#67c170"/><stop offset="0.288" stop-color="#4cb479"/><stop offset="0.296" stop-color="#37a380"/><stop offset="0.304" stop-color="#2d9785"/><stop offset="0.32" stop-color="#289087"/><stop offset="0.328" stop-color="#289087"/><stop offset="0.352" stop-color="#339e82"/><stop offset="0.368" stop-color="#329d82"/><stop offset="0.4" stop-color="#258c88"/><stop offset="0.44" stop-color="#1d648b"/><stop offset="0.48" stop-color="#1c4e85"/><stop offset="0.584" stop-color="#1c2775"/><stop offset="0.664" stop-color="#1e1069"/><stop offset="0.768" stop-color="#1f0564"/><stop offset="1" stop-color="#1f0564"/></linearGradient>
<linearGradient id="c48"><stop offset="0" stop-color="#1c4d84"/><stop offset="0.048" stop-color="#1c5c89"/><stop offset="0.096" stop-color="#1f738a"/><stop offset="0.128" stop-color="#238a89"/><stop offset="0.152" stop-color="#319c83"/><stop offset="0.168" stop-color="#40ad7c"/><stop offset="0.184" stop-color="#5dbc73"/><stop offset="0.192" stop-color="#73c66d"/><stop offset="0.2" stop-color="#96d264"/><stop offset="0.216" stop-color="#d6e158"/><stop offset="0.224" stop-color="#ece654"/><stop offset="0.248" stop-color="#ece654"/><stop offset="0.256" stop-color="#e7e555"/><stop offset="0.272" stop-color="#8ccf67"/><stop offset="0.28" stop-color="#61be72"/><stop offset="0.288" stop-color="#47b07a"/><stop offset="0.296" stop-color="#339f82"/><stop offset="0.304" stop-color="#2b9485"/><stop offset="0.32" stop-color="#258d88"/><stop offset="0.336" stop-color="#268d88"/><stop offset="0.352" stop-color="#2d9785"/><stop offset="0.368" stop-color="#2f9984"/><stop offset="0.392" stop-color="#278f87"/><stop offset="0.408" stop-color="#218189"/><stop offset="0.432" stop-color="#1d678b"/><stop offset="0.456" stop-color="#1c5788"/><stop offset="0.52" stop-color="#1b3d7f"/><stop offset="0.624" stop-color="#1d196e"/><stop offset="0.68" stop-color="#1e0d68"/><stop offset="0.784" stop-color="#1f0564"/><stop offset="1" stop-color="#1f0564"/></linearGradient>
<linearGradient id="c49"><stop offset="0" stop-color="#1c4d84"/><stop offset="0.048" stop-color="#1c5b89"/><stop offset="0.096" stop-color="#1f728a"/><stop offset="0.128" stop-color="#238989"/><stop offset="0.16" stop-color="#37a380"/><stop offset="0.168" stop-color="#3eac7d"/><stop offset="0.184" stop-color="#5abb74"/><stop offset="0.192" stop-color="#6dc46f"/><stop offset="0.208" stop-color="#afd95f"/><stop offset="0.224" stop-color="#ece654"/><stop offset="0.248" stop-color="#ece654"/><stop offset="0.256" stop-color="#e2e456"/><stop offset="0.264" stop-color="#b6da5e"/><stop offset="0.272" stop-color="#87cd68"/><stop offset="0.28" stop-color="#5cbc74"/><stop offset="0.288" stop-color="#41ae7c"/><stop offset="0.296" stop-color="#319c83"/><stop offset="0.304" stop-color="#2a9386"/><stop offset="0.32" stop-color="#238a89"/><stop offset="0.336" stop-color="#238889"/><stop offset="0.368" stop-color="#2c9585"/><stop offset="0.384" stop-color="#289087"/><stop offset="0.4" stop-color="#228489"/><stop offset="0.432" stop-color="#1d638b"/><stop offset="0.464" stop-color="#1c5186"/><stop offset="0.584" stop-color="#1c2574"/><stop offset="0.664" stop-color="#1e0f69"/><stop offset="0.776" stop-color="#1f0564"/><stop offset="1" stop-color="#1f0564"/></linearGradient>
<linearGradient id="c50"><stop offset="0" stop-color="#1c4d84"/><stop offset="0.048" stop-color="#1c5b89"/><stop offset="0.096" stop-color="#1f718a"/><stop offset="0.128" stop-color="#238889"/><stop offset="0.152" stop-color="#309a83"/><stop offset="0.168" stop-color="#3dab7d"/><stop offset="0.184" stop-color="#58ba75"/><stop offset="0.192" stop-color="#69c270"/><stop offset="0.208" stop-color="#abd85f"/><stop offset="0.216" stop-color="#cadf5a"/><stop offset="0.224" stop-color="#ece654"/><stop offset="0.248" stop-color="#ece654"/><stop offset="0.256" stop-color="#dde357"/><stop offset="0.264" stop-color="#b4da5e"/><stop offset="0.272" stop-color="#82cb69"/><stop offset="0.28" stop-color="#58ba75"/><stop offset="0.288" stop-color="#3dab7d"/><stop offset="0.296" stop-color="#309b83"/><stop offset="0.312" stop-color="#258d88"/><stop offset="0.336" stop-color="#228689"/><stop offset="0.344" stop-color="#228689"/><stop offset="0.36" stop-color="#278f87"/><stop offset="0.368" stop-color="#2a9286"/><stop offset="0.376" stop-color="#299286"/><stop offset="0.392" stop-color="#228689"/><stop offset="0.432" stop-color="#1c608b"/><stop offset="0.48" stop-color="#1b4883"/><stop offset="0.576" stop-color="#1c2775"/><stop offset="0.656" stop-color="#1e106a"/><stop offset="0.768" stop-color="#1f0564"/><stop offset="1" stop-color="#1f0564"/></linearGradient>
<clipPath id="cpc"><rect x="77.20" y="316.80" width="248.50" height="248.70"/></clipPath>
<linearGradient id="cbc" x1="0" y1="0" x2="0" y2="1"><stop offset="0.000" stop-color="#ece654"/><stop offset="0.231" stop-color="#ece654"/><stop offset="0.256" stop-color="#e4e455"/><stop offset="0.359" stop-color="#9fd562"/><stop offset="0.462" stop-color="#68c270"/><stop offset="0.564" stop-color="#40ad7c"/><stop offset="0.667" stop-color="#258d88"/><stop offset="0.718" stop-color="#207a8a"/><stop offset="0.769" stop-color="#1d668b"/><stop offset="0.795" stop-color="#1c5b89"/><stop offset="0.897" stop-color="#1b307a"/><stop offset="1.000" stop-color="#1f0363"/></linearGradient>
<linearGradient id="d0"><stop offset="0" stop-color="#1f0363"/><stop offset="0.152" stop-color="#1f0363"/><stop offset="0.16" stop-color="#1f0866"/><stop offset="0.168" stop-color="#1e116a"/><stop offset="0.176" stop-color="#1d1e71"/><stop offset="0.192" stop-color="#1b4983"/><stop offset="0.2" stop-color="#1c618b"/><stop offset="0.208" stop-color="#20788a"/><stop offset="0.216" stop-color="#248b89"/><stop offset="0.232" stop-color="#3aa77f"/><stop offset="0.248" stop-color="#54b776"/><stop offset="0.256" stop-color="#60be73"/><stop offset="0.272" stop-color="#6bc36f"/><stop offset="0.28" stop-color="#6dc46f"/><stop offset="0.296" stop-color="#65c071"/><stop offset="0.304" stop-color="#5abb74"/><stop offset="0.32" stop-color="#38a480"/><stop offset="0.328" stop-color="#2a9386"/><stop offset="0.336" stop-color="#228189"/><stop offset="0.352" stop-color="#1d658b"/><stop offset="0.376" stop-color="#1b4582"/><stop offset="0.408" stop-color="#1c2675"/><stop offset="0.44" stop-color="#1e106a"/><stop offset="0.472" stop-color="#1f0463"/><stop offset="0.496" stop-color="#1f0765"/><stop offset="0.536" stop-color="#1d1d70"/><stop offset="0.552" stop-color="#1d1e71"/><stop offset="0.592" stop-color="#1f0866"/><stop offset="0.624" stop-color="#1f0363"/><stop offset="1" stop-color="#1f0363"/></linearGradient>
<linearGradient id="d1"><stop offset="0" stop-color="#1f0363"/><stop offset="0.152" stop-color="#1f0363"/><stop offset="0.16" stop-color="#1f0765"/><stop offset="0.168" stop-color="#1e106a"/><stop offset="0.176" stop-color="#1d1d70"/><stop offset="0.192" stop-color="#1b4682"/><stop offset="0.2" stop-color="#1c5f8a"/><stop offset="0.208" stop-color="#20768a"/><stop offset="0.216" stop-color="#238989"/><stop offset="0.232" stop-color="#38a580"/><stop offset="0.248" stop-color="#51b677"/><stop offset="0.256" stop-color="#5dbc73"/><stop offset="0.272" stop-color="#67c270"/><stop offset="0.28" stop-color="#69c270"/><stop offset="0.296" stop-color="#61bf72"/><stop offset="0.304" stop-color="#56b975"/><stop offset="0.312" stop-color="#44af7b"/><stop offset="0.32" stop-color="#35a181"/><stop offset="0.328" stop-color="#289087"/><stop offset="0.336" stop-color="#217e8a"/><stop offset="0.352" stop-color="#1c638b"/><stop offset="0.376" stop-color="#1b4381"/><stop offset="0.408" stop-color="#1c2574"/><stop offset="0.44" stop-color="#1e0f69"/><stop offset="0.464" stop-color="#1f0464"/><stop offset="0.488" stop-color="#1f0564"/><stop offset="0.512" stop-color="#1e0e68"/><stop offset="0.536" stop-color="#1d1c70"/><stop offset="0.552" stop-color="#1d1d70"/><stop offset="0.592" stop-color="#1f0866"/><stop offset="0.624" stop-color="#1f0363"/><stop offset="1" stop-color="#1f0363"/></linearGradient>
<linearGradient id="d2"><stop offset="0" stop-color="#1f0363"/><stop offset="0.152" stop-color="#1f0363"/><stop offset="0.16" stop-color="#1f0765"/><stop offset="0.168" stop-color="#1e0f69"/><stop offset="0.176" stop-color="#1d1a6f"/><stop offset="0.192" stop-color="#1b4381"/><stop offset="0.2" stop-color="#1c5b89"/><stop offset="0.208" stop-color="#1f738a"/><stop offset="0.216" stop-color="#228689"/><stop offset="0.232" stop-color="#36a280"/><stop offset="0.24" stop-color="#40ad7c"/><stop offset="0.256" stop-color="#5abb74"/><stop offset="0.272" stop-color="#64c071"/><stop offset="0.28" stop-color="#66c171"/><stop offset="0.296" stop-color="#5ebd73"/><stop offset="0.304" stop-color="#52b677"/><stop offset="0.312" stop-color="#3fad7d"/><stop offset="0.328" stop-color="#258c88"/><stop offset="0.336" stop-color="#207a8a"/><stop offset="0.352" stop-color="#1c608b"/><stop offset="0.376" stop-color="#1b4180"/><stop offset="0.408" stop-color="#1c2373"/><stop offset="0.44" stop-color="#1e0e69"/><stop offset="0.464" stop-color="#1f0463"/><stop offset="0.496" stop-color="#1f0665"/><stop offset="0.536" stop-color="#1d1b6f"/><stop offset="0.552" stop-color="#1d1c70"/><stop offset="0.592" stop-color="#1f0865"/><stop offset="0.624" stop-color="#1f0363"/><stop offset="1" stop-color="#1f0363"/></linearGradient>
<linearGradient id="d3"><stop offset="0" stop-color="#1f0363"/><stop offset="0.152" stop-color="#1f0363"/><stop offset="0.16" stop-color="#1f0664"/><stop offset="0.176" stop-color="#1d186e"/><stop offset="0.192" stop-color="#1b4180"/><stop offset="0.2" stop-color="#1c5888"/><stop offset="0.208" stop-color="#1f708a"/><stop offset="0.216" stop-color="#228489"/><stop offset="0.232" stop-color="#34a081"/><stop offset="0.24" stop-color="#3dab7d"/><stop offset="0.256" stop-color="#57b975"/><stop offset="0.272" stop-color="#61be72"/><stop offset="0.28" stop-color="#62bf72"/><stop offset="0.296" stop-color="#5abb74"/><stop offset="0.304" stop-color="#4db478"/><stop offset="0.312" stop-color="#3ca97e"/><stop offset="0.328" stop-color="#238889"/><stop offset="0.336" stop-color="#20768a"/><stop offset="0.352" stop-color="#1c5c8a"/><stop offset="0.376" stop-color="#1b3e7f"/><stop offset="0.408" stop-color="#1c2172"/><stop offset="0.44" stop-color="#1e0d68"/><stop offset="0.464" stop-color="#1f0363"/><stop offset="0.496" stop-color="#1f0665"/><stop offset="0.536" stop-color="#1d1a6f"/><stop offset="0.552" stop-color="#1d1b6f"/><stop offset="0.592" stop-color="#1f0865"/><stop offset="0.624" stop-color="#1f0363"/><stop offset="1" stop-color="#1f0363"/></linearGradient>
<linearGradient id="d4"><stop offset="0" stop-color="#1f0363"/><stop offset="0.152" stop-color="#1f0363"/><stop offset="0.16" stop-color="#1f0564"/><stop offset="0.176" stop-color="#1d176d"/><stop offset="0.184" stop-color="#1c2976"/><stop offset="0.2" stop-color="#1c5587"/><stop offset="0.208" stop-color="#1e6d8a"/><stop offset="0.216" stop-color="#218189"/><stop offset="0.224" stop-color="#289187"/><stop offset="0.24" stop-color="#3ba97e"/><stop offset="0.256" stop-color="#53b776"/><stop offset="0.272" stop-color="#5dbc73"/><stop offset="0.28" stop-color="#5ebd73"/><stop offset="0.296" stop-color="#56b976"/><stop offset="0.304" stop-color="#49b27a"/><stop offset="0.312" stop-color="#39a57f"/><stop offset="0.328" stop-color="#228489"/><stop offset="0.336" stop-color="#1f728a"/><stop offset="0.352" stop-color="#1c5989"/><stop offset="0.376" stop-color="#1b3b7e"/><stop offset="0.408" stop-color="#1d1f71"/><stop offset="0.44" stop-color="#1e0b67"/><stop offset="0.464" stop-color="#1f0363"/><stop offset="0.496" stop-color="#1f0665"/><stop offset="0.544" stop-color="#1d1a6f"/><stop offset="0.56" stop-color="#1d176d"/><stop offset="0.592" stop-color="#1f0765"/><stop offset="0.632" stop-color="#1f0363"/><stop offset="1" stop-color="#1f0363"/></linearGradient>
<linearGradient id="d5"><stop offset="0" stop-color="#1f0363"/><stop offset="0.16" stop-color="#1f0464"/><stop offset="0.176" stop-color="#1d156c"/><stop offset="0.184" stop-color="#1c2675"/><stop offset="0.2" stop-color="#1c5286"/><stop offset="0.208" stop-color="#1e6a8b"/><stop offset="0.216" stop-color="#217e8a"/><stop offset="0.224" stop-color="#268e88"/><stop offset="0.24" stop-color="#39a67f"/><stop offset="0.248" stop-color="#45af7b"/><stop offset="0.256" stop-color="#50b577"/><stop offset="0.272" stop-color="#5abb74"/><stop offset="0.28" stop-color="#5bbb74"/><stop offset="0.296" stop-color="#52b677"/><stop offset="0.304" stop-color="#44af7b"/><stop offset="0.32" stop-color="#2a9286"/><stop offset="0.328" stop-color="#218089"/><stop offset="0.336" stop-color="#1e6f8a"/><stop offset="0.344" stop-color="#1c628b"/><stop offset="0.368" stop-color="#1b4280"/><stop offset="0.4" stop-color="#1c2373"/><stop offset="0.432" stop-color="#1e0e69"/><stop offset="0.456" stop-color="#1f0463"/><stop offset="0.496" stop-color="#1f0665"/><stop offset="0.544" stop-color="#1d196e"/><stop offset="0.56" stop-color="#1d166d"/><stop offset="0.592" stop-color="#1f0765"/><stop offset="0.632" stop-color="#1f0363"/><stop offset="1" stop-color="#1f0363"/></linearGradient>
<linearGradient id="d6"><stop offset="0" stop-color="#1f0363"/><stop offset="0.16" stop-color="#1f0463"/><stop offset="0.176" stop-color="#1e136b"/><stop offset="0.184" stop-color="#1c2374"/><stop offset="0.2" stop-color="#1c4f85"/><stop offset="0.208" stop-color="#1d678b"/><stop offset="0.216" stop-color="#207b8a"/><stop offset="0.224" stop-color="#248c88"/><stop offset="0.248" stop-color="#41ae7c"/><stop offset="0.256" stop-color="#4db478"/><stop offset="0.272" stop-color="#56b975"/><stop offset="0.28" stop-color="#57b975"/><stop offset="0.296" stop-color="#4eb478"/><stop offset="0.304" stop-color="#40ad7d"/><stop offset="0.32" stop-color="#278e87"/><stop offset="0.328" stop-color="#217b8a"/><stop offset="0.336" stop-color="#1e6b8a"/><stop offset="0.344" stop-color="#1c5e8a"/><stop offset="0.368" stop-color="#1b3f7f"/><stop offset="0.4" stop-color="#1c2172"/><stop offset="0.432" stop-color="#1e0d68"/><stop offset="0.456" stop-color="#1f0363"/><stop offset="0.496" stop-color="#1f0664"/><stop offset="0.544" stop-color="#1d186e"/><stop offset="0.56" stop-color="#1d156c"/><stop offset="0.592" stop-color="#1f0765"/><stop offset="0.632" stop-color="#1f0363"/><stop offset="1" stop-color="#1f0363"/></linearGradient>
<linearGradient id="d7"><stop offset="0" stop-color="#1f0363"/><stop offset="0.16" stop-color="#1f0363"/><stop offset="0.168" stop-color="#1e0966"/><stop offset="0.176" stop-color="#1e126b"/><stop offset="0.184" stop-color="#1c2172"/><stop offset="0.2" stop-color="#1c4c84"/><stop offset="0.208" stop-color="#1d648b"/><stop offset="0.224" stop-color="#238989"/><stop offset="0.248" stop-color="#3eac7d"/><stop offset="0.256" stop-color="#49b279"/><stop offset="0.272" stop-color="#53b777"/><stop offset="0.28" stop-color="#53b776"/><stop offset="0.296" stop-color="#4ab279"/><stop offset="0.304" stop-color="#3ca97e"/><stop offset="0.32" stop-color="#248b89"/><stop offset="0.328" stop-color="#20778a"/><stop offset="0.344" stop-color="#1c5b89"/><stop offset="0.368" stop-color="#1b3c7f"/><stop offset="0.4" stop-color="#1d1f71"/><stop offset="0.432" stop-color="#1e0c67"/><stop offset="0.456" stop-color="#1f0363"/><stop offset="0.496" stop-color="#1f0664"/><stop offset="0.544" stop-color="#1d176d"/><stop offset="0.56" stop-color="#1e146c"/><stop offset="0.592" stop-color="#1f0765"/><stop offset="0.64" stop-color="#1f0363"/><stop offset="1" stop-color="#1f0363"/></linearGradient>
<linearGradient id="d8"><stop offset="0" stop-color="#1f0363"/><stop offset="0.16" stop-color="#1f0363"/><stop offset="0.168" stop-color="#1f0866"/><stop offset="0.176" stop-color="#1e116a"/><stop offset="0.184" stop-color="#1d1f71"/><stop offset="0.2" stop-color="#1b4883"/><stop offset="0.208" stop-color="#1c618b"/><stop offset="0.224" stop-color="#228689"/><stop offset="0.248" stop-color="#3ca97e"/><stop offset="0.256" stop-color="#46b07b"/><stop offset="0.272" stop-color="#4fb578"/><stop offset="0.28" stop-color="#50b578"/><stop offset="0.296" stop-color="#46b07b"/><stop offset="0.304" stop-color="#39a67f"/><stop offset="0.32" stop-color="#228689"/><stop offset="0.328" stop-color="#1f738a"/><stop offset="0.336" stop-color="#1d648b"/><stop offset="0.36" stop-color="#1b4281"/><stop offset="0.392" stop-color="#1c2374"/><stop offset="0.424" stop-color="#1e0e69"/><stop offset="0.448" stop-color="#1f0464"/><stop offset="0.496" stop-color="#1f0664"/><stop offset="0.544" stop-color="#1d166d"/><stop offset="0.568" stop-color="#1e106a"/><stop offset="0.6" stop-color="#1f0564"/><stop offset="0.84" stop-color="#1f0363"/><stop offset="1" stop-color="#1f0363"/></linearGradient>
<linearGradient id="d9"><stop offset="0" stop-color="#1f0363"/><stop offset="0.16" stop-color="#1f0363"/><stop offset="0.168" stop-color="#1f0765"/><stop offset="0.176" stop-color="#1e0f69"/><stop offset="0.184" stop-color="#1d1c70"/><stop offset="0.2" stop-color="#1b4582"/><stop offset="0.208" stop-color="#1c5d8a"/><stop offset="0.216" stop-color="#1f728a"/><stop offset="0.224" stop-color="#228389"/><stop offset="0.24" stop-color="#319c83"/><stop offset="0.256" stop-color="#43ae7c"/><stop offset="0.272" stop-color="#4cb379"/><stop offset="0.28" stop-color="#4cb379"/><stop offset="0.288" stop-color="#48b17a"/><stop offset="0.296" stop-color="#41ae7c"/><stop offset="0.312" stop-color="#2a9386"/><stop offset="0.32" stop-color="#228289"/><stop offset="0.328" stop-color="#1e6f8a"/><stop offset="0.336" stop-color="#1c618b"/><stop offset="0.36" stop-color="#1b4080"/><stop offset="0.392" stop-color="#1c2173"/><stop offset="0.424" stop-color="#1e0d68"/><stop offset="0.448" stop-color="#1f0363"/><stop offset="0.496" stop-color="#1f0564"/><stop offset="0.544" stop-color="#1d156c"/><stop offset="0.568" stop-color="#1e0f69"/><stop offset="0.6" stop-color="#1f0564"/><stop offset="0.968" stop-color="#1f0363"/><stop offset="1" stop-color="#1f0363"/></linearGradient>
<linearGradient id="d10"><stop offset="0" stop-color="#1f0363"/><stop offset="0.16" stop-color="#1f0363"/><stop offset="0.168" stop-color="#1f0665"/><stop offset="0.176" stop-color="#1e0e69"/><stop offset="0.184" stop-color="#1d1a6f"/><stop offset="0.2" stop-color="#1b4381"/><stop offset="0.208" stop-color="#1c5a89"/><stop offset="0.216" stop-color="#1f6f8a"/><stop offset="0.232" stop-color="#278e87"/><stop offset="0.256" stop-color="#3fad7d"/><stop offset="0.272" stop-color="#48b17a"/><stop offset="0.28" stop-color="#48b17a"/><stop offset="0.288" stop-color="#45af7b"/><stop offset="0.296" stop-color="#3dab7d"/><stop offset="0.312" stop-color="#279087"/><stop offset="0.32" stop-color="#217d8a"/><stop offset="0.328" stop-color="#1e6b8a"/><stop offset="0.336" stop-color="#1c5d8a"/><stop offset="0.36" stop-color="#1b3d7f"/><stop offset="0.392" stop-color="#1d2072"/><stop offset="0.424" stop-color="#1e0c67"/><stop offset="0.448" stop-color="#1f0363"/><stop offset="0.496" stop-color="#1f0564"/><stop offset="0.544" stop-color="#1e146c"/><stop offset="0.568" stop-color="#1e0f69"/><stop offset="0.6" stop-color="#1f0564"/><stop offset="1" stop-color="#1f0363"/></linearGradient>
<linearGradient id="d11"><stop offset="0" stop-color="#1f0363"/><stop offset="0.16" stop-color="#1f0363"/><stop offset="0.168" stop-color="#1f0564"/><stop offset="0.176" stop-color="#1e0d68"/><stop offset="0.184" stop-color="#1d186e"/><stop offset="0.2" stop-color="#1b4080"/><stop offset="0.208" stop-color="#1c5788"/><stop offset="0.216" stop-color="#1e6c8a"/><stop offset="0.232" stop-color="#258c88"/><stop offset="0.256" stop-color="#3dab7d"/><stop offset="0.272" stop-color="#45b07b"/><stop offset="0.28" stop-color="#45b07b"/><stop offset="0.288" stop-color="#41ae7c"/><stop offset="0.296" stop-color="#3ba87e"/><stop offset="0.312" stop-color="#258c88"/><stop offset="0.328" stop-color="#1d678b"/><stop offset="0.352" stop-color="#1b4381"/><stop offset="0.384" stop-color="#1c2474"/><stop offset="0.416" stop-color="#1e0e69"/><stop offset="0.44" stop-color="#1f0464"/><stop offset="0.496" stop-color="#1f0564"/><stop offset="0.544" stop-color="#1e136b"/><stop offset="0.568" stop-color="#1e0e69"/><stop offset="0.6" stop-color="#1f0564"/><stop offset="1" stop-color="#1f0363"/></linearGradient>
<linearGradient id="d12"><stop offset="0" stop-color="#1f0363"/><stop offset="0.168" stop-color="#1f0564"/><stop offset="0.176" stop-color="#1e0c67"/><stop offset="0.184" stop-color="#1d166d"/><stop offset="0.2" stop-color="#1b3d7f"/><stop offset="0.208" stop-color="#1c5487"/><stop offset="0.216" stop-color="#1e6a8b"/><stop offset="0.232" stop-color="#238a89"/><stop offset="0.256" stop-color="#3ba87e"/><stop offset="0.272" stop-color="#42ae7c"/><stop offset="0.28" stop-color="#41ae7c"/><stop offset="0.288" stop-color="#3eab7d"/><stop offset="0.296" stop-color="#38a580"/><stop offset="0.312" stop-color="#238889"/><stop offset="0.328" stop-color="#1d648b"/><stop offset="0.344" stop-color="#1c4b84"/><stop offset="0.368" stop-color="#1b307a"/><stop offset="0.4" stop-color="#1d166d"/><stop offset="0.432" stop-color="#1f0664"/><stop offset="0.456" stop-color="#1f0363"/><stop offset="0.504" stop-color="#1f0765"/><stop offset="0.544" stop-color="#1e126b"/><stop offset="0.608" stop-color="#1f0463"/><stop offset="1" stop-color="#1f0363"/></linearGradient>
<linearGradient id="d13"><stop offset="0" stop-color="#1f0363"/><stop offset="0.168" stop-color="#1f0464"/><stop offset="0.176" stop-color="#1e0b67"/><stop offset="0.184" stop-color="#1e146c"/><stop offset="0.2" stop-color="#1b3a7e"/><stop offset="0.216" stop-color="#1d678b"/><stop offset="0.232" stop-color="#228789"/><stop offset="0.256" stop-color="#39a67f"/><stop offset="0.272" stop-color="#3eac7d"/><stop offset="0.28" stop-color="#3eac7d"/><stop offset="0.288" stop-color="#3ba97e"/><stop offset="0.296" stop-color="#35a181"/><stop offset="0.312" stop-color="#228489"/><stop offset="0.32" stop-color="#1f708a"/><stop offset="0.328" stop-color="#1c608b"/><stop offset="0.344" stop-color="#1b4883"/><stop offset="0.368" stop-color="#1b2d79"/><stop offset="0.4" stop-color="#1e156c"/><stop offset="0.432" stop-color="#1f0564"/><stop offset="0.472" stop-color="#1f0363"/><stop offset="0.512" stop-color="#1f0966"/><stop offset="0.544" stop-color="#1e116a"/><stop offset="0.608" stop-color="#1f0463"/><stop offset="1" stop-color="#1f0363"/></linearGradient>
<linearGradient id="d14"><stop offset="0" stop-color="#1f0363"/><stop offset="0.168" stop-color="#1f0463"/><stop offset="0.176" stop-color="#1e0966"/><stop offset="0.184" stop-color="#1e136b"/><stop offset="0.192" stop-color="#1c2374"/><stop offset="0.208" stop-color="#1c4e85"/><stop offset="0.216" stop-color="#1d648b"/><stop offset="0.232" stop-color="#228489"/><stop offset="0.248" stop-color="#309a83"/><stop offset="0.256" stop-color="#37a380"/><stop offset="0.272" stop-color="#3caa7e"/><stop offset="0.288" stop-color="#39a57f"/><stop offset="0.296" stop-color="#339e82"/><stop offset="0.304" stop-color="#289087"/><stop offset="0.32" stop-color="#1e6c8a"/><stop offset="0.328" stop-color="#1c5c8a"/><stop offset="0.344" stop-color="#1b4582"/><stop offset="0.368" stop-color="#1c2b78"/><stop offset="0.4" stop-color="#1e136b"/><stop offset="0.432" stop-color="#1f0464"/><stop offset="0.496" stop-color="#1f0564"/><stop offset="0.544" stop-color="#1e116a"/><stop offset="0.608" stop-color="#1f0463"/><stop offset="1" stop-color="#1f0363"/></linearGradient>
<linearGradient id="d15"><stop offset="0" stop-color="#1f0363"/><stop offset="0.168" stop-color="#1f0363"/><stop offset="0.176" stop-color="#1f0866"/><stop offset="0.184" stop-color="#1e116a"/><stop offset="0.192" stop-color="#1c2172"/><stop offset="0.216" stop-color="#1c618b"/><stop offset="0.232" stop-color="#228189"/><stop offset="0.24" stop-color="#268d88"/><stop offset="0.256" stop-color="#35a081"/><stop offset="0.272" stop-color="#3aa77f"/><stop offset="0.288" stop-color="#36a280"/><stop offset="0.296" stop-color="#309a83"/><stop offset="0.304" stop-color="#258c88"/><stop offset="0.32" stop-color="#1d688b"/><stop offset="0.336" stop-color="#1c4c84"/><stop offset="0.36" stop-color="#1b307a"/><stop offset="0.392" stop-color="#1d176d"/><stop offset="0.424" stop-color="#1f0665"/><stop offset="0.448" stop-color="#1f0363"/><stop offset="0.504" stop-color="#1f0665"/><stop offset="0.544" stop-color="#1e106a"/><stop offset="0.608" stop-color="#1f0463"/><stop offset="1" stop-color="#1f0363"/></linearGradient>
<linearGradient id="d16"><stop offset="0" stop-color="#1f0363"/><stop offset="0.168" stop-color="#1f0363"/><stop offset="0.176" stop-color="#1f0765"/><stop offset="0.184" stop-color="#1e1069"/><stop offset="0.192" stop-color="#1d1e71"/><stop offset="0.208" stop-color="#1b4782"/><stop offset="0.216" stop-color="#1c5e8a"/><stop offset="0.232" stop-color="#217e8a"/><stop offset="0.24" stop-color="#248b89"/><stop offset="0.256" stop-color="#329d82"/><stop offset="0.272" stop-color="#37a480"/><stop offset="0.288" stop-color="#349f82"/><stop offset="0.296" stop-color="#2d9685"/><stop offset="0.304" stop-color="#238889"/><stop offset="0.32" stop-color="#1d648b"/><stop offset="0.336" stop-color="#1c4983"/><stop offset="0.36" stop-color="#1b2e79"/><stop offset="0.392" stop-color="#1d156c"/><stop offset="0.424" stop-color="#1f0564"/><stop offset="0.464" stop-color="#1f0363"/><stop offset="0.512" stop-color="#1f0865"/><stop offset="0.544" stop-color="#1e0f69"/><stop offset="0.608" stop-color="#1f0463"/><stop offset="1" stop-color="#1f0363"/></linearGradient>
<linearGradient id="d17"><stop offset="0" stop-color="#1f0363"/><stop offset="0.168" stop-color="#1f0363"/><stop offset="0.176" stop-color="#1f0665"/><stop offset="0.184" stop-color="#1e0e69"/><stop offset="0.192" stop-color="#1d1c70"/><stop offset="0.216" stop-color="#1c5a89"/><stop offset="0.232" stop-color="#207b8a"/><stop offset="0.24" stop-color="#238889"/><stop offset="0.256" stop-color="#309a83"/><stop offset="0.272" stop-color="#35a081"/><stop offset="0.288" stop-color="#319c83"/><stop offset="0.296" stop-color="#299286"/><stop offset="0.304" stop-color="#228389"/><stop offset="0.32" stop-color="#1c5f8b"/><stop offset="0.336" stop-color="#1b4682"/><stop offset="0.36" stop-color="#1c2b78"/><stop offset="0.392" stop-color="#1e136b"/><stop offset="0.424" stop-color="#1f0464"/><stop offset="0.496" stop-color="#1f0464"/><stop offset="0.544" stop-color="#1e0e69"/><stop offset="0.608" stop-color="#1f0463"/><stop offset="1" stop-color="#1f0363"/></linearGradient>
<linearGradient id="d18"><stop offset="0" stop-color="#1f0363"/><stop offset="0.168" stop-color="#1f0363"/><stop offset="0.176" stop-color="#1f0664"/><stop offset="0.184" stop-color="#1e0d68"/><stop offset="0.192" stop-color="#1d1a6f"/><stop offset="0.216" stop-color="#1c5788"/><stop offset="0.224" stop-color="#1d688b"/><stop offset="0.24" stop-color="#228489"/><stop offset="0.256" stop-color="#2d9784"/><stop offset="0.272" stop-color="#329d82"/><stop offset="0.288" stop-color="#2e9884"/><stop offset="0.296" stop-color="#268e88"/><stop offset="0.312" stop-color="#1e6c8a"/><stop offset="0.32" stop-color="#1c5b89"/><stop offset="0.336" stop-color="#1b4281"/><stop offset="0.36" stop-color="#1c2976"/><stop offset="0.392" stop-color="#1e126a"/><stop offset="0.424" stop-color="#1f0463"/><stop offset="0.496" stop-color="#1f0464"/><stop offset="0.544" stop-color="#1e0d68"/><stop offset="0.608" stop-color="#1f0363"/><stop offset="1" stop-color="#1f0363"/></linearGradient>
<linearGradient id="d19"><stop offset="0" stop-color="#1f0363"/><stop offset="0.168" stop-color="#1f0363"/><stop offset="0.176" stop-color="#1f0564"/><stop offset="0.184" stop-color="#1e0c68"/><stop offset="0.192" stop-color="#1d176d"/><stop offset="0.208" stop-color="#1b3d7f"/><stop offset="0.216" stop-color="#1c5386"/><stop offset="0.224" stop-color="#1d658b"/><stop offset="0.248" stop-color="#248b89"/><stop offset="0.256" stop-color="#2a9386"/><stop offset="0.272" stop-color="#2f9984"/><stop offset="0.288" stop-color="#2b9486"/><stop offset="0.296" stop-color="#238989"/><stop offset="0.312" stop-color="#1d678b"/><stop offset="0.32" stop-color="#1c5688"/><stop offset="0.336" stop-color="#1b3f7f"/><stop offset="0.36" stop-color="#1c2675"/><stop offset="0.392" stop-color="#1e106a"/><stop offset="0.424" stop-color="#1f0363"/><stop offset="0.504" stop-color="#1f0564"/><stop offset="0.544" stop-color="#1e0d68"/><stop offset="0.616" stop-color="#1f0363"/><stop offset="1" stop-color="#1f0363"/></linearGradient>
<linearGradient id="d20"><stop offset="0" stop-color="#1f0363"/><stop offset="0.176" stop-color="#1f0464"/><stop offset="0.184" stop-color="#1e0b67"/><stop offset="0.192" stop-color="#1d156c"/><stop offset="0.208" stop-color="#1b3a7e"/><stop offset="0.216" stop-color="#1c4f85"/><stop offset="0.224" stop-color="#1c618b"/><stop offset="0.248" stop-color="#228789"/><stop offset="0.256" stop-color="#278f87"/><stop offset="0.272" stop-color="#2b9485"/><stop offset="0.288" stop-color="#278f87"/><stop offset="0.296" stop-color="#228389"/><stop offset="0.312" stop-color="#1c628b"/><stop offset="0.32" stop-color="#1c5186"/><stop offset="0.336" stop-color="#1b3b7e"/><stop offset="0.36" stop-color="#1c2474"/><stop offset="0.392" stop-color="#1e0e69"/><stop offset="0.424" stop-color="#1f0363"/><stop offset="0.504" stop-color="#1f0564"/><stop offset="0.544" stop-color="#1e0c68"/><stop offset="0.616" stop-color="#1f0363"/><stop offset="1" stop-color="#1f0363"/></linearGradient>
<linearGradient id="d21"><stop offset="0" stop-color="#1f0363"/><stop offset="0.176" stop-color="#1f0463"/><stop offset="0.184" stop-color="#1e0966"/><stop offset="0.192" stop-color="#1e136b"/><stop offset="0.208" stop-color="#1b367c"/><stop offset="0.224" stop-color="#1c5c8a"/><stop offset="0.24" stop-color="#20768a"/><stop offset="0.256" stop-color="#238a89"/><stop offset="0.272" stop-color="#278f87"/><stop offset="0.288" stop-color="#238989"/><stop offset="0.304" stop-color="#1e6d8a"/><stop offset="0.312" stop-color="#1c5c89"/><stop offset="0.32" stop-color="#1c4c84"/><stop offset="0.336" stop-color="#1b377d"/><stop offset="0.36" stop-color="#1c2172"/><stop offset="0.392" stop-color="#1e0d68"/><stop offset="0.416" stop-color="#1f0463"/><stop offset="0.504" stop-color="#1f0564"/><stop offset="0.544" stop-color="#1e0b67"/><stop offset="0.616" stop-color="#1f0363"/><stop offset="1" stop-color="#1f0363"/></linearGradient>
<linearGradient id="d22"><stop offset="0" stop-color="#1f0363"/><stop offset="0.176" stop-color="#1f0363"/><stop offset="0.184" stop-color="#1f0866"/><stop offset="0.192" stop-color="#1e116a"/><stop offset="0.208" stop-color="#1b317b"/><stop offset="0.224" stop-color="#1c5687"/><stop offset="0.232" stop-color="#1d648b"/><stop offset="0.248" stop-color="#207a8a"/><stop offset="0.256" stop-color="#228289"/><stop offset="0.272" stop-color="#238889"/><stop offset="0.288" stop-color="#218189"/><stop offset="0.304" stop-color="#1d658b"/><stop offset="0.32" stop-color="#1b4682"/><stop offset="0.344" stop-color="#1c2b77"/><stop offset="0.376" stop-color="#1e146b"/><stop offset="0.408" stop-color="#1f0564"/><stop offset="0.448" stop-color="#1f0363"/><stop offset="0.512" stop-color="#1f0665"/><stop offset="0.552" stop-color="#1e0b67"/><stop offset="0.616" stop-color="#1f0363"/><stop offset="1" stop-color="#1f0363"/></linearGradient>
<linearGradient id="d23"><stop offset="0" stop-color="#1f0363"/><stop offset="0.176" stop-color="#1f0363"/><stop offset="0.184" stop-color="#1f0765"/><stop offset="0.192" stop-color="#1e0e69"/><stop offset="0.208" stop-color="#1b2d78"/><stop offset="0.224" stop-color="#1c4f85"/><stop offset="0.232" stop-color="#1c5d8a"/><stop offset="0.248" stop-color="#1f728a"/><stop offset="0.256" stop-color="#207a8a"/><stop offset="0.272" stop-color="#217f8a"/><stop offset="0.288" stop-color="#20788a"/><stop offset="0.304" stop-color="#1c5d8a"/><stop offset="0.312" stop-color="#1c4d84"/><stop offset="0.328" stop-color="#1b367c"/><stop offset="0.352" stop-color="#1c2072"/><stop offset="0.392" stop-color="#1e0a67"/><stop offset="0.416" stop-color="#1f0363"/><stop offset="0.504" stop-color="#1f0564"/><stop offset="0.552" stop-color="#1e0a67"/><stop offset="0.616" stop-color="#1f0363"/><stop offset="1" stop-color="#1f0363"/></linearGradient>
<linearGradient id="d24"><stop offset="0" stop-color="#1f0363"/><stop offset="0.176" stop-color="#1f0363"/><stop offset="0.184" stop-color="#1f0665"/><stop offset="0.192" stop-color="#1e0d68"/><stop offset="0.208" stop-color="#1c2876"/><stop offset="0.224" stop-color="#1b4983"/><stop offset="0.24" stop-color="#1c618b"/><stop offset="0.256" stop-color="#1f728a"/><stop offset="0.272" stop-color="#20778a"/><stop offset="0.28" stop-color="#1f758a"/><stop offset="0.288" stop-color="#1f6f8a"/><stop offset="0.296" stop-color="#1d638b"/><stop offset="0.312" stop-color="#1b4582"/><stop offset="0.328" stop-color="#1b317b"/><stop offset="0.352" stop-color="#1d1d70"/><stop offset="0.392" stop-color="#1f0966"/><stop offset="0.416" stop-color="#1f0363"/><stop offset="0.512" stop-color="#1f0664"/><stop offset="0.552" stop-color="#1e0966"/><stop offset="0.616" stop-color="#1f0363"/><stop offset="1" stop-color="#1f0363"/></linearGradient>
<linearGradient id="d25"><stop offset="0" stop-color="#1f0363"/><stop offset="0.176" stop-color="#1f0363"/><stop offset="0.184" stop-color="#1f0564"/><stop offset="0.192" stop-color="#1e0b67"/><stop offset="0.208" stop-color="#1c2474"/><stop offset="0.224" stop-color="#1b4381"/><stop offset="0.248" stop-color="#1d638b"/><stop offset="0.256" stop-color="#1e6b8a"/><stop offset="0.272" stop-color="#1e6f8a"/><stop offset="0.28" stop-color="#1e6d8a"/><stop offset="0.288" stop-color="#1d678b"/><stop offset="0.296" stop-color="#1c5b89"/><stop offset="0.312" stop-color="#1b3f80"/><stop offset="0.328" stop-color="#1b2d78"/><stop offset="0.36" stop-color="#1d166c"/><stop offset="0.4" stop-color="#1f0564"/><stop offset="0.456" stop-color="#1f0363"/><stop offset="0.52" stop-color="#1f0765"/><stop offset="0.56" stop-color="#1f0866"/><stop offset="0.624" stop-color="#1f0363"/><stop offset="1" stop-color="#1f0363"/></linearGradient>
<linearGradient id="d26"><stop offset="0" stop-color="#1f0363"/><stop offset="0.184" stop-color="#1f0564"/><stop offset="0.192" stop-color="#1e0a67"/><stop offset="0.2" stop-color="#1e146b"/><stop offset="0.224" stop-color="#1b3e7f"/><stop offset="0.248" stop-color="#1c5c8a"/><stop offset="0.256" stop-color="#1d638b"/><stop offset="0.272" stop-color="#1d678b"/><stop offset="0.28" stop-color="#1d658b"/><stop offset="0.288" stop-color="#1c5f8b"/><stop offset="0.312" stop-color="#1b397d"/><stop offset="0.336" stop-color="#1c2273"/><stop offset="0.368" stop-color="#1e0f69"/><stop offset="0.408" stop-color="#1f0363"/><stop offset="0.512" stop-color="#1f0564"/><stop offset="0.552" stop-color="#1f0866"/><stop offset="0.624" stop-color="#1f0363"/><stop offset="1" stop-color="#1f0363"/></linearGradient>
<linearGradient id="d27"><stop offset="0" stop-color="#1f0363"/><stop offset="0.184" stop-color="#1f0464"/><stop offset="0.192" stop-color="#1f0966"/><stop offset="0.2" stop-color="#1e116a"/><stop offset="0.224" stop-color="#1b387d"/><stop offset="0.248" stop-color="#1c5587"/><stop offset="0.256" stop-color="#1c5c89"/><stop offset="0.272" stop-color="#1c5f8b"/><stop offset="0.28" stop-color="#1c5d8a"/><stop offset="0.288" stop-color="#1c5788"/><stop offset="0.312" stop-color="#1b337b"/><stop offset="0.336" stop-color="#1d1e71"/><stop offset="0.376" stop-color="#1e0a67"/><stop offset="0.408" stop-color="#1f0363"/><stop offset="0.512" stop-color="#1f0564"/><stop offset="0.56" stop-color="#1f0765"/><stop offset="0.632" stop-color="#1f0363"/><stop offset="1" stop-color="#1f0363"/></linearGradient>
<linearGradient id="d28"><stop offset="0" stop-color="#1f0363"/><stop offset="0.184" stop-color="#1f0463"/><stop offset="0.192" stop-color="#1f0865"/><stop offset="0.2" stop-color="#1e0f69"/><stop offset="0.224" stop-color="#1b347c"/><stop offset="0.248" stop-color="#1c4e85"/><stop offset="0.256" stop-color="#1c5487"/><stop offset="0.272" stop-color="#1c5888"/><stop offset="0.28" stop-color="#1c5587"/><stop offset="0.288" stop-color="#1c4f85"/><stop offset="0.312" stop-color="#1b2e79"/><stop offset="0.336" stop-color="#1d1b6f"/><stop offset="0.376" stop-color="#1e0966"/><stop offset="0.408" stop-color="#1f0363"/><stop offset="0.52" stop-color="#1f0664"/><stop offset="0.56" stop-color="#1f0765"/><stop offset="0.64" stop-color="#1f0363"/><stop offset="1" stop-color="#1f0363"/></linearGradient>
<linearGradient id="d29"><stop offset="0" stop-color="#1f0363"/><stop offset="0.184" stop-color="#1f0363"/><stop offset="0.2" stop-color="#1e0d68"/><stop offset="0.232" stop-color="#1b397d"/><stop offset="0.256" stop-color="#1c4e85"/><stop offset="0.272" stop-color="#1c5186"/><stop offset="0.28" stop-color="#1c4f85"/><stop offset="0.288" stop-color="#1b4883"/><stop offset="0.312" stop-color="#1c2a77"/><stop offset="0.336" stop-color="#1d196e"/><stop offset="0.376" stop-color="#1f0866"/><stop offset="0.408" stop-color="#1f0363"/><stop offset="0.52" stop-color="#1f0564"/><stop offset="0.568" stop-color="#1f0664"/><stop offset="0.672" stop-color="#1f0363"/><stop offset="1" stop-color="#1f0363"/></linearGradient>
<linearGradient id="d30"><stop offset="0" stop-color="#1f0363"/><stop offset="0.184" stop-color="#1f0363"/><stop offset="0.2" stop-color="#1e0b67"/><stop offset="0.232" stop-color="#1b347c"/><stop offset="0.256" stop-color="#1b4883"/><stop offset="0.272" stop-color="#1c4a83"/><stop offset="0.28" stop-color="#1b4883"/><stop offset="0.288" stop-color="#1b4281"/><stop offset="0.312" stop-color="#1c2675"/><stop offset="0.344" stop-color="#1e126b"/><stop offset="0.384" stop-color="#1f0564"/><stop offset="0.432" stop-color="#1f0363"/><stop offset="0.56" stop-color="#1f0665"/><stop offset="0.656" stop-color="#1f0363"/><stop offset="1" stop-color="#1f0363"/></linearGradient>
<linearGradient id="d31"><stop offset="0" stop-color="#1f0363"/><stop offset="0.184" stop-color="#1f0363"/><stop offset="0.2" stop-color="#1e0a67"/><stop offset="0.232" stop-color="#1b2f7a"/><stop offset="0.256" stop-color="#1b4281"/><stop offset="0.272" stop-color="#1b4481"/><stop offset="0.28" stop-color="#1b4281"/><stop offset="0.296" stop-color="#1b337b"/><stop offset="0.312" stop-color="#1c2273"/><stop offset="0.344" stop-color="#1e106a"/><stop offset="0.392" stop-color="#1f0363"/><stop offset="0.568" stop-color="#1f0564"/><stop offset="0.736" stop-color="#1f0363"/><stop offset="1" stop-color="#1f0363"/></linearGradient>
<linearGradient id="d32"><stop offset="0" stop-color="#1f0363"/><stop offset="0.184" stop-color="#1f0363"/><stop offset="0.2" stop-color="#1f0966"/><stop offset="0.232" stop-color="#1c2b78"/><stop offset="0.256" stop-color="#1b3c7f"/><stop offset="0.272" stop-color="#1b3e7f"/><stop offset="0.28" stop-color="#1b3c7f"/><stop offset="0.312" stop-color="#1d1e71"/><stop offset="0.344" stop-color="#1e0e69"/><stop offset="0.392" stop-color="#1f0363"/><stop offset="0.568" stop-color="#1f0564"/><stop offset="0.832" stop-color="#1f0363"/><stop offset="1" stop-color="#1f0363"/></linearGradient>
<linearGradient id="d33"><stop offset="0" stop-color="#1f0363"/><stop offset="0.192" stop-color="#1f0464"/><stop offset="0.2" stop-color="#1f0865"/><stop offset="0.232" stop-color="#1c2775"/><stop offset="0.256" stop-color="#1b377d"/><stop offset="0.272" stop-color="#1b397d"/><stop offset="0.28" stop-color="#1b377d"/><stop offset="0.312" stop-color="#1d1b6f"/><stop offset="0.352" stop-color="#1e0a67"/><stop offset="0.392" stop-color="#1f0363"/><stop offset="0.576" stop-color="#1f0464"/><stop offset="1" stop-color="#1f0363"/></linearGradient>
<linearGradient id="d34"><stop offset="0" stop-color="#1f0363"/><stop offset="0.192" stop-color="#1f0463"/><stop offset="0.208" stop-color="#1e0d68"/><stop offset="0.232" stop-color="#1c2373"/><stop offset="0.256" stop-color="#1b327b"/><stop offset="0.272" stop-color="#1b337b"/><stop offset="0.28" stop-color="#1b317b"/><stop offset="0.312" stop-color="#1d186e"/><stop offset="0.352" stop-color="#1e0966"/><stop offset="0.392" stop-color="#1f0363"/><stop offset="0.576" stop-color="#1f0464"/><stop offset="1" stop-color="#1f0363"/></linearGradient>
<linearGradient id="d35"><stop offset="0" stop-color="#1f0363"/><stop offset="0.192" stop-color="#1f0363"/><stop offset="0.208" stop-color="#1e0b67"/><stop offset="0.24" stop-color="#1c2574"/><stop offset="0.256" stop-color="#1b2d78"/><stop offset="0.272" stop-color="#1b2e79"/><stop offset="0.28" stop-color="#1b2c78"/><stop offset="0.312" stop-color="#1d156c"/><stop offset="0.36" stop-color="#1f0665"/><stop offset="0.4" stop-color="#1f0363"/><stop offset="0.584" stop-color="#1f0463"/><stop offset="1" stop-color="#1f0363"/></linearGradient>
<linearGradient id="d36"><stop offset="0" stop-color="#1f0363"/><stop offset="0.192" stop-color="#1f0363"/><stop offset="0.208" stop-color="#1e0a66"/><stop offset="0.24" stop-color="#1c2172"/><stop offset="0.256" stop-color="#1c2876"/><stop offset="0.28" stop-color="#1c2775"/><stop offset="0.312" stop-color="#1e136b"/><stop offset="0.36" stop-color="#1f0664"/><stop offset="0.416" stop-color="#1f0363"/><stop offset="0.6" stop-color="#1f0363"/><stop offset="1" stop-color="#1f0363"/></linearGradient>
<linearGradient id="d37"><stop offset="0" stop-color="#1f0363"/><stop offset="0.192" stop-color="#1f0363"/><stop offset="0.208" stop-color="#1f0866"/><stop offset="0.24" stop-color="#1d1d70"/><stop offset="0.264" stop-color="#1c2474"/><stop offset="0.28" stop-color="#1c2273"/><stop offset="0.312" stop-color="#1e106a"/><stop offset="0.36" stop-color="#1f0564"/><stop offset="0.456" stop-color="#1f0363"/><stop offset="1" stop-color="#1f0363"/></linearGradient>
<linearGradient id="d38"><stop offset="0" stop-color="#1f0363"/><stop offset="0.2" stop-color="#1f0464"/><stop offset="0.248" stop-color="#1d1c70"/><stop offset="0.272" stop-color="#1d1f71"/><stop offset="0.32" stop-color="#1e0c67"/><stop offset="0.376" stop-color="#1f0363"/><stop offset="1" stop-color="#1f0363"/></linearGradient>
<linearGradient id="d39"><stop offset="0" stop-color="#1f0363"/><stop offset="0.2" stop-color="#1f0463"/><stop offset="0.256" stop-color="#1d1a6f"/><stop offset="0.28" stop-color="#1d186e"/><stop offset="0.312" stop-color="#1e0c67"/><stop offset="0.376" stop-color="#1f0363"/><stop offset="1" stop-color="#1f0363"/></linearGradient>
<linearGradient id="d40"><stop offset="0" stop-color="#1f0363"/><stop offset="0.2" stop-color="#1f0463"/><stop offset="0.256" stop-color="#1d156c"/><stop offset="0.28" stop-color="#1e146c"/><stop offset="0.32" stop-color="#1f0866"/><stop offset="0.392" stop-color="#1f0363"/><stop offset="1" stop-color="#1f0363"/></linearGradient>
<linearGradient id="d41"><stop offset="0" stop-color="#1f0363"/><stop offset="0.208" stop-color="#1f0464"/><stop offset="0.256" stop-color="#1e116a"/><stop offset="0.28" stop-color="#1e1069"/><stop offset="0.32" stop-color="#1f0765"/><stop offset="0.4" stop-color="#1f0363"/><stop offset="1" stop-color="#1f0363"/></linearGradient>
<linearGradient id="d42"><stop offset="0" stop-color="#1f0363"/><stop offset="0.208" stop-color="#1f0463"/><stop offset="0.264" stop-color="#1e0d68"/><stop offset="0.344" stop-color="#1f0463"/><stop offset="1" stop-color="#1f0363"/></linearGradient>
<linearGradient id="d43"><stop offset="0" stop-color="#1f0363"/><stop offset="0.216" stop-color="#1f0564"/><stop offset="0.264" stop-color="#1e0a67"/><stop offset="0.36" stop-color="#1f0363"/><stop offset="1" stop-color="#1f0363"/></linearGradient>
<linearGradient id="d44"><stop offset="0" stop-color="#1f0363"/><stop offset="0.216" stop-color="#1f0464"/><stop offset="0.272" stop-color="#1f0866"/><stop offset="0.368" stop-color="#1f0363"/><stop offset="1" stop-color="#1f0363"/></linearGradient>
<linearGradient id="d45"><stop offset="0" stop-color="#1f0363"/><stop offset="0.224" stop-color="#1f0564"/><stop offset="0.28" stop-color="#1f0665"/><stop offset="0.416" stop-color="#1f0363"/><stop offset="1" stop-color="#1f0363"/></linearGradient>
<linearGradient id="d46"><stop offset="0" stop-color="#1f0363"/><stop offset="0.296" stop-color="#1f0464"/><stop offset="1" stop-color="#1f0363"/></linearGradient>
<linearGradient id="d47"><stop offset="0" stop-color="#1f0363"/><stop offset="0.592" stop-color="#1f0363"/><stop offset="1" stop-color="#1f0363"/></linearGradient>
<linearGradient id="d48"><stop offset="0" stop-color="#1f0363"/><stop offset="1" stop-color="#1f0363"/></linearGradient>
<linearGradient id="d49"><stop offset="0" stop-color="#1f0363"/><stop offset="1" stop-color="#1f0363"/></linearGradient>
<linearGradient id="d50"><stop offset="0" stop-color="#1f0363"/><stop offset="1" stop-color="#1f0363"/></linearGradient>
<clipPath id="cpd"><rect x="496.10" y="316.80" width="248.10" height="248.70"/></clipPath>
<linearGradient id="cbd" x1="0" y1="0" x2="0" y2="1"><stop offset="0.000" stop-color="#72c66d"/><stop offset="0.051" stop-color="#64c071"/><stop offset="0.231" stop-color="#3eac7d"/><stop offset="0.410" stop-color="#248c88"/><stop offset="0.615" stop-color="#1c608b"/><stop offset="0.821" stop-color="#1b2f79"/><stop offset="1.000" stop-color="#1f0363"/></linearGradient></defs>
<rect width="830" height="638" fill="#fff"/>
<g clip-path="url(#cpa)"><rect x="77.30" y="15" width="249.70" height="5" fill="url(#a0)"/><rect x="77.30" y="15" width="249.70" height="5" fill="url(#a1)" mask="url(#vm)"/><rect x="77.30" y="20" width="249.70" height="5" fill="url(#a1)"/><rect x="77.30" y="20" width="249.70" height="5" fill="url(#a2)" mask="url(#vm)"/><rect x="77.30" y="25" width="249.70" height="5" fill="url(#a2)"/><rect x="77.30" y="25" width="249.70" height="5" fill="url(#a3)" mask="url(#vm)"/><rect x="77.30" y="30" width="249.70" height="5" fill="url(#a3)"/><rect x="77.30" y="30" width="249.70" height="5" fill="url(#a4)" mask="url(#vm)"/><rect x="77.30" y="35" width="249.70" height="5" fill="url(#a4)"/><rect x="77.30" y="35" width="249.70" height="5" fill="url(#a5)" mask="url(#vm)"/><rect x="77.30" y="40" width="249.70" height="5" fill="url(#a5)"/><rect x="77.30" y="40" width="249.70" height="5" fill="url(#a6)" mask="url(#vm)"/><rect x="77.30" y="45" width="249.70" height="5" fill="url(#a6)"/><rect x="77.30" y="45" width="249.70" height="5" fill="url(#a7)" mask="url(#vm)"/><rect x="77.30" y="50" width="249.70" height="5" fill="url(#a7)"/><rect x="77.30" y="50" width="249.70" height="5" fill="url(#a8)" mask="url(#vm)"/><rect x="77.30" y="55" width="249.70" height="5" fill="url(#a8)"/><rect x="77.30" y="55" width="249.70" height="5" fill="url(#a9)" mask="url(#vm)"/><rect x="77.30" y="60" width="249.70" height="5" fill="url(#a9)"/><rect x="77.30" y="60" width="249.70" height="5" fill="url(#a10)" mask="url(#vm)"/><rect x="77.30" y="65" width="249.70" height="5" fill="url(#a10)"/><rect x="77.30" y="65" width="249.70" height="5" fill="url(#a11)" mask="url(#vm)"/><rect x="77.30" y="70" width="249.70" height="5" fill="url(#a11)"/><rect x="77.30" y="70" width="249.70" height="5" fill="url(#a12)" mask="url(#vm)"/><rect x="77.30" y="75" width="249.70" height="5" fill="url(#a12)"/><rect x="77.30" y="75" width="249.70" height="5" fill="url(#a13)" mask="url(#vm)"/><rect x="77.30" y="80" width="249.70" height="5" fill="url(#a13)"/><rect x="77.30" y="80" width="249.70" height="5" fill="url(#a14)" mask="url(#vm)"/><rect x="77.30" y="85" width="249.70" height="5" fill="url(#a14)"/><rect x="77.30" y="85" width="249.70" height="5" fill="url(#a15)" mask="url(#vm)"/><rect x="77.30" y="90" width="249.70" height="5" fill="url(#a15)"/><rect x="77.30" y="90" width="249.70" height="5" fill="url(#a16)" mask="url(#vm)"/><rect x="77.30" y="95" width="249.70" height="5" fill="url(#a16)"/><rect x="77.30" y="95" width="249.70" height="5" fill="url(#a17)" mask="url(#vm)"/><rect x="77.30" y="100" width="249.70" height="5" fill="url(#a17)"/><rect x="77.30" y="100" width="249.70" height="5" fill="url(#a18)" mask="url(#vm)"/><rect x="77.30" y="105" width="249.70" height="5" fill="url(#a18)"/><rect x="77.30" y="105" width="249.70" height="5" fill="url(#a19)" mask="url(#vm)"/><rect x="77.30" y="110" width="249.70" height="5" fill="url(#a19)"/><rect x="77.30" y="110" width="249.70" height="5" fill="url(#a20)" mask="url(#vm)"/><rect x="77.30" y="115" width="249.70" height="5" fill="url(#a20)"/><rect x="77.30" y="115" width="249.70" height="5" fill="url(#a21)" mask="url(#vm)"/><rect x="77.30" y="120" width="249.70" height="5" fill="url(#a21)"/><rect x="77.30" y="120" width="249.70" height="5" fill="url(#a22)" mask="url(#vm)"/><rect x="77.30" y="125" width="249.70" height="5" fill="url(#a22)"/><rect x="77.30" y="125" width="249.70" height="5" fill="url(#a23)" mask="url(#vm)"/><rect x="77.30" y="130" width="249.70" height="5" fill="url(#a23)"/><rect x="77.30" y="130" width="249.70" height="5" fill="url(#a24)" mask="url(#vm)"/><rect x="77.30" y="135" width="249.70" height="5" fill="url(#a24)"/><rect x="77.30" y="135" width="249.70" height="5" fill="url(#a25)" mask="url(#vm)"/><rect x="77.30" y="140" width="249.70" height="5" fill="url(#a25)"/><rect x="77.30" y="140" width="249.70" height="5" fill="url(#a26)" mask="url(#vm)"/><rect x="77.30" y="145" width="249.70" height="5" fill="url(#a26)"/><rect x="77.30" y="145" width="249.70" height="5" fill="url(#a27)" mask="url(#vm)"/><rect x="77.30" y="150" width="249.70" height="5" fill="url(#a27)"/><rect x="77.30" y="150" width="249.70" height="5" fill="url(#a28)" mask="url(#vm)"/><rect x="77.30" y="155" width="249.70" height="5" fill="url(#a28)"/><rect x="77.30" y="155" width="249.70" height="5" fill="url(#a29)" mask="url(#vm)"/><rect x="77.30" y="160" width="249.70" height="5" fill="url(#a29)"/><rect x="77.30" y="160" width="249.70" height="5" fill="url(#a30)" mask="url(#vm)"/><rect x="77.30" y="165" width="249.70" height="5" fill="url(#a30)"/><rect x="77.30" y="165" width="249.70" height="5" fill="url(#a31)" mask="url(#vm)"/><rect x="77.30" y="170" width="249.70" height="5" fill="url(#a31)"/><rect x="77.30" y="170" width="249.70" height="5" fill="url(#a32)" mask="url(#vm)"/><rect x="77.30" y="175" width="249.70" height="5" fill="url(#a32)"/><rect x="77.30" y="175" width="249.70" height="5" fill="url(#a33)" mask="url(#vm)"/><rect x="77.30" y="180" width="249.70" height="5" fill="url(#a33)"/><rect x="77.30" y="180" width="249.70" height="5" fill="url(#a34)" mask="url(#vm)"/><rect x="77.30" y="185" width="249.70" height="5" fill="url(#a34)"/><rect x="77.30" y="185" width="249.70" height="5" fill="url(#a35)" mask="url(#vm)"/><rect x="77.30" y="190" width="249.70" height="5" fill="url(#a35)"/><rect x="77.30" y="190" width="249.70" height="5" fill="url(#a36)" mask="url(#vm)"/><rect x="77.30" y="195" width="249.70" height="5" fill="url(#a36)"/><rect x="77.30" y="195" width="249.70" height="5" fill="url(#a37)" mask="url(#vm)"/><rect x="77.30" y="200" width="249.70" height="5" fill="url(#a37)"/><rect x="77.30" y="200" width="249.70" height="5" fill="url(#a38)" mask="url(#vm)"/><rect x="77.30" y="205" width="249.70" height="5" fill="url(#a38)"/><rect x="77.30" y="205" width="249.70" height="5" fill="url(#a39)" mask="url(#vm)"/><rect x="77.30" y="210" width="249.70" height="5" fill="url(#a39)"/><rect x="77.30" y="210" width="249.70" height="5" fill="url(#a40)" mask="url(#vm)"/><rect x="77.30" y="215" width="249.70" height="5" fill="url(#a40)"/><rect x="77.30" y="215" width="249.70" height="5" fill="url(#a41)" mask="url(#vm)"/><rect x="77.30" y="220" width="249.70" height="5" fill="url(#a41)"/><rect x="77.30" y="220" width="249.70" height="5" fill="url(#a42)" mask="url(#vm)"/><rect x="77.30" y="225" width="249.70" height="5" fill="url(#a42)"/><rect x="77.30" y="225" width="249.70" height="5" fill="url(#a43)" mask="url(#vm)"/><rect x="77.30" y="230" width="249.70" height="5" fill="url(#a43)"/><rect x="77.30" y="230" width="249.70" height="5" fill="url(#a44)" mask="url(#vm)"/><rect x="77.30" y="235" width="249.70" height="5" fill="url(#a44)"/><rect x="77.30" y="235" width="249.70" height="5" fill="url(#a45)" mask="url(#vm)"/><rect x="77.30" y="240" width="249.70" height="5" fill="url(#a45)"/><rect x="77.30" y="240" width="249.70" height="5" fill="url(#a46)" mask="url(#vm)"/><rect x="77.30" y="245" width="249.70" height="5" fill="url(#a46)"/><rect x="77.30" y="245" width="249.70" height="5" fill="url(#a47)" mask="url(#vm)"/><rect x="77.30" y="250" width="249.70" height="5" fill="url(#a47)"/><rect x="77.30" y="250" width="249.70" height="5" fill="url(#a48)" mask="url(#vm)"/><rect x="77.30" y="255" width="249.70" height="5" fill="url(#a48)"/><rect x="77.30" y="255" width="249.70" height="5" fill="url(#a49)" mask="url(#vm)"/><rect x="77.30" y="260" width="249.70" height="5" fill="url(#a49)"/><rect x="77.30" y="260" width="249.70" height="5" fill="url(#a50)" mask="url(#vm)"/></g>
<rect x="72.65" y="10.00" width="259.65" height="260.00" fill="none" stroke="#454545" stroke-width="1.2"/>
<path d="M77.30 270.00v-3.60M77.30 10.00v3.60M89.78 270.00v-2.10M89.78 10.00v2.10M102.27 270.00v-2.10M102.27 10.00v2.10M114.75 270.00v-2.10M114.75 10.00v2.10M127.24 270.00v-2.10M127.24 10.00v2.10M139.72 270.00v-3.60M139.72 10.00v3.60M152.21 270.00v-2.10M152.21 10.00v2.10M164.69 270.00v-2.10M164.69 10.00v2.10M177.18 270.00v-2.10M177.18 10.00v2.10M189.66 270.00v-2.10M189.66 10.00v2.10M202.15 270.00v-3.60M202.15 10.00v3.60M214.63 270.00v-2.10M214.63 10.00v2.10M227.12 270.00v-2.10M227.12 10.00v2.10M239.61 270.00v-2.10M239.61 10.00v2.10M252.09 270.00v-2.10M252.09 10.00v2.10M264.57 270.00v-3.60M264.57 10.00v3.60M277.06 270.00v-2.10M277.06 10.00v2.10M289.54 270.00v-2.10M289.54 10.00v2.10M302.03 270.00v-2.10M302.03 10.00v2.10M314.51 270.00v-2.10M314.51 10.00v2.10M327.00 270.00v-3.60M327.00 10.00v3.60M72.65 265.00h3.60M332.30 265.00h-3.60M72.65 249.38h2.10M332.30 249.38h-2.10M72.65 233.75h2.10M332.30 233.75h-2.10M72.65 218.12h2.10M332.30 218.12h-2.10M72.65 202.50h3.60M332.30 202.50h-3.60M72.65 186.88h2.10M332.30 186.88h-2.10M72.65 171.25h2.10M332.30 171.25h-2.10M72.65 155.62h2.10M332.30 155.62h-2.10M72.65 140.00h3.60M332.30 140.00h-3.60M72.65 124.38h2.10M332.30 124.38h-2.10M72.65 108.75h2.10M332.30 108.75h-2.10M72.65 93.12h2.10M332.30 93.12h-2.10M72.65 77.50h3.60M332.30 77.50h-3.60M72.65 61.88h2.10M332.30 61.88h-2.10M72.65 46.25h2.10M332.30 46.25h-2.10M72.65 30.62h2.10M332.30 30.62h-2.10M72.65 15.00h3.60M332.30 15.00h-3.60" stroke="#000" stroke-width="0.9" fill="none"/>
<g font-size="19.0" fill="#000"><text x="77.30" y="293.80" text-anchor="middle">−2</text><text x="139.72" y="293.80" text-anchor="middle">−1</text><text x="202.15" y="293.80" text-anchor="middle">0</text><text x="264.57" y="293.80" text-anchor="middle">1</text><text x="327.00" y="293.80" text-anchor="middle">2</text><text x="66.05" y="272.00" text-anchor="end">0.6</text><text x="66.05" y="209.50" text-anchor="end">0.8</text><text x="66.05" y="147.00" text-anchor="end">1.0</text><text x="66.05" y="84.50" text-anchor="end">1.2</text><text x="66.05" y="22.00" text-anchor="end">1.4</text></g>
<rect x="346.30" y="77.20" width="12.30" height="184.90" fill="url(#cba)"/><path d="M358.60 255.05h5.2M358.60 248.00h5.2M358.60 240.96h5.2M358.60 233.91h5.2M358.60 219.81h5.2M358.60 212.76h5.2M358.60 205.72h5.2M358.60 198.67h5.2M358.60 184.57h5.2M358.60 177.52h5.2M358.60 170.48h5.2M358.60 163.43h5.2M358.60 149.33h5.2M358.60 142.28h5.2M358.60 135.24h5.2M358.60 128.19h5.2M358.60 114.09h5.2M358.60 107.04h5.2M358.60 100.00h5.2M358.60 92.95h5.2M358.60 78.85h5.2" stroke="#d4d4d4" stroke-width="0.8" fill="none"/><path d="M358.60 262.10h8.6M358.60 226.86h8.6M358.60 191.62h8.6M358.60 156.38h8.6M358.60 121.14h8.6M358.60 85.90h8.6" stroke="#6e6e6e" stroke-width="0.8" fill="none"/><g font-size="18.1" fill="#484848"><text x="372.40" y="268.40">0</text><text x="372.40" y="233.16">0.025</text><text x="372.40" y="197.92">0.050</text><text x="372.40" y="162.68">0.075</text><text x="372.40" y="127.44">0.100</text><text x="372.40" y="92.20">0.125</text></g>
<g clip-path="url(#cpb)"><rect x="495.80" y="14" width="248.40" height="5" fill="url(#b0)"/><rect x="495.80" y="14" width="248.40" height="5" fill="url(#b1)" mask="url(#vm)"/><rect x="495.80" y="19" width="248.40" height="5" fill="url(#b1)"/><rect x="495.80" y="19" width="248.40" height="5" fill="url(#b2)" mask="url(#vm)"/><rect x="495.80" y="24" width="248.40" height="5" fill="url(#b2)"/><rect x="495.80" y="24" width="248.40" height="5" fill="url(#b3)" mask="url(#vm)"/><rect x="495.80" y="29" width="248.40" height="5" fill="url(#b3)"/><rect x="495.80" y="29" width="248.40" height="5" fill="url(#b4)" mask="url(#vm)"/><rect x="495.80" y="34" width="248.40" height="5" fill="url(#b4)"/><rect x="495.80" y="34" width="248.40" height="5" fill="url(#b5)" mask="url(#vm)"/><rect x="495.80" y="39" width="248.40" height="5" fill="url(#b5)"/><rect x="495.80" y="39" width="248.40" height="5" fill="url(#b6)" mask="url(#vm)"/><rect x="495.80" y="44" width="248.40" height="5" fill="url(#b6)"/><rect x="495.80" y="44" width="248.40" height="5" fill="url(#b7)" mask="url(#vm)"/><rect x="495.80" y="49" width="248.40" height="5" fill="url(#b7)"/><rect x="495.80" y="49" width="248.40" height="5" fill="url(#b8)" mask="url(#vm)"/><rect x="495.80" y="54" width="248.40" height="5" fill="url(#b8)"/><rect x="495.80" y="54" width="248.40" height="5" fill="url(#b9)" mask="url(#vm)"/><rect x="495.80" y="59" width="248.40" height="5" fill="url(#b9)"/><rect x="495.80" y="59" width="248.40" height="5" fill="url(#b10)" mask="url(#vm)"/><rect x="495.80" y="64" width="248.40" height="5" fill="url(#b10)"/><rect x="495.80" y="64" width="248.40" height="5" fill="url(#b11)" mask="url(#vm)"/><rect x="495.80" y="69" width="248.40" height="5" fill="url(#b11)"/><rect x="495.80" y="69" width="248.40" height="5" fill="url(#b12)" mask="url(#vm)"/><rect x="495.80" y="74" width="248.40" height="5" fill="url(#b12)"/><rect x="495.80" y="74" width="248.40" height="5" fill="url(#b13)" mask="url(#vm)"/><rect x="495.80" y="79" width="248.40" height="5" fill="url(#b13)"/><rect x="495.80" y="79" width="248.40" height="5" fill="url(#b14)" mask="url(#vm)"/><rect x="495.80" y="84" width="248.40" height="5" fill="url(#b14)"/><rect x="495.80" y="84" width="248.40" height="5" fill="url(#b15)" mask="url(#vm)"/><rect x="495.80" y="89" width="248.40" height="5" fill="url(#b15)"/><rect x="495.80" y="89" width="248.40" height="5" fill="url(#b16)" mask="url(#vm)"/><rect x="495.80" y="94" width="248.40" height="5" fill="url(#b16)"/><rect x="495.80" y="94" width="248.40" height="5" fill="url(#b17)" mask="url(#vm)"/><rect x="495.80" y="99" width="248.40" height="5" fill="url(#b17)"/><rect x="495.80" y="99" width="248.40" height="5" fill="url(#b18)" mask="url(#vm)"/><rect x="495.80" y="104" width="248.40" height="5" fill="url(#b18)"/><rect x="495.80" y="104" width="248.40" height="5" fill="url(#b19)" mask="url(#vm)"/><rect x="495.80" y="109" width="248.40" height="5" fill="url(#b19)"/><rect x="495.80" y="109" width="248.40" height="5" fill="url(#b20)" mask="url(#vm)"/><rect x="495.80" y="114" width="248.40" height="5" fill="url(#b20)"/><rect x="495.80" y="114" width="248.40" height="5" fill="url(#b21)" mask="url(#vm)"/><rect x="495.80" y="119" width="248.40" height="5" fill="url(#b21)"/><rect x="495.80" y="119" width="248.40" height="5" fill="url(#b22)" mask="url(#vm)"/><rect x="495.80" y="124" width="248.40" height="5" fill="url(#b22)"/><rect x="495.80" y="124" width="248.40" height="5" fill="url(#b23)" mask="url(#vm)"/><rect x="495.80" y="129" width="248.40" height="5" fill="url(#b23)"/><rect x="495.80" y="129" width="248.40" height="5" fill="url(#b24)" mask="url(#vm)"/><rect x="495.80" y="134" width="248.40" height="5" fill="url(#b24)"/><rect x="495.80" y="134" width="248.40" height="5" fill="url(#b25)" mask="url(#vm)"/><rect x="495.80" y="139" width="248.40" height="5" fill="url(#b25)"/><rect x="495.80" y="139" width="248.40" height="5" fill="url(#b26)" mask="url(#vm)"/><rect x="495.80" y="144" width="248.40" height="5" fill="url(#b26)"/><rect x="495.80" y="144" width="248.40" height="5" fill="url(#b27)" mask="url(#vm)"/><rect x="495.80" y="149" width="248.40" height="5" fill="url(#b27)"/><rect x="495.80" y="149" width="248.40" height="5" fill="url(#b28)" mask="url(#vm)"/><rect x="495.80" y="154" width="248.40" height="5" fill="url(#b28)"/><rect x="495.80" y="154" width="248.40" height="5" fill="url(#b29)" mask="url(#vm)"/><rect x="495.80" y="159" width="248.40" height="5" fill="url(#b29)"/><rect x="495.80" y="159" width="248.40" height="5" fill="url(#b30)" mask="url(#vm)"/><rect x="495.80" y="164" width="248.40" height="5" fill="url(#b30)"/><rect x="495.80" y="164" width="248.40" height="5" fill="url(#b31)" mask="url(#vm)"/><rect x="495.80" y="169" width="248.40" height="5" fill="url(#b31)"/><rect x="495.80" y="169" width="248.40" height="5" fill="url(#b32)" mask="url(#vm)"/><rect x="495.80" y="174" width="248.40" height="5" fill="url(#b32)"/><rect x="495.80" y="174" width="248.40" height="5" fill="url(#b33)" mask="url(#vm)"/><rect x="495.80" y="179" width="248.40" height="5" fill="url(#b33)"/><rect x="495.80" y="179" width="248.40" height="5" fill="url(#b34)" mask="url(#vm)"/><rect x="495.80" y="184" width="248.40" height="5" fill="url(#b34)"/><rect x="495.80" y="184" width="248.40" height="5" fill="url(#b35)" mask="url(#vm)"/><rect x="495.80" y="189" width="248.40" height="5" fill="url(#b35)"/><rect x="495.80" y="189" width="248.40" height="5" fill="url(#b36)" mask="url(#vm)"/><rect x="495.80" y="194" width="248.40" height="5" fill="url(#b36)"/><rect x="495.80" y="194" width="248.40" height="5" fill="url(#b37)" mask="url(#vm)"/><rect x="495.80" y="199" width="248.40" height="5" fill="url(#b37)"/><rect x="495.80" y="199" width="248.40" height="5" fill="url(#b38)" mask="url(#vm)"/><rect x="495.80" y="204" width="248.40" height="5" fill="url(#b38)"/><rect x="495.80" y="204" width="248.40" height="5" fill="url(#b39)" mask="url(#vm)"/><rect x="495.80" y="209" width="248.40" height="5" fill="url(#b39)"/><rect x="495.80" y="209" width="248.40" height="5" fill="url(#b40)" mask="url(#vm)"/><rect x="495.80" y="214" width="248.40" height="5" fill="url(#b40)"/><rect x="495.80" y="214" width="248.40" height="5" fill="url(#b41)" mask="url(#vm)"/><rect x="495.80" y="219" width="248.40" height="5" fill="url(#b41)"/><rect x="495.80" y="219" width="248.40" height="5" fill="url(#b42)" mask="url(#vm)"/><rect x="495.80" y="224" width="248.40" height="5" fill="url(#b42)"/><rect x="495.80" y="224" width="248.40" height="5" fill="url(#b43)" mask="url(#vm)"/><rect x="495.80" y="229" width="248.40" height="5" fill="url(#b43)"/><rect x="495.80" y="229" width="248.40" height="5" fill="url(#b44)" mask="url(#vm)"/><rect x="495.80" y="234" width="248.40" height="5" fill="url(#b44)"/><rect x="495.80" y="234" width="248.40" height="5" fill="url(#b45)" mask="url(#vm)"/><rect x="495.80" y="239" width="248.40" height="5" fill="url(#b45)"/><rect x="495.80" y="239" width="248.40" height="5" fill="url(#b46)" mask="url(#vm)"/><rect x="495.80" y="244" width="248.40" height="5" fill="url(#b46)"/><rect x="495.80" y="244" width="248.40" height="5" fill="url(#b47)" mask="url(#vm)"/><rect x="495.80" y="249" width="248.40" height="5" fill="url(#b47)"/><rect x="495.80" y="249" width="248.40" height="5" fill="url(#b48)" mask="url(#vm)"/><rect x="495.80" y="254" width="248.40" height="5" fill="url(#b48)"/><rect x="495.80" y="254" width="248.40" height="5" fill="url(#b49)" mask="url(#vm)"/><rect x="495.80" y="259" width="248.40" height="5" fill="url(#b49)"/><rect x="495.80" y="259" width="248.40" height="5" fill="url(#b50)" mask="url(#vm)"/></g>
<rect x="491.00" y="9.65" width="258.50" height="258.60" fill="none" stroke="#454545" stroke-width="1.2"/>
<path d="M495.80 268.25v-3.60M495.80 9.65v3.60M508.22 268.25v-2.10M508.22 9.65v2.10M520.64 268.25v-2.10M520.64 9.65v2.10M533.06 268.25v-2.10M533.06 9.65v2.10M545.48 268.25v-2.10M545.48 9.65v2.10M557.90 268.25v-3.60M557.90 9.65v3.60M570.32 268.25v-2.10M570.32 9.65v2.10M582.74 268.25v-2.10M582.74 9.65v2.10M595.16 268.25v-2.10M595.16 9.65v2.10M607.58 268.25v-2.10M607.58 9.65v2.10M620.00 268.25v-3.60M620.00 9.65v3.60M632.42 268.25v-2.10M632.42 9.65v2.10M644.84 268.25v-2.10M644.84 9.65v2.10M657.26 268.25v-2.10M657.26 9.65v2.10M669.68 268.25v-2.10M669.68 9.65v2.10M682.10 268.25v-3.60M682.10 9.65v3.60M694.52 268.25v-2.10M694.52 9.65v2.10M706.94 268.25v-2.10M706.94 9.65v2.10M719.36 268.25v-2.10M719.36 9.65v2.10M731.78 268.25v-2.10M731.78 9.65v2.10M744.20 268.25v-3.60M744.20 9.65v3.60M491.00 263.20h3.60M749.50 263.20h-3.60M491.00 247.66h2.10M749.50 247.66h-2.10M491.00 232.11h2.10M749.50 232.11h-2.10M491.00 216.57h2.10M749.50 216.57h-2.10M491.00 201.02h3.60M749.50 201.02h-3.60M491.00 185.48h2.10M749.50 185.48h-2.10M491.00 169.94h2.10M749.50 169.94h-2.10M491.00 154.39h2.10M749.50 154.39h-2.10M491.00 138.85h3.60M749.50 138.85h-3.60M491.00 123.31h2.10M749.50 123.31h-2.10M491.00 107.76h2.10M749.50 107.76h-2.10M491.00 92.22h2.10M749.50 92.22h-2.10M491.00 76.68h3.60M749.50 76.68h-3.60M491.00 61.13h2.10M749.50 61.13h-2.10M491.00 45.59h2.10M749.50 45.59h-2.10M491.00 30.04h2.10M749.50 30.04h-2.10M491.00 14.50h3.60M749.50 14.50h-3.60" stroke="#000" stroke-width="0.9" fill="none"/>
<g font-size="19.0" fill="#000"><text x="495.80" y="292.05" text-anchor="middle">−2</text><text x="557.90" y="292.05" text-anchor="middle">−1</text><text x="620.00" y="292.05" text-anchor="middle">0</text><text x="682.10" y="292.05" text-anchor="middle">1</text><text x="744.20" y="292.05" text-anchor="middle">2</text><text x="484.40" y="270.20" text-anchor="end">0.6</text><text x="484.40" y="208.02" text-anchor="end">0.8</text><text x="484.40" y="145.85" text-anchor="end">1.0</text><text x="484.40" y="83.68" text-anchor="end">1.2</text><text x="484.40" y="21.50" text-anchor="end">1.4</text></g>
<rect x="762.30" y="83.00" width="11.70" height="177.20" fill="url(#cbb)"/><path d="M774.00 250.54h5.2M774.00 241.28h5.2M774.00 232.02h5.2M774.00 222.76h5.2M774.00 204.24h5.2M774.00 194.98h5.2M774.00 185.72h5.2M774.00 176.46h5.2M774.00 157.94h5.2M774.00 148.68h5.2M774.00 139.42h5.2M774.00 130.16h5.2M774.00 111.64h5.2M774.00 102.38h5.2M774.00 93.12h5.2M774.00 83.86h5.2" stroke="#d4d4d4" stroke-width="0.8" fill="none"/><path d="M774.00 259.80h8.6M774.00 213.50h8.6M774.00 167.20h8.6M774.00 120.90h8.6" stroke="#6e6e6e" stroke-width="0.8" fill="none"/><g font-size="19" fill="#484848"><text x="788.80" y="266.40">0</text><text x="788.80" y="220.10">0.05</text><text x="788.80" y="173.80">0.10</text><text x="788.80" y="127.50">0.15</text></g>
<g clip-path="url(#cpc)"><rect x="77.20" y="316" width="248.50" height="5" fill="url(#c0)"/><rect x="77.20" y="316" width="248.50" height="5" fill="url(#c1)" mask="url(#vm)"/><rect x="77.20" y="321" width="248.50" height="5" fill="url(#c1)"/><rect x="77.20" y="321" width="248.50" height="5" fill="url(#c2)" mask="url(#vm)"/><rect x="77.20" y="326" width="248.50" height="5" fill="url(#c2)"/><rect x="77.20" y="326" width="248.50" height="5" fill="url(#c3)" mask="url(#vm)"/><rect x="77.20" y="331" width="248.50" height="5" fill="url(#c3)"/><rect x="77.20" y="331" width="248.50" height="5" fill="url(#c4)" mask="url(#vm)"/><rect x="77.20" y="336" width="248.50" height="5" fill="url(#c4)"/><rect x="77.20" y="336" width="248.50" height="5" fill="url(#c5)" mask="url(#vm)"/><rect x="77.20" y="341" width="248.50" height="5" fill="url(#c5)"/><rect x="77.20" y="341" width="248.50" height="5" fill="url(#c6)" mask="url(#vm)"/><rect x="77.20" y="346" width="248.50" height="5" fill="url(#c6)"/><rect x="77.20" y="346" width="248.50" height="5" fill="url(#c7)" mask="url(#vm)"/><rect x="77.20" y="351" width="248.50" height="5" fill="url(#c7)"/><rect x="77.20" y="351" width="248.50" height="5" fill="url(#c8)" mask="url(#vm)"/><rect x="77.20" y="356" width="248.50" height="5" fill="url(#c8)"/><rect x="77.20" y="356" width="248.50" height="5" fill="url(#c9)" mask="url(#vm)"/><rect x="77.20" y="361" width="248.50" height="5" fill="url(#c9)"/><rect x="77.20" y="361" width="248.50" height="5" fill="url(#c10)" mask="url(#vm)"/><rect x="77.20" y="366" width="248.50" height="5" fill="url(#c10)"/><rect x="77.20" y="366" width="248.50" height="5" fill="url(#c11)" mask="url(#vm)"/><rect x="77.20" y="371" width="248.50" height="5" fill="url(#c11)"/><rect x="77.20" y="371" width="248.50" height="5" fill="url(#c12)" mask="url(#vm)"/><rect x="77.20" y="376" width="248.50" height="5" fill="url(#c12)"/><rect x="77.20" y="376" width="248.50" height="5" fill="url(#c13)" mask="url(#vm)"/><rect x="77.20" y="381" width="248.50" height="5" fill="url(#c13)"/><rect x="77.20" y="381" width="248.50" height="5" fill="url(#c14)" mask="url(#vm)"/><rect x="77.20" y="386" width="248.50" height="5" fill="url(#c14)"/><rect x="77.20" y="386" width="248.50" height="5" fill="url(#c15)" mask="url(#vm)"/><rect x="77.20" y="391" width="248.50" height="5" fill="url(#c15)"/><rect x="77.20" y="391" width="248.50" height="5" fill="url(#c16)" mask="url(#vm)"/><rect x="77.20" y="396" width="248.50" height="5" fill="url(#c16)"/><rect x="77.20" y="396" width="248.50" height="5" fill="url(#c17)" mask="url(#vm)"/><rect x="77.20" y="401" width="248.50" height="5" fill="url(#c17)"/><rect x="77.20" y="401" width="248.50" height="5" fill="url(#c18)" mask="url(#vm)"/><rect x="77.20" y="406" width="248.50" height="5" fill="url(#c18)"/><rect x="77.20" y="406" width="248.50" height="5" fill="url(#c19)" mask="url(#vm)"/><rect x="77.20" y="411" width="248.50" height="5" fill="url(#c19)"/><rect x="77.20" y="411" width="248.50" height="5" fill="url(#c20)" mask="url(#vm)"/><rect x="77.20" y="416" width="248.50" height="5" fill="url(#c20)"/><rect x="77.20" y="416" width="248.50" height="5" fill="url(#c21)" mask="url(#vm)"/><rect x="77.20" y="421" width="248.50" height="5" fill="url(#c21)"/><rect x="77.20" y="421" width="248.50" height="5" fill="url(#c22)" mask="url(#vm)"/><rect x="77.20" y="426" width="248.50" height="5" fill="url(#c22)"/><rect x="77.20" y="426" width="248.50" height="5" fill="url(#c23)" mask="url(#vm)"/><rect x="77.20" y="431" width="248.50" height="5" fill="url(#c23)"/><rect x="77.20" y="431" width="248.50" height="5" fill="url(#c24)" mask="url(#vm)"/><rect x="77.20" y="436" width="248.50" height="5" fill="url(#c24)"/><rect x="77.20" y="436" width="248.50" height="5" fill="url(#c25)" mask="url(#vm)"/><rect x="77.20" y="441" width="248.50" height="5" fill="url(#c25)"/><rect x="77.20" y="441" width="248.50" height="5" fill="url(#c26)" mask="url(#vm)"/><rect x="77.20" y="446" width="248.50" height="5" fill="url(#c26)"/><rect x="77.20" y="446" width="248.50" height="5" fill="url(#c27)" mask="url(#vm)"/><rect x="77.20" y="451" width="248.50" height="5" fill="url(#c27)"/><rect x="77.20" y="451" width="248.50" height="5" fill="url(#c28)" mask="url(#vm)"/><rect x="77.20" y="456" width="248.50" height="5" fill="url(#c28)"/><rect x="77.20" y="456" width="248.50" height="5" fill="url(#c29)" mask="url(#vm)"/><rect x="77.20" y="461" width="248.50" height="5" fill="url(#c29)"/><rect x="77.20" y="461" width="248.50" height="5" fill="url(#c30)" mask="url(#vm)"/><rect x="77.20" y="466" width="248.50" height="5" fill="url(#c30)"/><rect x="77.20" y="466" width="248.50" height="5" fill="url(#c31)" mask="url(#vm)"/><rect x="77.20" y="471" width="248.50" height="5" fill="url(#c31)"/><rect x="77.20" y="471" width="248.50" height="5" fill="url(#c32)" mask="url(#vm)"/><rect x="77.20" y="476" width="248.50" height="5" fill="url(#c32)"/><rect x="77.20" y="476" width="248.50" height="5" fill="url(#c33)" mask="url(#vm)"/><rect x="77.20" y="481" width="248.50" height="5" fill="url(#c33)"/><rect x="77.20" y="481" width="248.50" height="5" fill="url(#c34)" mask="url(#vm)"/><rect x="77.20" y="486" width="248.50" height="5" fill="url(#c34)"/><rect x="77.20" y="486" width="248.50" height="5" fill="url(#c35)" mask="url(#vm)"/><rect x="77.20" y="491" width="248.50" height="5" fill="url(#c35)"/><rect x="77.20" y="491" width="248.50" height="5" fill="url(#c36)" mask="url(#vm)"/><rect x="77.20" y="496" width="248.50" height="5" fill="url(#c36)"/><rect x="77.20" y="496" width="248.50" height="5" fill="url(#c37)" mask="url(#vm)"/><rect x="77.20" y="501" width="248.50" height="5" fill="url(#c37)"/><rect x="77.20" y="501" width="248.50" height="5" fill="url(#c38)" mask="url(#vm)"/><rect x="77.20" y="506" width="248.50" height="5" fill="url(#c38)"/><rect x="77.20" y="506" width="248.50" height="5" fill="url(#c39)" mask="url(#vm)"/><rect x="77.20" y="511" width="248.50" height="5" fill="url(#c39)"/><rect x="77.20" y="511" width="248.50" height="5" fill="url(#c40)" mask="url(#vm)"/><rect x="77.20" y="516" width="248.50" height="5" fill="url(#c40)"/><rect x="77.20" y="516" width="248.50" height="5" fill="url(#c41)" mask="url(#vm)"/><rect x="77.20" y="521" width="248.50" height="5" fill="url(#c41)"/><rect x="77.20" y="521" width="248.50" height="5" fill="url(#c42)" mask="url(#vm)"/><rect x="77.20" y="526" width="248.50" height="5" fill="url(#c42)"/><rect x="77.20" y="526" width="248.50" height="5" fill="url(#c43)" mask="url(#vm)"/><rect x="77.20" y="531" width="248.50" height="5" fill="url(#c43)"/><rect x="77.20" y="531" width="248.50" height="5" fill="url(#c44)" mask="url(#vm)"/><rect x="77.20" y="536" width="248.50" height="5" fill="url(#c44)"/><rect x="77.20" y="536" width="248.50" height="5" fill="url(#c45)" mask="url(#vm)"/><rect x="77.20" y="541" width="248.50" height="5" fill="url(#c45)"/><rect x="77.20" y="541" width="248.50" height="5" fill="url(#c46)" mask="url(#vm)"/><rect x="77.20" y="546" width="248.50" height="5" fill="url(#c46)"/><rect x="77.20" y="546" width="248.50" height="5" fill="url(#c47)" mask="url(#vm)"/><rect x="77.20" y="551" width="248.50" height="5" fill="url(#c47)"/><rect x="77.20" y="551" width="248.50" height="5" fill="url(#c48)" mask="url(#vm)"/><rect x="77.20" y="556" width="248.50" height="5" fill="url(#c48)"/><rect x="77.20" y="556" width="248.50" height="5" fill="url(#c49)" mask="url(#vm)"/><rect x="77.20" y="561" width="248.50" height="5" fill="url(#c49)"/><rect x="77.20" y="561" width="248.50" height="5" fill="url(#c50)" mask="url(#vm)"/></g>
<rect x="72.70" y="312.10" width="258.55" height="258.55" fill="none" stroke="#454545" stroke-width="1.2"/>
<path d="M77.20 570.65v-3.60M77.20 312.10v3.60M89.62 570.65v-2.10M89.62 312.10v2.10M102.05 570.65v-2.10M102.05 312.10v2.10M114.47 570.65v-2.10M114.47 312.10v2.10M126.90 570.65v-2.10M126.90 312.10v2.10M139.32 570.65v-3.60M139.32 312.10v3.60M151.75 570.65v-2.10M151.75 312.10v2.10M164.18 570.65v-2.10M164.18 312.10v2.10M176.60 570.65v-2.10M176.60 312.10v2.10M189.03 570.65v-2.10M189.03 312.10v2.10M201.45 570.65v-3.60M201.45 312.10v3.60M213.88 570.65v-2.10M213.88 312.10v2.10M226.30 570.65v-2.10M226.30 312.10v2.10M238.73 570.65v-2.10M238.73 312.10v2.10M251.15 570.65v-2.10M251.15 312.10v2.10M263.57 570.65v-3.60M263.57 312.10v3.60M276.00 570.65v-2.10M276.00 312.10v2.10M288.43 570.65v-2.10M288.43 312.10v2.10M300.85 570.65v-2.10M300.85 312.10v2.10M313.27 570.65v-2.10M313.27 312.10v2.10M325.70 570.65v-3.60M325.70 312.10v3.60M72.70 565.50h3.60M331.25 565.50h-3.60M72.70 549.96h2.10M331.25 549.96h-2.10M72.70 534.41h2.10M331.25 534.41h-2.10M72.70 518.87h2.10M331.25 518.87h-2.10M72.70 503.32h3.60M331.25 503.32h-3.60M72.70 487.78h2.10M331.25 487.78h-2.10M72.70 472.24h2.10M331.25 472.24h-2.10M72.70 456.69h2.10M331.25 456.69h-2.10M72.70 441.15h3.60M331.25 441.15h-3.60M72.70 425.61h2.10M331.25 425.61h-2.10M72.70 410.06h2.10M331.25 410.06h-2.10M72.70 394.52h2.10M331.25 394.52h-2.10M72.70 378.98h3.60M331.25 378.98h-3.60M72.70 363.43h2.10M331.25 363.43h-2.10M72.70 347.89h2.10M331.25 347.89h-2.10M72.70 332.34h2.10M331.25 332.34h-2.10M72.70 316.80h3.60M331.25 316.80h-3.60" stroke="#000" stroke-width="0.9" fill="none"/>
<g font-size="19.0" fill="#000"><text x="77.20" y="594.45" text-anchor="middle">−2</text><text x="139.32" y="594.45" text-anchor="middle">−1</text><text x="201.45" y="594.45" text-anchor="middle">0</text><text x="263.57" y="594.45" text-anchor="middle">1</text><text x="325.70" y="594.45" text-anchor="middle">2</text><text x="66.10" y="571.90" text-anchor="end">0.6</text><text x="66.10" y="509.72" text-anchor="end">0.8</text><text x="66.10" y="447.55" text-anchor="end">1.0</text><text x="66.10" y="385.38" text-anchor="end">1.2</text><text x="66.10" y="323.20" text-anchor="end">1.4</text></g>
<rect x="346.40" y="382.80" width="12.00" height="179.20" fill="url(#cbc)"/><path d="M358.40 554.31h5.2M358.40 546.62h5.2M358.40 538.93h5.2M358.40 531.24h5.2M358.40 515.86h5.2M358.40 508.17h5.2M358.40 500.48h5.2M358.40 492.79h5.2M358.40 477.41h5.2M358.40 469.72h5.2M358.40 462.03h5.2M358.40 454.34h5.2M358.40 438.96h5.2M358.40 431.27h5.2M358.40 423.58h5.2M358.40 415.89h5.2M358.40 400.51h5.2M358.40 392.82h5.2M358.40 385.13h5.2" stroke="#d4d4d4" stroke-width="0.8" fill="none"/><path d="M358.40 562.00h8.6M358.40 523.55h8.6M358.40 485.10h8.6M358.40 446.65h8.6M358.40 408.20h8.6" stroke="#6e6e6e" stroke-width="0.8" fill="none"/><g font-size="19" fill="#484848"><text x="372.40" y="568.60">0</text><text x="372.40" y="530.15">0.05</text><text x="372.40" y="491.70">0.10</text><text x="372.40" y="453.25">0.15</text><text x="372.40" y="414.80">0.20</text></g>
<g clip-path="url(#cpd)"><rect x="496.10" y="316" width="248.10" height="5" fill="url(#d0)"/><rect x="496.10" y="316" width="248.10" height="5" fill="url(#d1)" mask="url(#vm)"/><rect x="496.10" y="321" width="248.10" height="5" fill="url(#d1)"/><rect x="496.10" y="321" width="248.10" height="5" fill="url(#d2)" mask="url(#vm)"/><rect x="496.10" y="326" width="248.10" height="5" fill="url(#d2)"/><rect x="496.10" y="326" width="248.10" height="5" fill="url(#d3)" mask="url(#vm)"/><rect x="496.10" y="331" width="248.10" height="5" fill="url(#d3)"/><rect x="496.10" y="331" width="248.10" height="5" fill="url(#d4)" mask="url(#vm)"/><rect x="496.10" y="336" width="248.10" height="5" fill="url(#d4)"/><rect x="496.10" y="336" width="248.10" height="5" fill="url(#d5)" mask="url(#vm)"/><rect x="496.10" y="341" width="248.10" height="5" fill="url(#d5)"/><rect x="496.10" y="341" width="248.10" height="5" fill="url(#d6)" mask="url(#vm)"/><rect x="496.10" y="346" width="248.10" height="5" fill="url(#d6)"/><rect x="496.10" y="346" width="248.10" height="5" fill="url(#d7)" mask="url(#vm)"/><rect x="496.10" y="351" width="248.10" height="5" fill="url(#d7)"/><rect x="496.10" y="351" width="248.10" height="5" fill="url(#d8)" mask="url(#vm)"/><rect x="496.10" y="356" width="248.10" height="5" fill="url(#d8)"/><rect x="496.10" y="356" width="248.10" height="5" fill="url(#d9)" mask="url(#vm)"/><rect x="496.10" y="361" width="248.10" height="5" fill="url(#d9)"/><rect x="496.10" y="361" width="248.10" height="5" fill="url(#d10)" mask="url(#vm)"/><rect x="496.10" y="366" width="248.10" height="5" fill="url(#d10)"/><rect x="496.10" y="366" width="248.10" height="5" fill="url(#d11)" mask="url(#vm)"/><rect x="496.10" y="371" width="248.10" height="5" fill="url(#d11)"/><rect x="496.10" y="371" width="248.10" height="5" fill="url(#d12)" mask="url(#vm)"/><rect x="496.10" y="376" width="248.10" height="5" fill="url(#d12)"/><rect x="496.10" y="376" width="248.10" height="5" fill="url(#d13)" mask="url(#vm)"/><rect x="496.10" y="381" width="248.10" height="5" fill="url(#d13)"/><rect x="496.10" y="381" width="248.10" height="5" fill="url(#d14)" mask="url(#vm)"/><rect x="496.10" y="386" width="248.10" height="5" fill="url(#d14)"/><rect x="496.10" y="386" width="248.10" height="5" fill="url(#d15)" mask="url(#vm)"/><rect x="496.10" y="391" width="248.10" height="5" fill="url(#d15)"/><rect x="496.10" y="391" width="248.10" height="5" fill="url(#d16)" mask="url(#vm)"/><rect x="496.10" y="396" width="248.10" height="5" fill="url(#d16)"/><rect x="496.10" y="396" width="248.10" height="5" fill="url(#d17)" mask="url(#vm)"/><rect x="496.10" y="401" width="248.10" height="5" fill="url(#d17)"/><rect x="496.10" y="401" width="248.10" height="5" fill="url(#d18)" mask="url(#vm)"/><rect x="496.10" y="406" width="248.10" height="5" fill="url(#d18)"/><rect x="496.10" y="406" width="248.10" height="5" fill="url(#d19)" mask="url(#vm)"/><rect x="496.10" y="411" width="248.10" height="5" fill="url(#d19)"/><rect x="496.10" y="411" width="248.10" height="5" fill="url(#d20)" mask="url(#vm)"/><rect x="496.10" y="416" width="248.10" height="5" fill="url(#d20)"/><rect x="496.10" y="416" width="248.10" height="5" fill="url(#d21)" mask="url(#vm)"/><rect x="496.10" y="421" width="248.10" height="5" fill="url(#d21)"/><rect x="496.10" y="421" width="248.10" height="5" fill="url(#d22)" mask="url(#vm)"/><rect x="496.10" y="426" width="248.10" height="5" fill="url(#d22)"/><rect x="496.10" y="426" width="248.10" height="5" fill="url(#d23)" mask="url(#vm)"/><rect x="496.10" y="431" width="248.10" height="5" fill="url(#d23)"/><rect x="496.10" y="431" width="248.10" height="5" fill="url(#d24)" mask="url(#vm)"/><rect x="496.10" y="436" width="248.10" height="5" fill="url(#d24)"/><rect x="496.10" y="436" width="248.10" height="5" fill="url(#d25)" mask="url(#vm)"/><rect x="496.10" y="441" width="248.10" height="5" fill="url(#d25)"/><rect x="496.10" y="441" width="248.10" height="5" fill="url(#d26)" mask="url(#vm)"/><rect x="496.10" y="446" width="248.10" height="5" fill="url(#d26)"/><rect x="496.10" y="446" width="248.10" height="5" fill="url(#d27)" mask="url(#vm)"/><rect x="496.10" y="451" width="248.10" height="5" fill="url(#d27)"/><rect x="496.10" y="451" width="248.10" height="5" fill="url(#d28)" mask="url(#vm)"/><rect x="496.10" y="456" width="248.10" height="5" fill="url(#d28)"/><rect x="496.10" y="456" width="248.10" height="5" fill="url(#d29)" mask="url(#vm)"/><rect x="496.10" y="461" width="248.10" height="5" fill="url(#d29)"/><rect x="496.10" y="461" width="248.10" height="5" fill="url(#d30)" mask="url(#vm)"/><rect x="496.10" y="466" width="248.10" height="5" fill="url(#d30)"/><rect x="496.10" y="466" width="248.10" height="5" fill="url(#d31)" mask="url(#vm)"/><rect x="496.10" y="471" width="248.10" height="5" fill="url(#d31)"/><rect x="496.10" y="471" width="248.10" height="5" fill="url(#d32)" mask="url(#vm)"/><rect x="496.10" y="476" width="248.10" height="5" fill="url(#d32)"/><rect x="496.10" y="476" width="248.10" height="5" fill="url(#d33)" mask="url(#vm)"/><rect x="496.10" y="481" width="248.10" height="5" fill="url(#d33)"/><rect x="496.10" y="481" width="248.10" height="5" fill="url(#d34)" mask="url(#vm)"/><rect x="496.10" y="486" width="248.10" height="5" fill="url(#d34)"/><rect x="496.10" y="486" width="248.10" height="5" fill="url(#d35)" mask="url(#vm)"/><rect x="496.10" y="491" width="248.10" height="5" fill="url(#d35)"/><rect x="496.10" y="491" width="248.10" height="5" fill="url(#d36)" mask="url(#vm)"/><rect x="496.10" y="496" width="248.10" height="5" fill="url(#d36)"/><rect x="496.10" y="496" width="248.10" height="5" fill="url(#d37)" mask="url(#vm)"/><rect x="496.10" y="501" width="248.10" height="5" fill="url(#d37)"/><rect x="496.10" y="501" width="248.10" height="5" fill="url(#d38)" mask="url(#vm)"/><rect x="496.10" y="506" width="248.10" height="5" fill="url(#d38)"/><rect x="496.10" y="506" width="248.10" height="5" fill="url(#d39)" mask="url(#vm)"/><rect x="496.10" y="511" width="248.10" height="5" fill="url(#d39)"/><rect x="496.10" y="511" width="248.10" height="5" fill="url(#d40)" mask="url(#vm)"/><rect x="496.10" y="516" width="248.10" height="5" fill="url(#d40)"/><rect x="496.10" y="516" width="248.10" height="5" fill="url(#d41)" mask="url(#vm)"/><rect x="496.10" y="521" width="248.10" height="5" fill="url(#d41)"/><rect x="496.10" y="521" width="248.10" height="5" fill="url(#d42)" mask="url(#vm)"/><rect x="496.10" y="526" width="248.10" height="5" fill="url(#d42)"/><rect x="496.10" y="526" width="248.10" height="5" fill="url(#d43)" mask="url(#vm)"/><rect x="496.10" y="531" width="248.10" height="5" fill="url(#d43)"/><rect x="496.10" y="531" width="248.10" height="5" fill="url(#d44)" mask="url(#vm)"/><rect x="496.10" y="536" width="248.10" height="5" fill="url(#d44)"/><rect x="496.10" y="536" width="248.10" height="5" fill="url(#d45)" mask="url(#vm)"/><rect x="496.10" y="541" width="248.10" height="5" fill="url(#d45)"/><rect x="496.10" y="541" width="248.10" height="5" fill="url(#d46)" mask="url(#vm)"/><rect x="496.10" y="546" width="248.10" height="5" fill="url(#d46)"/><rect x="496.10" y="546" width="248.10" height="5" fill="url(#d47)" mask="url(#vm)"/><rect x="496.10" y="551" width="248.10" height="5" fill="url(#d47)"/><rect x="496.10" y="551" width="248.10" height="5" fill="url(#d48)" mask="url(#vm)"/><rect x="496.10" y="556" width="248.10" height="5" fill="url(#d48)"/><rect x="496.10" y="556" width="248.10" height="5" fill="url(#d49)" mask="url(#vm)"/><rect x="496.10" y="561" width="248.10" height="5" fill="url(#d49)"/><rect x="496.10" y="561" width="248.10" height="5" fill="url(#d50)" mask="url(#vm)"/></g>
<rect x="491.20" y="312.10" width="258.30" height="258.40" fill="none" stroke="#454545" stroke-width="1.2"/>
<path d="M496.10 570.50v-3.60M496.10 312.10v3.60M508.50 570.50v-2.10M508.50 312.10v2.10M520.91 570.50v-2.10M520.91 312.10v2.10M533.32 570.50v-2.10M533.32 312.10v2.10M545.72 570.50v-2.10M545.72 312.10v2.10M558.12 570.50v-3.60M558.12 312.10v3.60M570.53 570.50v-2.10M570.53 312.10v2.10M582.94 570.50v-2.10M582.94 312.10v2.10M595.34 570.50v-2.10M595.34 312.10v2.10M607.75 570.50v-2.10M607.75 312.10v2.10M620.15 570.50v-3.60M620.15 312.10v3.60M632.56 570.50v-2.10M632.56 312.10v2.10M644.96 570.50v-2.10M644.96 312.10v2.10M657.37 570.50v-2.10M657.37 312.10v2.10M669.77 570.50v-2.10M669.77 312.10v2.10M682.18 570.50v-3.60M682.18 312.10v3.60M694.58 570.50v-2.10M694.58 312.10v2.10M706.99 570.50v-2.10M706.99 312.10v2.10M719.39 570.50v-2.10M719.39 312.10v2.10M731.80 570.50v-2.10M731.80 312.10v2.10M744.20 570.50v-3.60M744.20 312.10v3.60M491.20 565.50h3.60M749.50 565.50h-3.60M491.20 553.07h2.10M749.50 553.07h-2.10M491.20 540.63h2.10M749.50 540.63h-2.10M491.20 528.20h2.10M749.50 528.20h-2.10M491.20 515.76h3.60M749.50 515.76h-3.60M491.20 503.32h2.10M749.50 503.32h-2.10M491.20 490.89h2.10M749.50 490.89h-2.10M491.20 478.46h2.10M749.50 478.46h-2.10M491.20 466.02h3.60M749.50 466.02h-3.60M491.20 453.59h2.10M749.50 453.59h-2.10M491.20 441.15h2.10M749.50 441.15h-2.10M491.20 428.72h2.10M749.50 428.72h-2.10M491.20 416.28h3.60M749.50 416.28h-3.60M491.20 403.85h2.10M749.50 403.85h-2.10M491.20 391.41h2.10M749.50 391.41h-2.10M491.20 378.98h2.10M749.50 378.98h-2.10M491.20 366.54h3.60M749.50 366.54h-3.60M491.20 354.11h2.10M749.50 354.11h-2.10M491.20 341.67h2.10M749.50 341.67h-2.10M491.20 329.24h2.10M749.50 329.24h-2.10M491.20 316.80h3.60M749.50 316.80h-3.60" stroke="#000" stroke-width="0.9" fill="none"/>
<g font-size="19.0" fill="#000"><text x="496.10" y="594.30" text-anchor="middle">−2</text><text x="558.12" y="594.30" text-anchor="middle">−1</text><text x="620.15" y="594.30" text-anchor="middle">0</text><text x="682.18" y="594.30" text-anchor="middle">1</text><text x="744.20" y="594.30" text-anchor="middle">2</text><text x="484.60" y="571.90" text-anchor="end">0.0</text><text x="484.60" y="522.16" text-anchor="end">0.2</text><text x="484.60" y="472.42" text-anchor="end">0.4</text><text x="484.60" y="422.68" text-anchor="end">0.6</text><text x="484.60" y="372.94" text-anchor="end">0.8</text><text x="484.60" y="323.20" text-anchor="end">1.0</text></g>
<rect x="762.30" y="375.10" width="12.40" height="188.00" fill="url(#cbd)"/><path d="M774.70 555.88h5.2M774.70 548.66h5.2M774.70 541.44h5.2M774.70 534.22h5.2M774.70 519.78h5.2M774.70 512.56h5.2M774.70 505.34h5.2M774.70 498.12h5.2M774.70 483.68h5.2M774.70 476.46h5.2M774.70 469.24h5.2M774.70 462.02h5.2M774.70 447.58h5.2M774.70 440.36h5.2M774.70 433.14h5.2M774.70 425.92h5.2M774.70 411.48h5.2M774.70 404.26h5.2M774.70 397.04h5.2M774.70 389.82h5.2" stroke="#d4d4d4" stroke-width="0.8" fill="none"/><path d="M774.70 563.10h8.6M774.70 527.00h8.6M774.70 490.90h8.6M774.70 454.80h8.6M774.70 418.70h8.6M774.70 382.60h8.6" stroke="#6e6e6e" stroke-width="0.8" fill="none"/><g font-size="18.1" fill="#484848"><text x="788.80" y="569.40">0</text><text x="788.80" y="533.30">0.025</text><text x="788.80" y="497.20">0.050</text><text x="788.80" y="461.10">0.075</text><text x="788.80" y="425.00">0.100</text><text x="788.80" y="388.90">0.125</text></g>
<text x="3.4" y="29.8" font-size="29">(a)</text>
<text x="423.1" y="28.5" font-size="29">(b)</text>
<text x="3.4" y="331.0" font-size="29">(c)</text>
<text x="421.9" y="330.5" font-size="29">(d)</text>
<g transform="translate(23.40,162.90) rotate(-90)"><text><tspan x="0.00" y="0.00" font-size="21.30">Δ</tspan><tspan x="13.30" y="4.00" font-size="15.00" font-style="italic">m</tspan><tspan x="26.00" y="3.00" font-size="28.00">/</tspan><tspan x="34.70" y="0.00" font-size="21.00" font-style="italic">ω</tspan><tspan x="49.00" y="4.00" font-size="16.00" font-style="italic">b</tspan><tspan x="3.80" y="-6.10" font-size="18.00">˜</tspan></text></g>
<g transform="translate(448.25,164.20) rotate(-90)"><text><tspan x="0.00" y="0.00" font-size="21.30">Δ</tspan><tspan x="13.30" y="4.00" font-size="15.00" font-style="italic">m</tspan><tspan x="26.00" y="3.00" font-size="28.00">/</tspan><tspan x="34.70" y="0.00" font-size="21.00" font-style="italic">ω</tspan><tspan x="49.00" y="4.00" font-size="16.00" font-style="italic">b</tspan><tspan x="3.80" y="-6.10" font-size="18.00">˜</tspan></text></g>
<g transform="translate(23.80,465.30) rotate(-90)"><text><tspan x="0.00" y="0.00" font-size="21.30">Δ</tspan><tspan x="13.30" y="4.00" font-size="15.00" font-style="italic">m</tspan><tspan x="26.00" y="3.00" font-size="28.00">/</tspan><tspan x="34.70" y="0.00" font-size="21.00" font-style="italic">ω</tspan><tspan x="49.00" y="4.00" font-size="16.00" font-style="italic">b</tspan><tspan x="3.80" y="-6.10" font-size="18.00">˜</tspan></text></g>
<g transform="translate(443.40,476.90) rotate(-90)"><text><tspan x="0.00" y="0.00" font-size="22.50" font-style="italic">G</tspan><tspan x="15.40" y="2.30" font-size="15.00" font-style="italic">mb</tspan><tspan x="36.10" y="2.40" font-size="28.00">/</tspan><tspan x="44.70" y="-1.00" font-size="21.30" font-style="italic">g</tspan><tspan x="56.00" y="2.60" font-size="15.00" font-style="italic">ma</tspan></text></g>
<g transform="translate(171.10,627.50)"><text><tspan x="0.00" y="0.00" font-size="24.50">Δ</tspan><tspan x="14.90" y="3.50" font-size="17.00" font-style="italic">a</tspan><tspan x="25.60" y="3.50" font-size="32.00">/</tspan><tspan x="35.30" y="0.50" font-size="24.50" font-style="italic">ω</tspan><tspan x="52.10" y="3.50" font-size="17.00" font-style="italic">b</tspan></text></g>
<g transform="translate(588.60,626.90)"><text><tspan x="0.00" y="0.00" font-size="24.50">Δ</tspan><tspan x="14.90" y="3.50" font-size="17.00" font-style="italic">a</tspan><tspan x="25.60" y="3.50" font-size="32.00">/</tspan><tspan x="35.30" y="0.50" font-size="24.50" font-style="italic">ω</tspan><tspan x="52.10" y="3.50" font-size="17.00" font-style="italic">b</tspan></text></g>
</svg>
</body></html>
